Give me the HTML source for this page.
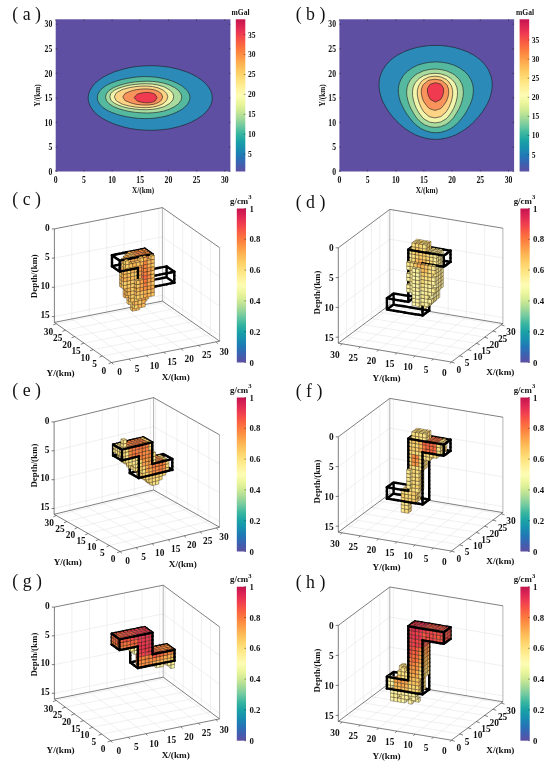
<!DOCTYPE html>
<html><head><meta charset="utf-8"><title>Figure</title>
<style>html,body{margin:0;padding:0;background:#fff}svg{display:block}text{font-family:"Liberation Serif","Times New Roman",serif;font-weight:700;fill:#111}</style>
</head><body>
<svg width="550" height="766" viewBox="0 0 550 766">
<rect width="550" height="766" fill="#fff"/>
<defs><linearGradient id="cb" x1="0" y1="0" x2="0" y2="1"><stop offset="0.00" stop-color="#c4144e"/><stop offset="0.05" stop-color="#de2654"/><stop offset="0.10" stop-color="#f03e50"/><stop offset="0.15" stop-color="#f95c42"/><stop offset="0.20" stop-color="#fc7a3e"/><stop offset="0.25" stop-color="#fd9846"/><stop offset="0.30" stop-color="#fdb654"/><stop offset="0.35" stop-color="#fece66"/><stop offset="0.40" stop-color="#fee27e"/><stop offset="0.45" stop-color="#fef19a"/><stop offset="0.50" stop-color="#fdfcb4"/><stop offset="0.55" stop-color="#ecf69c"/><stop offset="0.60" stop-color="#cee994"/><stop offset="0.65" stop-color="#a2d998"/><stop offset="0.70" stop-color="#70c9a0"/><stop offset="0.75" stop-color="#38b6a0"/><stop offset="0.80" stop-color="#1aa2a6"/><stop offset="0.85" stop-color="#188eb0"/><stop offset="0.90" stop-color="#2276b6"/><stop offset="0.95" stop-color="#3e60b0"/><stop offset="1.00" stop-color="#5e4fa2"/></linearGradient></defs>
<rect x="55.7" y="19.3" width="174.7" height="152.2" fill="#5e4fa2"/>
<path d="M142,129.9L147.1,130.2L152.7,130.3L158.3,130L159.5,129.9L163.8,129.5L169.4,128.8L174.9,127.6L179.5,126.4L180.5,126.1L186.1,124.3L189.6,122.8L191.6,121.9L196.6,119.3L197.2,118.9L201.9,115.7L202.8,115L205.9,112.2L208.3,109.1L208.7,108.6L210.8,105.1L211.9,101.5L212.3,98L211.9,94.5L210.8,90.9L208.7,87.4L208.3,86.9L205.9,83.8L202.8,81L201.9,80.3L197.2,77.1L196.6,76.7L191.6,74.1L189.6,73.2L186.1,71.7L180.5,69.9L179.5,69.6L174.9,68.4L169.4,67.2L163.8,66.5L159.5,66.1L158.3,66L152.7,65.7L147.1,65.8L142,66.1L141.6,66.1L136,66.6L130.4,67.5L124.9,68.7L121.8,69.6L119.3,70.3L113.7,72.1L111.4,73.2L108.2,74.5L104.1,76.7L102.6,77.5L98.6,80.3L97,81.6L94.5,83.8L91.8,87.4L91.5,87.9L89.7,90.9L88.5,94.5L88.1,98L88.5,101.5L89.7,105.1L91.5,108.1L91.8,108.6L94.5,112.2L97,114.4L98.6,115.7L102.6,118.5L104.1,119.3L108.2,121.5L111.4,122.8L113.7,123.9L119.3,125.7L121.8,126.4L124.9,127.3L130.4,128.5L136,129.4L141.6,129.9Z" fill="#2b8ab8" stroke="#1a1a1a" stroke-width=".6"/>
<path d="M128.7,117L133.2,117.8L138.7,118.4L144.2,118.6L149.6,118.5L155.1,118.1L160.5,117.2L161.4,117L166,116.1L171.4,114.4L173,113.8L176.9,112.1L179.9,110.5L182.4,108.9L184.5,107.3L187.6,104.1L187.8,103.6L189.4,100.8L190,97.6L189.4,94.4L187.8,91.6L187.6,91.1L184.5,87.9L182.4,86.3L179.9,84.7L176.9,83.1L173,81.4L171.4,80.8L166,79.1L161.4,78.2L160.5,78L155.1,77.1L149.6,76.7L144.2,76.6L138.7,76.8L133.2,77.4L128.7,78.2L127.8,78.3L122.3,79.4L116.9,80.9L115.6,81.4L111.4,82.9L107.7,84.7L106,85.6L102.7,87.9L100.5,90.2L99.6,91.1L97.8,94.4L97.3,97.6L97.8,100.8L99.6,104.1L100.5,105L102.7,107.3L106,109.6L107.7,110.5L111.4,112.3L115.6,113.8L116.9,114.3L122.3,115.8L127.8,116.9Z" fill="#55b9a0" stroke="#1a1a1a" stroke-width=".6"/>
<path d="M146.4,113L146.9,113L147.3,113L152.5,112.8L158,112.2L163.6,111.1L167.7,109.8L169.2,109.3L174.6,106.6L174.8,106.5L178.8,103.5L180.4,101.1L181,100.3L181.8,97.1L181,93.9L180.4,93.1L178.8,90.7L174.8,87.7L174.6,87.6L169.2,84.9L167.7,84.4L163.6,83.1L158,82L152.5,81.4L147.3,81.2L146.9,81.2L146.4,81.2L141.3,81.4L135.7,81.8L130.1,82.6L124.6,83.8L122.6,84.4L119,85.4L113.6,87.6L113.4,87.7L108.8,90.7L107.8,91.9L106.3,93.9L105.5,97.1L106.3,100.3L107.8,102.3L108.8,103.5L113.4,106.5L113.6,106.6L119,108.8L122.6,109.8L124.6,110.4L130.1,111.6L135.7,112.4L141.3,112.8Z" fill="#a9db9f" stroke="#1a1a1a" stroke-width=".6"/>
<path d="M122.4,106.5L123.8,107L129.5,108.3L135.2,109.1L140.9,109.6L146.5,109.7L152.2,109.4L157.9,108.5L163.6,106.8L164.4,106.5L169.2,103.8L170,103.2L172.9,100L173.7,96.7L172.9,93.5L170,90.3L169.2,89.7L164.4,87L163.6,86.7L157.9,85L152.2,84.1L146.5,83.8L140.9,83.9L135.2,84.4L129.5,85.2L123.8,86.5L122.4,87L118.2,88.4L114.4,90.3L112.5,91.8L110.8,93.5L109.8,96.8L110.8,100L112.5,101.7L114.4,103.2L118.2,105.1Z" fill="#f1f4ab" stroke="#1a1a1a" stroke-width=".6"/>
<path d="M136,107.1L140.7,107.6L146.5,107.7L152.3,107.2L152.7,107.1L158,105.9L163,103.7L163.8,103.1L166.7,100.3L167.8,96.8L166.7,93.4L163.8,90.6L163,90L158,87.8L152.7,86.6L152.3,86.5L146.5,86L140.7,86.1L136,86.6L135,86.7L129.2,87.7L123.4,89.2L121.4,90L117.7,92L115.9,93.4L114.4,96.8L115.9,100.3L117.7,101.7L121.4,103.7L123.4,104.5L129.2,106L135,107Z" fill="#fdd485" stroke="#1a1a1a" stroke-width=".6"/>
<path d="M133.5,103.7L136.7,104.4L142.2,105L147.7,105.1L153.1,104.4L155.6,103.7L158.6,102.4L161.3,100.4L162.7,97L161.3,93.6L158.6,91.6L155.6,90.3L153.1,89.6L147.7,88.9L142.2,89L136.7,89.6L133.5,90.3L131.3,90.9L125.8,93.1L124.9,93.6L122.8,97L124.9,100.4L125.8,100.9L131.3,103.1Z" fill="#f9935c" stroke="#1a1a1a" stroke-width=".6"/>
<path d="M137.2,100.9L139.9,101.9L144.5,102.7L149.1,102.8L153.7,101.7L155.1,100.9L157.1,97.6L155.1,94.3L153.7,93.5L149.1,92.4L144.5,92.5L139.9,93.3L137.2,94.3L135.3,96.1L134.2,97.6L135.3,99.1Z" fill="#ef3a50" stroke="#1a1a1a" stroke-width=".6"/>
<text transform="translate(55.7 183.4) scale(0.82 1)" font-size="9.4" text-anchor="middle">0</text>
<text transform="translate(52.3 174.7) scale(0.82 1)" font-size="9.4" text-anchor="end">0</text>
<text transform="translate(83.9 183.4) scale(0.82 1)" font-size="9.4" text-anchor="middle">5</text>
<text transform="translate(52.3 150.2) scale(0.82 1)" font-size="9.4" text-anchor="end">5</text>
<text transform="translate(112.1 183.4) scale(0.82 1)" font-size="9.4" text-anchor="middle">10</text>
<text transform="translate(52.3 125.6) scale(0.82 1)" font-size="9.4" text-anchor="end">10</text>
<text transform="translate(140.2 183.4) scale(0.82 1)" font-size="9.4" text-anchor="middle">15</text>
<text transform="translate(52.3 101.1) scale(0.82 1)" font-size="9.4" text-anchor="end">15</text>
<text transform="translate(168.4 183.4) scale(0.82 1)" font-size="9.4" text-anchor="middle">20</text>
<text transform="translate(52.3 76.5) scale(0.82 1)" font-size="9.4" text-anchor="end">20</text>
<text transform="translate(196.6 183.4) scale(0.82 1)" font-size="9.4" text-anchor="middle">25</text>
<text transform="translate(52.3 52) scale(0.82 1)" font-size="9.4" text-anchor="end">25</text>
<text transform="translate(224.8 183.4) scale(0.82 1)" font-size="9.4" text-anchor="middle">30</text>
<text transform="translate(52.3 27.4) scale(0.82 1)" font-size="9.4" text-anchor="end">30</text>
<path d="M55.7,171.5v-1.6M55.7,19.3v1.6M55.7,171.5h1.6M230.4,171.5h-1.6M83.9,171.5v-1.6M83.9,19.3v1.6M55.7,147h1.6M230.4,147h-1.6M112.1,171.5v-1.6M112.1,19.3v1.6M55.7,122.4h1.6M230.4,122.4h-1.6M140.2,171.5v-1.6M140.2,19.3v1.6M55.7,97.9h1.6M230.4,97.9h-1.6M168.4,171.5v-1.6M168.4,19.3v1.6M55.7,73.3h1.6M230.4,73.3h-1.6M196.6,171.5v-1.6M196.6,19.3v1.6M55.7,48.8h1.6M230.4,48.8h-1.6M224.8,171.5v-1.6M224.8,19.3v1.6M55.7,24.2h1.6M230.4,24.2h-1.6" stroke="#222" stroke-width=".5" fill="none"/>
<text transform="translate(143.1 193.1) scale(0.88 1)" font-size="8.2" text-anchor="middle">X/(km)</text>
<text transform="translate(39.5 95.4) rotate(-90) scale(0.88 1)" font-size="8.2" text-anchor="middle">Y/(km)</text>
<rect x="235.8" y="19.3" width="9.5" height="152.2" fill="url(#cb)"/>
<text transform="translate(247.9 157.1) scale(0.85 1)" font-size="8.9" text-anchor="start">5</text>
<text transform="translate(247.9 137.1) scale(0.85 1)" font-size="8.9" text-anchor="start">10</text>
<text transform="translate(247.9 117.2) scale(0.85 1)" font-size="8.9" text-anchor="start">15</text>
<text transform="translate(247.9 97.3) scale(0.85 1)" font-size="8.9" text-anchor="start">20</text>
<text transform="translate(247.9 77.4) scale(0.85 1)" font-size="8.9" text-anchor="start">25</text>
<text transform="translate(247.9 57.4) scale(0.85 1)" font-size="8.9" text-anchor="start">30</text>
<text transform="translate(247.9 37.5) scale(0.85 1)" font-size="8.9" text-anchor="start">35</text>
<path d="M245.3,154.2h-1.5M245.3,134.2h-1.5M245.3,114.3h-1.5M245.3,94.4h-1.5M245.3,74.5h-1.5M245.3,54.5h-1.5M245.3,34.6h-1.5" stroke="#222" stroke-width=".5" fill="none"/>
<text transform="translate(240.5 14.9) scale(0.88 1)" font-size="8.6" text-anchor="middle">mGal</text>
<text x="12.3" y="20.3" font-size="17.8" text-anchor="start" style="font-weight:400">( a )</text>
<rect x="339.4" y="19.3" width="174.7" height="152.2" fill="#5e4fa2"/>
<path d="M422.4,137.3L425.4,138.2L430.5,139.1L435.6,139.4L440.7,139.1L445.8,138.2L448.8,137.3L450.9,136.7L456.1,134.7L459.1,133L461.5,131.7L465.8,128.8L467,127.9L471,124.6L472.7,122.9L475.4,120.3L478.8,116.4L479.1,116.1L482.4,111.9L485.1,107.6L485.5,106.9L487.5,103.4L489.4,99.2L490.8,94.9L491.7,90.7L492.2,86.4L492.1,82.2L491.5,78L490.1,73.7L489.9,73.3L488.2,69.5L485.3,65.3L484.9,64.7L481.5,61L479.3,59.1L476.2,56.8L473.4,54.9L468.8,52.6L467.3,51.8L461.1,49.4L457.2,48.3L454.8,47.6L448.5,46.4L442,45.6L435.6,45.4L429.2,45.6L422.7,46.4L416.4,47.6L414,48.3L410.1,49.4L403.9,51.8L402.4,52.6L397.8,54.9L395,56.8L391.9,59.1L389.7,61L386.3,64.7L385.9,65.3L383,69.5L381.3,73.3L381.1,73.7L379.7,78L379.1,82.2L379,86.4L379.5,90.7L380.4,94.9L381.8,99.2L383.7,103.4L385.7,106.9L386.1,107.6L388.8,111.9L392.1,116.1L392.4,116.4L395.8,120.3L398.5,122.9L400.2,124.6L404.2,127.9L405.4,128.8L409.7,131.7L412.1,133L415.1,134.7L420.3,136.7Z" fill="#2b8ab8" stroke="#1a1a1a" stroke-width=".6"/>
<path d="M426.5,131L430.9,132.3L435.8,132.8L440.8,132.3L445.2,131L445.8,130.9L450.9,128.5L453.4,126.8L456.2,124.4L458.3,122.5L461.8,118.2L461.8,118.2L465,113.9L467.5,109.7L467.8,108.9L469.7,105.4L471.5,101.1L472.7,96.8L473.3,92.5L473.3,88.3L472.6,84L470.9,79.7L470.6,79.2L468.3,75.4L465.3,72.2L464.2,71.2L459.7,68L457.6,66.9L453.9,65.1L447.9,63.3L443.6,62.6L441.9,62.3L435.8,61.9L429.8,62.3L428.1,62.6L423.8,63.3L417.8,65.1L414.1,66.9L412,68L407.5,71.2L406.4,72.2L403.4,75.4L401.1,79.2L400.8,79.7L399.1,84L398.4,88.3L398.4,92.5L399,96.8L400.2,101.1L402,105.4L403.9,108.9L404.2,109.7L406.7,113.9L409.9,118.2L409.9,118.2L413.4,122.5L415.5,124.4L418.3,126.8L420.8,128.5L425.9,130.9Z" fill="#55b9a0" stroke="#1a1a1a" stroke-width=".6"/>
<path d="M428.8,126.4L429.8,126.8L435,127.4L440.2,126.8L441.2,126.4L445.5,124.8L449.3,122.1L450.8,120.7L453.5,117.8L456.3,113.5L456.4,113.2L458.8,109.2L460.7,104.9L462.1,100.7L462.6,98L463.1,96.4L463.4,92.1L463.1,89.7L463,87.8L461.7,83.5L459.1,79.2L458,78.1L454.5,74.9L452.4,73.5L446.7,70.9L445.3,70.6L440.9,69.5L435,69L429.1,69.5L424.7,70.6L423.3,70.9L417.6,73.5L415.5,74.9L412,78.1L410.9,79.2L408.3,83.5L407,87.8L406.9,89.7L406.6,92.1L406.9,96.4L407.4,98L407.9,100.7L409.3,104.9L411.2,109.2L413.6,113.2L413.7,113.5L416.5,117.8L419.2,120.7L420.7,122.1L424.5,124.8Z" fill="#a9db9f" stroke="#1a1a1a" stroke-width=".6"/>
<path d="M428.6,121.6L429.6,122.1L435,122.9L440.4,122.1L441.4,121.6L445.9,119L447.7,117.3L451,113L451.6,112L453.5,108.7L455.3,104.4L456.6,100L457.4,95.7L457.5,91.4L456.8,87.1L454.9,82.8L452.2,79.7L450.8,78.4L446.5,75.7L441.4,74.1L440.8,73.9L435,73.3L429.2,73.9L428.6,74.1L423.5,75.7L419.2,78.4L417.8,79.7L415.1,82.8L413.2,87.1L412.5,91.4L412.6,95.7L413.4,100L414.7,104.4L416.5,108.7L418.4,112L419,113L422.3,117.3L424.1,119Z" fill="#f1f4ab" stroke="#1a1a1a" stroke-width=".6"/>
<path d="M429,116.5L429.4,116.7L435,117.9L440.6,116.7L441,116.5L446,112.1L446.3,111.7L448.7,107.8L450.6,103.4L451.9,99.2L451.9,99.1L452.7,94.7L452.6,90.4L451.9,87.6L451.5,86L448.7,81.7L446.3,79.5L441.8,77.3L440.6,76.9L435,76.1L429.4,76.9L428.2,77.3L423.7,79.5L421.3,81.7L418.5,86L418.1,87.6L417.4,90.4L417.3,94.7L418.1,99.1L418.1,99.2L419.4,103.4L421.3,107.8L423.7,111.7L424,112.1Z" fill="#fdd485" stroke="#1a1a1a" stroke-width=".6"/>
<path d="M432.3,109.6L435,110.4L437.7,109.6L440.8,108.5L443.5,105.5L446.3,101.5L446.5,101L447.9,97.4L448.7,93.3L448.6,89.2L447.1,85.1L446.5,84.4L442.4,81L440.8,80.1L435,79.2L429.2,80.1L427.6,81L423.5,84.4L422.9,85.1L421.4,89.2L421.3,93.3L422.1,97.4L423.5,101L423.7,101.5L426.5,105.5L429.2,108.5Z" fill="#f9935c" stroke="#1a1a1a" stroke-width=".6"/>
<path d="M430.8,99.7L435.5,102.1L440.3,99.7L440.8,99.3L442.6,95.9L443.7,92.1L443.5,88.3L441.3,84.6L440.8,84.2L435.5,82.7L430.3,84.2L429.8,84.6L427.6,88.3L427.4,92.1L428.5,95.9L430.3,99.3Z" fill="#ef3a50" stroke="#1a1a1a" stroke-width=".6"/>
<text transform="translate(339.4 183.4) scale(0.82 1)" font-size="9.4" text-anchor="middle">0</text>
<text transform="translate(336 174.7) scale(0.82 1)" font-size="9.4" text-anchor="end">0</text>
<text transform="translate(367.6 183.4) scale(0.82 1)" font-size="9.4" text-anchor="middle">5</text>
<text transform="translate(336 150.2) scale(0.82 1)" font-size="9.4" text-anchor="end">5</text>
<text transform="translate(395.8 183.4) scale(0.82 1)" font-size="9.4" text-anchor="middle">10</text>
<text transform="translate(336 125.6) scale(0.82 1)" font-size="9.4" text-anchor="end">10</text>
<text transform="translate(423.9 183.4) scale(0.82 1)" font-size="9.4" text-anchor="middle">15</text>
<text transform="translate(336 101.1) scale(0.82 1)" font-size="9.4" text-anchor="end">15</text>
<text transform="translate(452.1 183.4) scale(0.82 1)" font-size="9.4" text-anchor="middle">20</text>
<text transform="translate(336 76.5) scale(0.82 1)" font-size="9.4" text-anchor="end">20</text>
<text transform="translate(480.3 183.4) scale(0.82 1)" font-size="9.4" text-anchor="middle">25</text>
<text transform="translate(336 52) scale(0.82 1)" font-size="9.4" text-anchor="end">25</text>
<text transform="translate(508.5 183.4) scale(0.82 1)" font-size="9.4" text-anchor="middle">30</text>
<text transform="translate(336 27.4) scale(0.82 1)" font-size="9.4" text-anchor="end">30</text>
<path d="M339.4,171.5v-1.6M339.4,19.3v1.6M339.4,171.5h1.6M514.1,171.5h-1.6M367.6,171.5v-1.6M367.6,19.3v1.6M339.4,147h1.6M514.1,147h-1.6M395.8,171.5v-1.6M395.8,19.3v1.6M339.4,122.4h1.6M514.1,122.4h-1.6M423.9,171.5v-1.6M423.9,19.3v1.6M339.4,97.9h1.6M514.1,97.9h-1.6M452.1,171.5v-1.6M452.1,19.3v1.6M339.4,73.3h1.6M514.1,73.3h-1.6M480.3,171.5v-1.6M480.3,19.3v1.6M339.4,48.8h1.6M514.1,48.8h-1.6M508.5,171.5v-1.6M508.5,19.3v1.6M339.4,24.2h1.6M514.1,24.2h-1.6" stroke="#222" stroke-width=".5" fill="none"/>
<text transform="translate(426.8 193.1) scale(0.88 1)" font-size="8.2" text-anchor="middle">X/(km)</text>
<text transform="translate(325 95.4) rotate(-90) scale(0.88 1)" font-size="8.2" text-anchor="middle">Y/(km)</text>
<rect x="519.6" y="19.3" width="9.6" height="152.2" fill="url(#cb)"/>
<text transform="translate(531.8 157.5) scale(0.85 1)" font-size="8.9" text-anchor="start">5</text>
<text transform="translate(531.8 138.4) scale(0.85 1)" font-size="8.9" text-anchor="start">10</text>
<text transform="translate(531.8 119.3) scale(0.85 1)" font-size="8.9" text-anchor="start">15</text>
<text transform="translate(531.8 100.2) scale(0.85 1)" font-size="8.9" text-anchor="start">20</text>
<text transform="translate(531.8 81.1) scale(0.85 1)" font-size="8.9" text-anchor="start">25</text>
<text transform="translate(531.8 62) scale(0.85 1)" font-size="8.9" text-anchor="start">30</text>
<text transform="translate(531.8 42.9) scale(0.85 1)" font-size="8.9" text-anchor="start">35</text>
<path d="M529.2,154.6h-1.5M529.2,135.5h-1.5M529.2,116.4h-1.5M529.2,97.3h-1.5M529.2,78.2h-1.5M529.2,59.1h-1.5M529.2,40h-1.5" stroke="#222" stroke-width=".5" fill="none"/>
<text transform="translate(525 14.9) scale(0.88 1)" font-size="8.6" text-anchor="middle">mGal</text>
<text x="295.7" y="20.3" font-size="17.8" text-anchor="start" style="font-weight:400">( b )</text>
<path d="M71.8,225.5L71.8,319M71.8,319L129,359.1M210.4,241.2L210.4,334.7M210.4,334.7L102.4,356M89.2,222L89.2,315.5M89.2,315.5L146.4,355.6M201.1,234.8L201.1,328.3M201.1,328.3L93.1,349.6M106.7,218.6L106.7,312.1M106.7,312.1L163.9,352.2M191.9,228.3L191.9,321.8M191.9,321.8L83.9,343.1M124.1,215.2L124.1,308.7M124.1,308.7L181.3,348.8M182.7,221.8L182.7,315.3M182.7,315.3L74.7,336.6M141.5,211.7L141.5,305.2M141.5,305.2L198.7,345.3M173.5,215.4L173.5,308.9M173.5,308.9L65.5,330.2M158.9,208.3L158.9,301.8M158.9,301.8L216.1,341.9M164.2,208.9L164.2,302.4M164.2,302.4L56.2,323.7M54.4,258.1L162.4,236.8M162.4,236.8L219.6,276.9M54.4,287.3L162.4,266M162.4,266L219.6,306.1M54.4,316.6L162.4,295.3M162.4,295.3L219.6,335.4" stroke="#e4e4e4" stroke-width=".55" fill="none"/>
<path d="M162.4,207.6L162.4,301.1M219.6,247.7L219.6,341.2" stroke="#8a8a8a" stroke-width=".65" fill="none"/>
<path d="M54.4,228.9L54.4,322.4M54.4,228.9L162.4,207.6M162.4,207.6L219.6,247.7M54.4,322.4L162.4,301.1M162.4,301.1L219.6,341.2M54.4,322.4L111.6,362.5M111.6,362.5L219.6,341.2M111.6,362.5l1.7,1.8M111.6,362.5l-3.1,1.2M129,359.1l1.7,1.8M102.4,356l-3.1,1.2M146.4,355.6l1.7,1.8M93.1,349.6l-3.1,1.2M163.9,352.2l1.7,1.8M83.9,343.1l-3.1,1.2M181.3,348.8l1.7,1.8M74.7,336.6l-3.1,1.2M198.7,345.3l1.7,1.8M65.5,330.2l-3.1,1.2M216.1,341.9l1.7,1.8M56.2,323.7l-3.1,1.2M54.4,228.9h-2.6M54.4,258.1h-2.6M54.4,287.3h-2.6M54.4,316.6h-2.6" stroke="#3a3a3a" stroke-width=".65" fill="none"/>
<g stroke="#2e2010" stroke-width=".37" stroke-linejoin="round">
<path d="M166.6,273.6L166.6,277.3M166.6,277.3L162.9,278M166.6,270L166.6,273.6M166.6,266.3L166.6,270M168.5,278.7L166.6,277.3M162.9,278L159.3,278.7M162.9,267.1L166.6,266.3M168.5,267.7L166.6,266.3M159.3,278.7L155.7,279.4M159.3,267.8L162.9,267.1M170.5,280L168.5,278.7M155.7,279.4L152,280.2M155.7,268.5L159.3,267.8M170.5,269.1L168.5,267.7M152,280.2L148.4,280.9M152,269.2L155.7,268.5M172.4,281.4L170.5,280M148.4,280.9L144.7,281.6M148.4,269.9L152,269.2M172.4,270.4L170.5,269.1M144.7,281.6L141.1,282.3M144.7,270.6L148.4,269.9M174.3,282.7L172.4,281.4" stroke="#000" stroke-width="2.4" stroke-linecap="round" fill="none"/>
<path d="M144.7,267L144.7,270.6" stroke="#000" stroke-width="2.4" stroke-linecap="round" fill="none"/>
<path d="M141.1,282.3L137.5,283M144.7,263.3L144.7,267" stroke="#000" stroke-width="2.4" stroke-linecap="round" fill="none"/>
<path d="M174.3,271.8L172.4,270.4M174.3,279.1L174.3,282.7M144.7,259.7L144.7,263.3" stroke="#000" stroke-width="2.4" stroke-linecap="round" fill="none"/>
<path d="M146.7,272L144.7,270.6M174.3,282.7L170.7,283.4M174.3,275.4L174.3,279.1M144.7,256L144.7,259.7" stroke="#000" stroke-width="2.4" stroke-linecap="round" fill="none"/>
<path d="M174.3,271.8L174.3,275.4M137.5,283L133.8,283.8M144.7,252.4L144.7,256" stroke="#000" stroke-width="2.4" stroke-linecap="round" fill="none"/>
<path d="M144.7,248.7L144.7,252.4" stroke="#000" stroke-width="2.4" stroke-linecap="round" fill="none"/>
<path d="M170.7,283.4L167,284.2M170.7,272.5L174.3,271.8" stroke="#000" stroke-width="2.4" stroke-linecap="round" fill="none"/>
<path d="M133.8,283.8L130.2,284.5M141.1,249.5L144.7,248.7" stroke="#000" stroke-width="2.4" stroke-linecap="round" fill="none"/>
<path d="M132.1,293.1L130.2,291.8L130.2,295.4L132.1,296.8Z" fill="#f3a74d"/>
<path d="M137.7,301.1L135.8,299.7L135.8,303.4L137.7,304.7Z" fill="#f4c05d"/>
<path d="M148.6,273.4L146.7,272" stroke="#000" stroke-width="2.4" stroke-linecap="round" fill="none"/>
<path d="M146.7,250.1L144.7,248.7M167,284.2L163.4,284.9M167,273.2L170.7,272.5" stroke="#000" stroke-width="2.4" stroke-linecap="round" fill="none"/>
<path d="M130.2,284.5L130.2,280.8" stroke="#000" stroke-width="2.4" stroke-linecap="round" fill="none"/>
<path d="M143,250.8L146.7,250.1L144.7,248.7L141.1,249.5Z" fill="#fda04a"/>
<path d="M130.2,280.8L130.2,277.2M137.5,250.2L141.1,249.5" stroke="#000" stroke-width="2.4" stroke-linecap="round" fill="none"/>
<path d="M146.9,290L150.5,289.3L150.5,293L146.9,293.7Z" fill="#fbc15d"/>
<path d="M130.2,277.2L130.2,273.5" stroke="#000" stroke-width="2.4" stroke-linecap="round" fill="none"/>
<path d="M128.5,290.2L126.5,288.8L126.5,292.5L128.5,293.9Z" fill="#f3b757"/>
<path d="M132.1,285.8L130.2,284.5" stroke="#000" stroke-width="2.4" stroke-linecap="round" fill="none"/>
<path d="M143.3,298.1L146.9,297.4L146.9,301L143.3,301.7Z" fill="#fabe5b"/>
<path d="M163.4,284.9L159.8,285.6M163.4,273.9L167,273.2" stroke="#000" stroke-width="2.4" stroke-linecap="round" fill="none"/>
<path d="M134,298.1L132.1,296.8L132.1,300.4L134,301.8Z" fill="#f4bd5c"/>
<path d="M130.2,273.5L130.2,269.9" stroke="#000" stroke-width="2.4" stroke-linecap="round" fill="none"/>
<path d="M128.5,286.6L126.5,285.2L126.5,288.8L128.5,290.2Z" fill="#f3ac4f"/>
<path d="M139.4,251.5L143,250.8L141.1,249.5L137.5,250.2Z" fill="#fd9846"/>
<path d="M134,294.5L132.1,293.1L132.1,296.8L134,298.1Z" fill="#f3a74d"/>
<path d="M130.2,269.9L130.2,266.2M133.8,250.9L137.5,250.2" stroke="#000" stroke-width="2.4" stroke-linecap="round" fill="none"/>
<path d="M128.5,282.9L126.5,281.5L126.5,285.2L128.5,286.6Z" fill="#f3b454"/>
<path d="M150.5,274.7L148.6,273.4" stroke="#000" stroke-width="2.4" stroke-linecap="round" fill="none"/>
<path d="M130.2,266.2L130.2,262.6M148.6,251.4L146.7,250.1" stroke="#000" stroke-width="2.4" stroke-linecap="round" fill="none"/>
<path d="M159.8,285.6L156.1,286.3M159.8,274.6L163.4,273.9" stroke="#000" stroke-width="2.4" stroke-linecap="round" fill="none"/>
<path d="M145,252.2L148.6,251.4L146.7,250.1L143,250.8Z" fill="#fd9545"/>
<path d="M135.8,252.2L139.4,251.5L137.5,250.2L133.8,250.9Z" fill="#fd8e43"/>
<path d="M136,306.8L139.6,306.1L139.6,309.7L136,310.5Z" fill="#fbc661"/>
<path d="M130.2,262.6L126.5,263.3M130.2,251.6L133.8,250.9" stroke="#000" stroke-width="2.4" stroke-linecap="round" fill="none"/>
<path d="M130.4,291.6L128.5,290.2L128.5,293.9L130.4,295.2Z" fill="#f3b454"/>
<path d="M134,287.2L132.1,285.8" stroke="#000" stroke-width="2.4" stroke-linecap="round" fill="none"/>
<path d="M124.8,280L122.9,278.6L122.9,282.3L124.8,283.6Z" fill="#f4c662"/>
<path d="M132.1,263.9L130.2,262.6" stroke="#000" stroke-width="2.4" stroke-linecap="round" fill="none"/>
<path d="M156.1,286.3L152.5,287M156.1,275.4L159.8,274.6" stroke="#000" stroke-width="2.4" stroke-linecap="round" fill="none"/>
<path d="M130.4,287.9L128.5,286.6L128.5,290.2L130.4,291.6Z" fill="#f4bb5a"/>
<path d="M141.3,252.9L145,252.2L143,250.8L139.4,251.5Z" fill="#fd8a42"/>
<path d="M145.2,295.8L148.8,295.1L148.8,298.7L145.2,299.4Z" fill="#fab856"/>
<path d="M124.8,276.3L122.9,275L122.9,278.6L124.8,280Z" fill="#f3b052"/>
<path d="M132.1,253L135.8,252.2L133.8,250.9L130.2,251.6Z" fill="#fda34b"/>
<path d="M132.3,307.5L136,306.8L136,310.5L132.3,311.2Z" fill="#fabb58"/>
<path d="M132.3,307.5L130.4,306.2L130.4,309.8L132.3,311.2Z" fill="#f3b555"/>
<path d="M130.4,284.3L128.5,282.9L128.5,286.6L130.4,287.9Z" fill="#f4c965"/>
<path d="M126.5,263.3L122.9,264M126.5,252.3L130.2,251.6" stroke="#000" stroke-width="2.4" stroke-linecap="round" fill="none"/>
<path d="M141.6,303.8L145.2,303.1L145.2,306.7L141.6,307.5Z" fill="#fbc35f"/>
<path d="M124.8,272.7L122.9,271.3L122.9,275L124.8,276.3Z" fill="#f3ba59"/>
<path d="M128.5,261L126.5,259.6L126.5,263.3L128.5,264.6Z" fill="#f4bc5a"/>
<path d="M152.5,276.1L150.5,274.7" stroke="#000" stroke-width="2.4" stroke-linecap="round" fill="none"/>
<path d="M132.3,303.9L130.4,302.5L130.4,306.2L132.3,307.5Z" fill="#f4c966"/>
<path d="M150.5,252.8L148.6,251.4" stroke="#000" stroke-width="2.4" stroke-linecap="round" fill="none"/>
<path d="M141.6,300.1L145.2,299.4L145.2,303.1L141.6,303.8Z" fill="#faac4f"/>
<path d="M124.8,269L122.9,267.6L122.9,271.3L124.8,272.7Z" fill="#f4bc5b"/>
<path d="M128.5,257.3L126.5,256L126.5,259.6L128.5,261Z" fill="#f4c25f"/>
<path d="M146.9,253.5L150.5,252.8L148.6,251.4L145,252.2Z" fill="#fd9345"/>
<path d="M152.5,287L148.8,287.8M152.5,276.1L156.1,275.4" stroke="#000" stroke-width="2.4" stroke-linecap="round" fill="none"/>
<path d="M137.7,253.6L141.3,252.9L139.4,251.5L135.8,252.2Z" fill="#fc7b3e"/>
<path d="M141.6,296.5L145.2,295.8L145.2,299.4L141.6,300.1Z" fill="#faaa4f"/>
<path d="M124.8,265.4L128.5,264.6L126.5,263.3L122.9,264Z" fill="#fed26a"/>
<path d="M124.8,265.4L122.9,264L122.9,267.6L124.8,269Z" fill="#f4ca66"/>
<path d="M128.5,253.7L132.1,253L130.2,251.6L126.5,252.3Z" fill="#fdb152"/>
<path d="M128.5,253.7L126.5,252.3L126.5,256L128.5,257.3Z" fill="#f3aa4f"/>
<path d="M150.8,292.8L154.4,292L154.4,295.7L150.8,296.4Z" fill="#fbc761"/>
<path d="M122.9,264L119.2,264.7M122.9,253L126.5,252.3" stroke="#000" stroke-width="2.4" stroke-linecap="round" fill="none"/>
<path d="M137.9,304.5L141.6,303.8L141.6,307.5L137.9,308.2Z" fill="#fab252"/>
<path d="M136,288.5L134,287.2M152.5,272.4L152.5,276.1" stroke="#000" stroke-width="2.4" stroke-linecap="round" fill="none"/>
<path d="M150.8,289.1L154.4,288.4L154.4,292L150.8,292.8Z" fill="#fab051"/>
<path d="M126.8,281.3L124.8,280L124.8,283.6L126.8,285Z" fill="#f3b454"/>
<path d="M134,265.3L132.1,263.9" stroke="#000" stroke-width="2.4" stroke-linecap="round" fill="none"/>
<path d="M137.9,300.9L141.6,300.1L141.6,303.8L137.9,304.5Z" fill="#fbcb64"/>
<path d="M128.7,300.9L132.3,300.2L132.3,303.9L128.7,304.6Z" fill="#fbd16b"/>
<path d="M128.7,300.9L126.8,299.6L126.8,303.2L128.7,304.6Z" fill="#f4cb68"/>
<path d="M143.3,254.2L146.9,253.5L145,252.2L141.3,252.9Z" fill="#fc8641"/>
<path d="M148.8,287.8L145.2,288.5M152.5,268.8L152.5,272.4" stroke="#000" stroke-width="2.4" stroke-linecap="round" fill="none"/>
<path d="M150.8,285.5L154.4,284.7L154.4,288.4L150.8,289.1Z" fill="#faae50"/>
<path d="M126.8,277.7L124.8,276.3L124.8,280L126.8,281.3Z" fill="#f3ad50"/>
<path d="M134,254.3L137.7,253.6L135.8,252.2L132.1,253Z" fill="#fd9244"/>
<path d="M137.9,297.2L141.6,296.5L141.6,300.1L137.9,300.9Z" fill="#fab655"/>
<path d="M128.7,297.3L126.8,295.9L126.8,299.6L128.7,300.9Z" fill="#f4bb5a"/>
<path d="M152.5,265.1L152.5,268.8" stroke="#000" stroke-width="2.4" stroke-linecap="round" fill="none"/>
<path d="M147.1,293.5L150.8,292.8L150.8,296.4L147.1,297.1Z" fill="#fab453"/>
<path d="M150.8,281.8L154.4,281.1L154.4,284.7L150.8,285.5Z" fill="#fbc560"/>
<path d="M126.8,274L124.8,272.7L124.8,276.3L126.8,277.7Z" fill="#f3af51"/>
<path d="M119.2,264.7L115.6,265.4M119.2,253.8L122.9,253" stroke="#000" stroke-width="2.4" stroke-linecap="round" fill="none"/>
<path d="M134.3,305.2L137.9,304.5L137.9,308.2L134.3,308.9Z" fill="#fbd16c"/>
<path d="M134.3,305.2L132.3,303.9L132.3,307.5L134.3,308.9Z" fill="#f4cb69"/>
<path d="M152.5,254.2L150.5,252.8" stroke="#000" stroke-width="2.4" stroke-linecap="round" fill="none"/>
<path d="M152.5,261.5L152.5,265.1" stroke="#000" stroke-width="2.4" stroke-linecap="round" fill="none"/>
<path d="M147.1,289.8L150.8,289.1L150.8,292.8L147.1,293.5Z" fill="#fabf5b"/>
<path d="M150.8,278.2L154.4,277.4L154.4,281.1L150.8,281.8Z" fill="#faaf51"/>
<path d="M126.8,270.4L124.8,269L124.8,272.7L126.8,274Z" fill="#f4bf5d"/>
<path d="M134.3,301.6L137.9,300.9L137.9,304.5L134.3,305.2Z" fill="#fab453"/>
<path d="M134.3,301.6L132.3,300.2L132.3,303.9L134.3,305.2Z" fill="#f3af51"/>
<path d="M148.8,254.9L152.5,254.2L150.5,252.8L146.9,253.5Z" fill="#fdb353"/>
<path d="M139.6,255L143.3,254.2L141.3,252.9L137.7,253.6Z" fill="#fc8942"/>
<path d="M145.2,288.5L141.6,289.2M152.5,257.8L152.5,261.5" stroke="#000" stroke-width="2.4" stroke-linecap="round" fill="none"/>
<path d="M147.1,286.2L150.8,285.5L150.8,289.1L147.1,289.8Z" fill="#fa9c48"/>
<path d="M150.8,274.5L154.4,273.8L154.4,277.4L150.8,278.2Z" fill="#fbc35e"/>
<path d="M126.8,266.7L124.8,265.4L124.8,269L126.8,270.4Z" fill="#f4cc69"/>
<path d="M130.4,255L134,254.3L132.1,253L128.5,253.7Z" fill="#fdba57"/>
<path d="M134.3,297.9L137.9,297.2L137.9,300.9L134.3,301.6Z" fill="#fbd06a"/>
<path d="M152.5,254.2L152.5,257.8" stroke="#000" stroke-width="2.4" stroke-linecap="round" fill="none"/>
<path d="M143.5,294.2L147.1,293.5L147.1,297.1L143.5,297.9Z" fill="#faaa4e"/>
<path d="M147.1,282.5L150.8,281.8L150.8,285.5L147.1,286.2Z" fill="#faab4f"/>
<path d="M150.8,270.9L154.4,270.1L154.4,273.8L150.8,274.5Z" fill="#fbc15d"/>
<path d="M126.8,263.1L124.8,261.7L124.8,265.4L126.8,266.7Z" fill="#f4c561"/>
<path d="M115.6,265.4L112,266.2M115.6,254.5L119.2,253.8" stroke="#000" stroke-width="2.4" stroke-linecap="round" fill="none"/>
<path d="M137.9,289.9L136,288.5" stroke="#000" stroke-width="2.4" stroke-linecap="round" fill="none"/>
<path d="M125.1,294.4L128.7,293.6L128.7,297.3L125.1,298Z" fill="#fab453"/>
<path d="M125.1,294.4L123.1,293L123.1,296.7L125.1,298Z" fill="#f3af51"/>
<path d="M136,266.6L134,265.3" stroke="#000" stroke-width="2.4" stroke-linecap="round" fill="none"/>
<path d="M143.5,290.5L147.1,289.8L147.1,293.5L143.5,294.2Z" fill="#fab152"/>
<path d="M147.1,278.9L150.8,278.2L150.8,281.8L147.1,282.5Z" fill="#faa04a"/>
<path d="M150.8,267.2L154.4,266.5L154.4,270.1L150.8,270.9Z" fill="#fab252"/>
<path d="M126.8,259.4L124.8,258.1L124.8,261.7L126.8,263.1Z" fill="#f3b958"/>
<path d="M145.2,255.6L148.8,254.9L146.9,253.5L143.3,254.2Z" fill="#fc7c3e"/>
<path d="M145.2,255.6L148.8,254.9L148.8,258.5L145.2,259.3Z" fill="#f97b3d"/>
<path d="M125.1,290.7L123.1,289.3L123.1,293L125.1,294.4Z" fill="#f3b958"/>
<path d="M136,255.7L139.6,255L137.7,253.6L134,254.3Z" fill="#fc8842"/>
<path d="M141.6,289.2L137.9,289.9M148.8,254.9L152.5,254.2" stroke="#000" stroke-width="2.4" stroke-linecap="round" fill="none"/>
<path d="M143.5,286.9L147.1,286.2L147.1,289.8L143.5,290.5Z" fill="#fa9143"/>
<path d="M147.1,275.2L150.8,274.5L150.8,278.2L147.1,278.9Z" fill="#f98641"/>
<path d="M150.8,263.5L154.4,262.8L154.4,266.5L150.8,267.2Z" fill="#fbcc65"/>
<path d="M126.8,255.8L130.4,255L128.5,253.7L124.8,254.4Z" fill="#fec660"/>
<path d="M126.8,255.8L124.8,254.4L124.8,258.1L126.8,259.4Z" fill="#f4be5c"/>
<path d="M112,266.2L112,262.5" stroke="#000" stroke-width="2.4" stroke-linecap="round" fill="none"/>
<path d="M130.6,298.6L134.3,297.9L134.3,301.6L130.6,302.3Z" fill="#fbc45f"/>
<path d="M130.6,298.6L128.7,297.3L128.7,300.9L130.6,302.3Z" fill="#f4be5c"/>
<path d="M137.9,275.3L141.6,274.6L141.6,278.2L137.9,279Z" fill="#fab152"/>
<path d="M125.1,287.1L123.1,285.7L123.1,289.3L125.1,290.7Z" fill="#f4c662"/>
<path d="M139.9,294.9L143.5,294.2L143.5,297.9L139.9,298.6Z" fill="#fbc762"/>
<path d="M143.5,283.2L147.1,282.5L147.1,286.2L143.5,286.9Z" fill="#f97a3d"/>
<path d="M147.1,271.6L150.8,270.9L150.8,274.5L147.1,275.2Z" fill="#fa9946"/>
<path d="M150.8,259.9L154.4,259.2L154.4,262.8L150.8,263.5Z" fill="#fabc59"/>
<path d="M112,262.5L112,258.8M112,255.2L115.6,254.5" stroke="#000" stroke-width="2.4" stroke-linecap="round" fill="none"/>
<path d="M130.6,295L134.3,294.3L134.3,297.9L130.6,298.6Z" fill="#fbcb64"/>
<path d="M130.6,295L128.7,293.6L128.7,297.3L130.6,298.6Z" fill="#f4c561"/>
<path d="M137.9,271.6L141.6,270.9L141.6,274.6L137.9,275.3Z" fill="#faa54c"/>
<path d="M137.9,289.9L137.9,286.3" stroke="#000" stroke-width="2.4" stroke-linecap="round" fill="none"/>
<path d="M139.9,291.3L143.5,290.5L143.5,294.2L139.9,294.9Z" fill="#fac05c"/>
<path d="M143.5,279.6L147.1,278.9L147.1,282.5L143.5,283.2Z" fill="#f9793d"/>
<path d="M147.1,267.9L150.8,267.2L150.8,270.9L147.1,271.6Z" fill="#fa9846"/>
<path d="M150.8,256.2L154.4,255.5L152.5,254.2L148.8,254.9Z" fill="#fec962"/>
<path d="M150.8,256.2L154.4,255.5L154.4,259.2L150.8,259.9Z" fill="#fbc761"/>
<path d="M150.8,256.2L148.8,254.9L148.8,258.5L150.8,259.9Z" fill="#f4c15e"/>
<path d="M112,258.8L112,255.2" stroke="#000" stroke-width="2.4" stroke-linecap="round" fill="none"/>
<path d="M130.6,291.3L134.3,290.6L134.3,294.3L130.6,295Z" fill="#fbd16b"/>
<path d="M137.9,268L141.6,267.3L141.6,270.9L137.9,271.6Z" fill="#fa9c48"/>
<path d="M141.6,256.3L145.2,255.6L143.3,254.2L139.6,255Z" fill="#fc793e"/>
<path d="M113.9,267.5L112,266.2" stroke="#000" stroke-width="2.4" stroke-linecap="round" fill="none"/>
<path d="M132.3,256.4L136,255.7L134,254.3L130.4,255Z" fill="#fdb654"/>
<path d="M137.9,286.3L137.9,282.6M145.2,255.6L148.8,254.9" stroke="#000" stroke-width="2.4" stroke-linecap="round" fill="none"/>
<path d="M139.9,287.6L143.5,286.9L143.5,290.5L139.9,291.3Z" fill="#fa9e49"/>
<path d="M143.5,275.9L147.1,275.2L147.1,278.9L143.5,279.6Z" fill="#f8683f"/>
<path d="M143.5,275.9L141.6,274.6L141.6,278.2L143.5,279.6Z" fill="#f0653d"/>
<path d="M147.1,264.3L150.8,263.5L150.8,267.2L147.1,267.9Z" fill="#faab4f"/>
<path d="M130.6,287.7L134.3,287L134.3,290.6L130.6,291.3Z" fill="#fbcf69"/>
<path d="M134.3,276L137.9,275.3L137.9,279L134.3,279.7Z" fill="#fbc05c"/>
<path d="M137.9,264.3L141.6,263.6L141.6,267.3L137.9,268Z" fill="#fa9d48"/>
<path d="M137.9,282.6L137.9,279" stroke="#000" stroke-width="2.4" stroke-linecap="round" fill="none"/>
<path d="M136.2,295.6L139.9,294.9L139.9,298.6L136.2,299.3Z" fill="#fbd06a"/>
<path d="M136.2,295.6L134.3,294.3L134.3,297.9L136.2,299.3Z" fill="#f4ca67"/>
<path d="M139.9,284L143.5,283.2L143.5,286.9L139.9,287.6Z" fill="#faa54c"/>
<path d="M143.5,272.3L147.1,271.6L147.1,275.2L143.5,275.9Z" fill="#f9783d"/>
<path d="M143.5,272.3L141.6,270.9L141.6,274.6L143.5,275.9Z" fill="#f2743c"/>
<path d="M147.1,260.6L150.8,259.9L148.8,258.5L145.2,259.3Z" fill="#fdb654"/>
<path d="M147.1,260.6L150.8,259.9L150.8,263.5L147.1,264.3Z" fill="#fab453"/>
<path d="M130.6,284L134.3,283.3L134.3,287L130.6,287.7Z" fill="#fbcf69"/>
<path d="M134.3,272.4L137.9,271.6L137.9,275.3L134.3,276Z" fill="#fbce67"/>
<path d="M137.9,268L136,266.6" stroke="#000" stroke-width="2.4" stroke-linecap="round" fill="none"/>
<path d="M121.4,284.1L119.5,282.8L119.5,286.4L121.4,287.8Z" fill="#f3b454"/>
<path d="M137.9,279L137.9,275.3" stroke="#000" stroke-width="2.4" stroke-linecap="round" fill="none"/>
<path d="M136.2,292L139.9,291.3L139.9,294.9L136.2,295.6Z" fill="#fabd5a"/>
<path d="M136.2,292L134.3,290.6L134.3,294.3L136.2,295.6Z" fill="#f3b757"/>
<path d="M139.9,280.3L143.5,279.6L141.6,278.2L137.9,279Z" fill="#fda44b"/>
<path d="M139.9,280.3L143.5,279.6L143.5,283.2L139.9,284Z" fill="#faa24a"/>
<path d="M143.5,268.6L147.1,267.9L147.1,271.6L143.5,272.3Z" fill="#f98540"/>
<path d="M143.5,268.6L141.6,267.3L141.6,270.9L143.5,272.3Z" fill="#f2813e"/>
<path d="M127,292.1L130.6,291.3L130.6,295L127,295.7Z" fill="#fab856"/>
<path d="M127,292.1L125.1,290.7L125.1,294.4L127,295.7Z" fill="#f3b354"/>
<path d="M130.6,280.4L134.3,279.7L134.3,283.3L130.6,284Z" fill="#fbd16c"/>
<path d="M134.3,268.7L137.9,268L137.9,271.6L134.3,272.4Z" fill="#fbc761"/>
<path d="M137.9,257L141.6,256.3L139.6,255L136,255.7Z" fill="#fc8140"/>
<path d="M113.9,256.6L112,255.2" stroke="#000" stroke-width="2.4" stroke-linecap="round" fill="none"/>
<path d="M121.4,280.5L119.5,279.1L119.5,282.8L121.4,284.1Z" fill="#f4bc5b"/>
<path d="M128.7,257.1L132.3,256.4L130.4,255L126.8,255.8Z" fill="#fec25d"/>
<path d="M137.9,275.3L137.9,271.6M141.6,256.3L145.2,255.6" stroke="#000" stroke-width="2.4" stroke-linecap="round" fill="none"/>
<path d="M136.2,288.3L139.9,287.6L139.9,291.3L136.2,292Z" fill="#fab756"/>
<path d="M136.2,288.3L134.3,287L134.3,290.6L136.2,292Z" fill="#f3b254"/>
<path d="M143.5,265L147.1,264.3L147.1,267.9L143.5,268.6Z" fill="#f98640"/>
<path d="M143.5,265L141.6,263.6L141.6,267.3L143.5,268.6Z" fill="#f2823e"/>
<path d="M127,288.4L130.6,287.7L130.6,291.3L127,292.1Z" fill="#fab755"/>
<path d="M127,288.4L125.1,287.1L125.1,290.7L127,292.1Z" fill="#f3b253"/>
<path d="M130.6,276.7L134.3,276L134.3,279.7L130.6,280.4Z" fill="#fabe5b"/>
<path d="M134.3,265.1L137.9,264.3L137.9,268L134.3,268.7Z" fill="#fabb58"/>
<path d="M121.4,276.8L119.5,275.5L119.5,279.1L121.4,280.5Z" fill="#f3b253"/>
<path d="M125.1,265.1L123.1,263.8L123.1,267.4L125.1,268.8Z" fill="#f4cb68"/>
<path d="M137.9,271.6L137.9,268" stroke="#000" stroke-width="2.4" stroke-linecap="round" fill="none"/>
<path d="M136.2,284.7L139.9,284L139.9,287.6L136.2,288.3Z" fill="#fbc762"/>
<path d="M136.2,284.7L134.3,283.3L134.3,287L136.2,288.3Z" fill="#f4c15f"/>
<path d="M143.5,261.3L147.1,260.6L147.1,264.3L143.5,265Z" fill="#f98640"/>
<path d="M127,284.8L130.6,284L130.6,287.7L127,288.4Z" fill="#fbc963"/>
<path d="M130.6,273.1L134.3,272.4L134.3,276L130.6,276.7Z" fill="#fbc962"/>
<path d="M121.4,273.2L119.5,271.8L119.5,275.5L121.4,276.8Z" fill="#f4cb68"/>
<path d="M125.1,261.5L123.1,260.1L123.1,263.8L125.1,265.1Z" fill="#f4c662"/>
<path d="M136.2,281L139.9,280.3L137.9,279L134.3,279.7Z" fill="#fecc65"/>
<path d="M136.2,281L139.9,280.3L139.9,284L136.2,284.7Z" fill="#fbca64"/>
<path d="M136.2,281L134.3,279.7L134.3,283.3L136.2,284.7Z" fill="#f4c461"/>
<path d="M143.5,257.7L147.1,257L145.2,255.6L141.6,256.3Z" fill="#fdb252"/>
<path d="M143.5,257.7L147.1,257L147.1,260.6L143.5,261.3Z" fill="#fab051"/>
<path d="M115.8,268.9L113.9,267.5" stroke="#000" stroke-width="2.4" stroke-linecap="round" fill="none"/>
<path d="M127,281.1L130.6,280.4L130.6,284L127,284.8Z" fill="#fbca63"/>
<path d="M130.6,269.4L134.3,268.7L134.3,272.4L130.6,273.1Z" fill="#fab252"/>
<path d="M134.3,257.8L137.9,257L136,255.7L132.3,256.4Z" fill="#fda34b"/>
<path d="M134.3,257.8L137.9,257L137.9,260.7L134.3,261.4Z" fill="#faa14a"/>
<path d="M121.4,269.5L125.1,268.8L123.1,267.4L119.5,268.1Z" fill="#fec660"/>
<path d="M121.4,269.5L119.5,268.1L119.5,271.8L121.4,273.2Z" fill="#f4be5c"/>
<path d="M125.1,257.8L128.7,257.1L126.8,255.8L123.1,256.5Z" fill="#fdb051"/>
<path d="M125.1,257.8L123.1,256.5L123.1,260.1L125.1,261.5Z" fill="#f3a94e"/>
<path d="M137.9,268L134.3,268.7M137.9,257L141.6,256.3" stroke="#000" stroke-width="2.4" stroke-linecap="round" fill="none"/>
<path d="M127,277.5L130.6,276.7L130.6,280.4L127,281.1Z" fill="#fabb58"/>
<path d="M130.6,265.8L134.3,265.1L134.3,268.7L130.6,269.4Z" fill="#fbc45f"/>
<path d="M139.9,262L143.5,261.3L143.5,265L139.9,265.7Z" fill="#fab252"/>
<path d="M123.4,285.5L127,284.8L127,288.4L123.4,289.1Z" fill="#fbc761"/>
<path d="M123.4,285.5L121.4,284.1L121.4,287.8L123.4,289.1Z" fill="#f4c15e"/>
<path d="M127,273.8L130.6,273.1L130.6,276.7L127,277.5Z" fill="#fabc59"/>
<path d="M139.9,258.4L143.5,257.7L141.6,256.3L137.9,257Z" fill="#fec45e"/>
<path d="M139.9,258.4L143.5,257.7L143.5,261.3L139.9,262Z" fill="#fbc25d"/>
<path d="M139.9,258.4L137.9,257L137.9,260.7L139.9,262Z" fill="#f4bc5a"/>
<path d="M115.8,257.9L113.9,256.6" stroke="#000" stroke-width="2.4" stroke-linecap="round" fill="none"/>
<path d="M123.4,281.8L127,281.1L127,284.8L123.4,285.5Z" fill="#fbd16c"/>
<path d="M123.4,281.8L121.4,280.5L121.4,284.1L123.4,285.5Z" fill="#f4cb69"/>
<path d="M127,270.1L130.6,269.4L130.6,273.1L127,273.8Z" fill="#fbd06a"/>
<path d="M130.6,258.5L134.3,257.8L132.3,256.4L128.7,257.1Z" fill="#fdae50"/>
<path d="M130.6,258.5L134.3,257.8L134.3,261.4L130.6,262.1Z" fill="#faac4f"/>
<path d="M134.3,268.7L130.6,269.4M134.3,257.8L137.9,257" stroke="#000" stroke-width="2.4" stroke-linecap="round" fill="none"/>
<path d="M123.4,278.2L127,277.5L127,281.1L123.4,281.8Z" fill="#fab353"/>
<path d="M123.4,278.2L121.4,276.8L121.4,280.5L123.4,281.8Z" fill="#f3ae51"/>
<path d="M127,266.5L130.6,265.8L130.6,269.4L127,270.1Z" fill="#fabb58"/>
<path d="M136.2,262.8L139.9,262L137.9,260.7L134.3,261.4Z" fill="#fec861"/>
<path d="M136.2,262.8L139.9,262L139.9,265.7L136.2,266.4Z" fill="#fbc660"/>
<path d="M123.4,274.5L127,273.8L127,277.5L123.4,278.2Z" fill="#fab554"/>
<path d="M123.4,274.5L121.4,273.2L121.4,276.8L123.4,278.2Z" fill="#f3b052"/>
<path d="M117.8,270.2L115.8,268.9" stroke="#000" stroke-width="2.4" stroke-linecap="round" fill="none"/>
<path d="M123.4,270.9L127,270.1L127,273.8L123.4,274.5Z" fill="#fabb58"/>
<path d="M123.4,270.9L121.4,269.5L121.4,273.2L123.4,274.5Z" fill="#f3b555"/>
<path d="M127,259.2L130.6,258.5L128.7,257.1L125.1,257.8Z" fill="#fec862"/>
<path d="M127,259.2L130.6,258.5L130.6,262.1L127,262.8Z" fill="#fbc661"/>
<path d="M130.6,269.4L127,270.1M130.6,258.5L134.3,257.8" stroke="#000" stroke-width="2.4" stroke-linecap="round" fill="none"/>
<path d="M123.4,267.2L127,266.5L127,270.1L123.4,270.9Z" fill="#fabb58"/>
<path d="M123.4,267.2L121.4,265.9L121.4,269.5L123.4,270.9Z" fill="#f3b555"/>
<path d="M132.6,263.5L136.2,262.8L134.3,261.4L130.6,262.1Z" fill="#fdb453"/>
<path d="M132.6,263.5L136.2,262.8L136.2,266.4L132.6,267.1Z" fill="#fab252"/>
<path d="M123.4,263.6L121.4,262.2L121.4,265.9L123.4,267.2Z" fill="#f4c965"/>
<path d="M117.8,259.3L115.8,257.9" stroke="#000" stroke-width="2.4" stroke-linecap="round" fill="none"/>
<path d="M123.4,259.9L127,259.2L125.1,257.8L121.4,258.6Z" fill="#fdb353"/>
<path d="M123.4,259.9L121.4,258.6L121.4,262.2L123.4,263.6Z" fill="#f3ac50"/>
<path d="M127,270.1L123.4,270.9M127,259.2L130.6,258.5" stroke="#000" stroke-width="2.4" stroke-linecap="round" fill="none"/>
<path d="M128.9,264.2L132.6,263.5L130.6,262.1L127,262.8Z" fill="#fec45f"/>
<path d="M128.9,264.2L132.6,263.5L132.6,267.1L128.9,267.9Z" fill="#fbc25e"/>
<path d="M119.7,271.6L117.8,270.2M123.4,270.9L119.7,271.6M123.4,259.9L127,259.2" stroke="#000" stroke-width="2.4" stroke-linecap="round" fill="none"/>
<path d="M125.3,264.9L128.9,264.2L128.9,267.9L125.3,268.6Z" fill="#fbd16b"/>
<path d="M125.3,264.9L123.4,263.6L123.4,267.2L125.3,268.6Z" fill="#f4cb68"/>
<path d="M119.7,260.6L117.8,259.3M119.7,271.6L119.7,267.9" stroke="#000" stroke-width="2.4" stroke-linecap="round" fill="none"/>
<path d="M125.3,261.3L128.9,260.5L127,259.2L123.4,259.9Z" fill="#fed26b"/>
<path d="M125.3,261.3L128.9,260.5L128.9,264.2L125.3,264.9Z" fill="#fbd06a"/>
<path d="M125.3,261.3L123.4,259.9L123.4,263.6L125.3,264.9Z" fill="#f4ca67"/>
<path d="M119.7,267.9L119.7,264.3M119.7,260.6L123.4,259.9M119.7,264.3L119.7,260.6" stroke="#000" stroke-width="2.4" stroke-linecap="round" fill="none"/>
</g>
<text x="119.6" y="375.4" font-size="9.4" text-anchor="middle">0</text>
<text x="103.8" y="373.6" font-size="9.4" text-anchor="middle">0</text>
<text x="137" y="372" font-size="9.4" text-anchor="middle">5</text>
<text x="94.6" y="367.1" font-size="9.4" text-anchor="middle">5</text>
<text x="154.4" y="368.5" font-size="9.4" text-anchor="middle">10</text>
<text x="85.3" y="360.7" font-size="9.4" text-anchor="middle">10</text>
<text x="171.9" y="365.1" font-size="9.4" text-anchor="middle">15</text>
<text x="76.1" y="354.2" font-size="9.4" text-anchor="middle">15</text>
<text x="189.3" y="361.7" font-size="9.4" text-anchor="middle">20</text>
<text x="66.9" y="347.7" font-size="9.4" text-anchor="middle">20</text>
<text x="206.7" y="358.2" font-size="9.4" text-anchor="middle">25</text>
<text x="57.7" y="341.3" font-size="9.4" text-anchor="middle">25</text>
<text x="224.1" y="354.8" font-size="9.4" text-anchor="middle">30</text>
<text x="48.4" y="334.8" font-size="9.4" text-anchor="middle">30</text>
<text x="49.8" y="230.6" font-size="9.4" text-anchor="end">0</text>
<text x="49.8" y="259.8" font-size="9.4" text-anchor="end">5</text>
<text x="49.8" y="289" font-size="9.4" text-anchor="end">10</text>
<text x="49.8" y="318.3" font-size="9.4" text-anchor="end">15</text>
<text x="36.9" y="276.2" font-size="8.9" text-anchor="middle" transform="rotate(-90 36.9 276.2)">Depth/(km)</text>
<text x="60.6" y="375.6" font-size="9.2" text-anchor="middle">Y/(km)</text>
<text x="175.7" y="379.9" font-size="9.2" text-anchor="middle">X/(km)</text>
<rect x="236.8" y="208.5" width="9.2" height="154" fill="url(#cb)"/>
<text x="249.4" y="211.6" font-size="8.8" text-anchor="start">1</text>
<text x="249.4" y="242.4" font-size="8.8" text-anchor="start">0.8</text>
<text x="249.4" y="273.2" font-size="8.8" text-anchor="start">0.6</text>
<text x="249.4" y="304" font-size="8.8" text-anchor="start">0.4</text>
<text x="249.4" y="334.8" font-size="8.8" text-anchor="start">0.2</text>
<text x="249.4" y="365.6" font-size="8.8" text-anchor="start">0</text>
<path d="M246,208.5h-1.5M246,239.3h-1.5M246,270.1h-1.5M246,300.9h-1.5M246,331.7h-1.5M246,362.5h-1.5" stroke="#222" stroke-width=".5" fill="none"/>
<text x="240.8" y="204" font-size="8.9" text-anchor="middle">g/cm<tspan dy="-4.6" font-size="6.6">3</tspan></text>
<text x="12.3" y="205" font-size="17.8" text-anchor="start" style="font-weight:400">( c )</text>
<path d="M346.6,241.6L346.6,337M346.6,337L459.7,355.8M484.7,225.2L484.7,320.6M484.7,320.6L433.2,359M354.9,235.4L354.9,330.8M354.9,330.8L468,349.6M466.4,222.1L466.4,317.5M466.4,317.5L414.9,355.9M363.2,229.2L363.2,324.6M363.2,324.6L476.3,343.4M448.2,219.1L448.2,314.5M448.2,314.5L396.7,352.9M371.5,223L371.5,318.4M371.5,318.4L484.6,337.2M429.9,216.1L429.9,311.5M429.9,311.5L378.4,349.9M379.8,216.8L379.8,312.2M379.8,312.2L492.9,331M411.7,213L411.7,308.4M411.7,308.4L360.2,346.8M388.1,210.6L388.1,306M388.1,306L501.2,324.8M393.4,210L393.4,305.4M393.4,305.4L341.9,343.8M338.3,277.6L389.8,239.2M389.8,239.2L502.9,258M338.3,307.4L389.8,269M389.8,269L502.9,287.8M338.3,337.2L389.8,298.8M389.8,298.8L502.9,317.6" stroke="#e4e4e4" stroke-width=".55" fill="none"/>
<path d="M389.8,209.4L389.8,304.8M502.9,228.2L502.9,323.6" stroke="#8a8a8a" stroke-width=".65" fill="none"/>
<path d="M338.3,247.8L338.3,343.2M338.3,247.8L389.8,209.4M389.8,209.4L502.9,228.2M338.3,343.2L389.8,304.8M389.8,304.8L502.9,323.6M338.3,343.2L451.4,362M451.4,362L502.9,323.6M451.4,362l3.3,1.1M451.4,362l-1.5,1.7M459.7,355.8l3.3,1.1M433.2,359l-1.5,1.7M468,349.6l3.3,1.1M414.9,355.9l-1.5,1.7M476.3,343.4l3.3,1.1M396.7,352.9l-1.5,1.7M484.6,337.2l3.3,1.1M378.4,349.9l-1.5,1.7M492.9,331l3.3,1.1M360.2,346.8l-1.5,1.7M501.2,324.8l3.3,1.1M341.9,343.8l-1.5,1.7M338.3,247.8h-2.6M338.3,277.6h-2.6M338.3,307.4h-2.6M338.3,337.2h-2.6" stroke="#3a3a3a" stroke-width=".65" fill="none"/>
<g stroke="#2e2010" stroke-width=".37" stroke-linejoin="round">
<path d="M393.6,300.8L393.6,304.6M393.6,304.6L397.1,305.2M393.6,297.1L393.6,300.8M393.6,293.4L393.6,297.1M391.9,305.8L393.6,304.6M397.1,305.2L400.7,305.7M397.1,294L393.6,293.4M391.9,294.6L393.6,293.4M400.7,305.7L404.3,306.3M400.7,294.6L397.1,294M390.3,307L391.9,305.8M404.3,306.3L407.8,306.9M404.3,295.2L400.7,294.6M390.3,295.9L391.9,294.6M407.8,306.9L411.4,307.5M407.8,295.7L404.3,295.2M388.6,308.3L390.3,307M411.4,307.5L414.9,308.1M411.4,296.3L407.8,295.7M414.9,308.1L418.5,308.7M388.6,297.1L390.3,295.9M414.9,296.9L411.4,296.3M414.9,293.2L414.9,296.9M418.5,308.7L422,309.3M414.9,289.5L414.9,293.2M386.9,309.5L388.6,308.3M414.9,285.8L414.9,289.5M413.3,298.2L414.9,296.9M414.9,282L414.9,285.8M422,309.3L425.6,309.9M414.9,278.3L414.9,282M386.9,298.3L388.6,297.1M386.9,305.8L386.9,309.5M414.9,274.6L414.9,278.3M386.9,309.5L390.5,310.1M386.9,302.1L386.9,305.8M414.9,270.8L414.9,274.6M425.6,309.9L429.2,310.5M386.9,298.3L386.9,302.1M414.9,267.1L414.9,270.8" stroke="#000" stroke-width="2.4" stroke-linecap="round" fill="none"/>
<path d="M414.9,263.4L414.9,267.1" stroke="#000" stroke-width="2.4" stroke-linecap="round" fill="none"/>
<path d="M429.2,310.5L429.2,306.8M390.5,310.1L394,310.7M390.5,298.9L386.9,298.3M411.6,299.4L413.3,298.2M414.9,259.7L414.9,263.4" stroke="#000" stroke-width="2.4" stroke-linecap="round" fill="none"/>
<path d="M429.2,306.8L429.2,303M414.9,255.9L414.9,259.7" stroke="#000" stroke-width="2.4" stroke-linecap="round" fill="none"/>
<path d="M429.2,303L429.2,299.3M414.9,252.2L414.9,255.9M427.5,311.7L429.2,310.5" stroke="#000" stroke-width="2.4" stroke-linecap="round" fill="none"/>
<path d="M429.2,299.3L429.2,295.6M394,310.7L397.6,311.3M394,299.5L390.5,298.9M414.9,248.5L414.9,252.2" stroke="#000" stroke-width="2.4" stroke-linecap="round" fill="none"/>
<path d="M429.2,295.6L429.2,291.8M414.9,244.8L414.9,248.5" stroke="#000" stroke-width="2.4" stroke-linecap="round" fill="none"/>
<path d="M429.2,291.8L429.2,288.1" stroke="#000" stroke-width="2.4" stroke-linecap="round" fill="none"/>
<path d="M429.2,288.1L429.2,284.4M397.6,311.3L401.2,311.9M397.6,300.1L394,299.5" stroke="#000" stroke-width="2.4" stroke-linecap="round" fill="none"/>
<path d="M431,301.1L432.7,299.9L432.7,303.6L431,304.9Z" fill="#f3eda0"/>
<path d="M418.5,245.4L414.9,244.8" stroke="#000" stroke-width="2.4" stroke-linecap="round" fill="none"/>
<path d="M409.9,300.6L411.6,299.4" stroke="#000" stroke-width="2.4" stroke-linecap="round" fill="none"/>
<path d="M429.2,284.4L429.2,280.7" stroke="#000" stroke-width="2.4" stroke-linecap="round" fill="none"/>
<path d="M429.2,280.7L429.2,276.9" stroke="#000" stroke-width="2.4" stroke-linecap="round" fill="none"/>
<path d="M413.3,246L414.9,244.8" stroke="#000" stroke-width="2.4" stroke-linecap="round" fill="none"/>
<path d="M401.2,311.9L404.7,312.5M425.8,313L427.5,311.7" stroke="#000" stroke-width="2.4" stroke-linecap="round" fill="none"/>
<path d="M416.8,246.6L418.5,245.4L414.9,244.8L413.3,246Z" fill="#fee788"/>
<path d="M429.2,276.9L429.2,273.2" stroke="#000" stroke-width="2.4" stroke-linecap="round" fill="none"/>
<path d="M401.2,300.7L397.6,300.1" stroke="#000" stroke-width="2.4" stroke-linecap="round" fill="none"/>
<path d="M422,245.9L418.5,245.4" stroke="#000" stroke-width="2.4" stroke-linecap="round" fill="none"/>
<path d="M429.2,273.2L429.2,269.5" stroke="#000" stroke-width="2.4" stroke-linecap="round" fill="none"/>
<path d="M434.6,298L436.3,296.8L436.3,300.5L434.6,301.7Z" fill="#f3eea4"/>
<path d="M429.2,269.5L429.2,265.8" stroke="#000" stroke-width="2.4" stroke-linecap="round" fill="none"/>
<path d="M404.7,312.5L408.3,313.1" stroke="#000" stroke-width="2.4" stroke-linecap="round" fill="none"/>
<path d="M420.4,247.2L422,245.9L418.5,245.4L416.8,246.6Z" fill="#fee98b"/>
<path d="M404.7,301.3L401.2,300.7M429.2,265.8L429.2,262" stroke="#000" stroke-width="2.4" stroke-linecap="round" fill="none"/>
<path d="M425.6,246.5L422,245.9" stroke="#000" stroke-width="2.4" stroke-linecap="round" fill="none"/>
<path d="M429.4,302.4L431,301.1L431,304.9L429.4,306.1Z" fill="#f4ec9f"/>
<path d="M429.2,262L429.2,258.3" stroke="#000" stroke-width="2.4" stroke-linecap="round" fill="none"/>
<path d="M408.3,301.9L409.9,300.6" stroke="#000" stroke-width="2.4" stroke-linecap="round" fill="none"/>
<path d="M438.2,294.9L439.8,293.6L439.8,297.3L438.2,298.6Z" fill="#f4e998"/>
<path d="M411.6,247.2L413.3,246" stroke="#000" stroke-width="2.4" stroke-linecap="round" fill="none"/>
<path d="M408.3,313.1L411.8,313.7" stroke="#000" stroke-width="2.4" stroke-linecap="round" fill="none"/>
<path d="M423.9,247.8L425.6,246.5L422,245.9L420.4,247.2Z" fill="#fecf67"/>
<path d="M408.3,301.9L404.7,301.3" stroke="#000" stroke-width="2.4" stroke-linecap="round" fill="none"/>
<path d="M429.2,258.3L432.7,258.9" stroke="#000" stroke-width="2.4" stroke-linecap="round" fill="none"/>
<path d="M429.2,247.1L425.6,246.5" stroke="#000" stroke-width="2.4" stroke-linecap="round" fill="none"/>
<path d="M438.2,291.1L439.8,289.9L439.8,293.6L438.2,294.9Z" fill="#f3eea4"/>
<path d="M424.2,314.2L425.8,313" stroke="#000" stroke-width="2.4" stroke-linecap="round" fill="none"/>
<path d="M415.2,247.8L416.8,246.6L413.3,246L411.6,247.2Z" fill="#feed92"/>
<path d="M438.2,287.4L439.8,286.2L439.8,289.9L438.2,291.1Z" fill="#f4e38a"/>
<path d="M432.9,299.2L434.6,298L434.6,301.7L432.9,303Z" fill="#f4e48c"/>
<path d="M427.5,259.5L429.2,258.3M408.3,298.2L408.3,301.9" stroke="#000" stroke-width="2.4" stroke-linecap="round" fill="none"/>
<path d="M411.8,313.7L415.4,314.2" stroke="#000" stroke-width="2.4" stroke-linecap="round" fill="none"/>
<path d="M427.5,248.4L429.2,247.1L425.6,246.5L423.9,247.8Z" fill="#fec45f"/>
<path d="M408.3,294.4L408.3,298.2" stroke="#000" stroke-width="2.4" stroke-linecap="round" fill="none"/>
<path d="M432.7,258.9L436.3,259.5" stroke="#000" stroke-width="2.4" stroke-linecap="round" fill="none"/>
<path d="M432.7,247.7L429.2,247.1" stroke="#000" stroke-width="2.4" stroke-linecap="round" fill="none"/>
<path d="M408.3,290.7L408.3,294.4" stroke="#000" stroke-width="2.4" stroke-linecap="round" fill="none"/>
<path d="M427.7,303.6L429.4,302.4L429.4,306.1L427.7,307.3Z" fill="#f3eda1"/>
<path d="M408.3,287L408.3,290.7" stroke="#000" stroke-width="2.4" stroke-linecap="round" fill="none"/>
<path d="M415.4,291.9L411.8,291.3L411.8,295L415.4,295.6Z" fill="#fbeb91"/>
<path d="M411.8,280.1L408.3,279.5L408.3,283.3L411.8,283.8Z" fill="#faf6a9"/>
<path d="M441.7,284.3L443.4,283L443.4,286.8L441.7,288Z" fill="#f3eda2"/>
<path d="M418.7,241L420.4,239.7L416.8,239.1L415.2,240.4Z" fill="#fee787"/>
<path d="M415.4,314.2L418.9,314.8" stroke="#000" stroke-width="2.4" stroke-linecap="round" fill="none"/>
<path d="M431,249L432.7,247.7L429.2,247.1L427.5,248.4Z" fill="#fed46e"/>
<path d="M436.5,296.1L438.2,294.9L438.2,298.6L436.5,299.8Z" fill="#f4e692"/>
<path d="M436.3,259.5L439.8,260.1M408.3,283.3L408.3,287" stroke="#000" stroke-width="2.4" stroke-linecap="round" fill="none"/>
<path d="M409.9,248.5L411.6,247.2M436.3,248.3L432.7,247.7" stroke="#000" stroke-width="2.4" stroke-linecap="round" fill="none"/>
<path d="M441.7,280.5L443.4,279.3L443.4,283L441.7,284.3Z" fill="#f4e999"/>
<path d="M436.5,292.4L438.2,291.1L438.2,294.9L436.5,296.1Z" fill="#f3efa6"/>
<path d="M422.5,315.4L424.2,314.2" stroke="#000" stroke-width="2.4" stroke-linecap="round" fill="none"/>
<path d="M413.5,249.1L415.2,247.8L411.6,247.2L409.9,248.5Z" fill="#fef29d"/>
<path d="M408.3,279.5L408.3,283.3" stroke="#000" stroke-width="2.4" stroke-linecap="round" fill="none"/>
<path d="M441.7,276.8L443.4,275.6L443.4,279.3L441.7,280.5Z" fill="#f4e48d"/>
<path d="M422.5,304.3L418.9,303.7L418.9,307.4L422.5,308Z" fill="#fbf3a1"/>
<path d="M436.5,288.6L438.2,287.4L438.2,291.1L436.5,292.4Z" fill="#f4e897"/>
<path d="M408.3,275.8L408.3,279.5" stroke="#000" stroke-width="2.4" stroke-linecap="round" fill="none"/>
<path d="M411.8,268.9L408.3,268.3L408.3,272.1L411.8,272.7Z" fill="#fbec93"/>
<path d="M431.3,300.5L432.9,299.2L432.9,303L431.3,304.2Z" fill="#f4ea9b"/>
<path d="M425.8,260.8L427.5,259.5" stroke="#000" stroke-width="2.4" stroke-linecap="round" fill="none"/>
<path d="M422.3,241.6L423.9,240.3L420.4,239.7L418.7,241Z" fill="#fedb75"/>
<path d="M441.7,273.1L443.4,271.9L443.4,275.6L441.7,276.8Z" fill="#f4e590"/>
<path d="M418.9,314.8L422.5,315.4" stroke="#000" stroke-width="2.4" stroke-linecap="round" fill="none"/>
<path d="M434.6,249.5L436.3,248.3L432.7,247.7L431,249Z" fill="#fee788"/>
<path d="M439.8,260.1L443.4,260.7" stroke="#000" stroke-width="2.4" stroke-linecap="round" fill="none"/>
<path d="M439.8,248.9L436.3,248.3M408.3,272.1L408.3,275.8" stroke="#000" stroke-width="2.4" stroke-linecap="round" fill="none"/>
<path d="M441.7,269.4L443.4,268.1L443.4,271.9L441.7,273.1Z" fill="#f4e38a"/>
<path d="M410.2,288.8L406.6,288.2L406.6,291.9L410.2,292.5Z" fill="#faf6a9"/>
<path d="M408.3,268.3L408.3,272.1" stroke="#000" stroke-width="2.4" stroke-linecap="round" fill="none"/>
<path d="M441.7,265.6L443.4,264.4L443.4,268.1L441.7,269.4Z" fill="#f4e691"/>
<path d="M410.2,285.1L411.8,283.8L408.3,283.3L406.6,284.5Z" fill="#fef098"/>
<path d="M410.2,285.1L406.6,284.5L406.6,288.2L410.2,288.8Z" fill="#fbee96"/>
<path d="M422.5,315.4L422.5,311.7" stroke="#000" stroke-width="2.4" stroke-linecap="round" fill="none"/>
<path d="M426.1,304.8L427.7,303.6L427.7,307.3L426.1,308.6Z" fill="#f4e38a"/>
<path d="M426.1,304.8L422.5,304.3L422.5,308L426.1,308.6Z" fill="#fbea8f"/>
<path d="M408.3,264.6L408.3,268.3" stroke="#000" stroke-width="2.4" stroke-linecap="round" fill="none"/>
<path d="M411.8,257.8L408.3,257.2L408.3,260.9L411.8,261.5Z" fill="#fbe484"/>
<path d="M425.8,242.1L427.5,240.9L423.9,240.3L422.3,241.6Z" fill="#fee482"/>
<path d="M441.7,261.9L443.4,260.7L443.4,264.4L441.7,265.6Z" fill="#f4dd80"/>
<path d="M438.2,250.1L439.8,248.9L436.3,248.3L434.6,249.5Z" fill="#fee685"/>
<path d="M422.5,311.7L422.5,308" stroke="#000" stroke-width="2.4" stroke-linecap="round" fill="none"/>
<path d="M440.1,285.5L441.7,284.3L441.7,288L440.1,289.2Z" fill="#f4e998"/>
<path d="M443.4,260.7L446.9,261.3" stroke="#000" stroke-width="2.4" stroke-linecap="round" fill="none"/>
<path d="M417.1,242.2L418.7,241L415.2,240.4L413.5,241.6Z" fill="#fee380"/>
<path d="M443.4,249.5L439.8,248.9" stroke="#000" stroke-width="2.4" stroke-linecap="round" fill="none"/>
<path d="M408.3,260.9L408.3,264.6" stroke="#000" stroke-width="2.4" stroke-linecap="round" fill="none"/>
<path d="M434.8,297.3L436.5,296.1L436.5,299.8L434.8,301.1Z" fill="#f4e38b"/>
<path d="M411.8,254L408.3,253.4L408.3,257.2L411.8,257.8Z" fill="#fbf2a0"/>
<path d="M413.7,289.4L410.2,288.8L410.2,292.5L413.7,293.1Z" fill="#faf7ab"/>
<path d="M441.7,258.2L443.4,256.9L443.4,260.7L441.7,261.9Z" fill="#f4eb9d"/>
<path d="M408.3,249.7L409.9,248.5" stroke="#000" stroke-width="2.4" stroke-linecap="round" fill="none"/>
<path d="M410.2,277.6L406.6,277L406.6,280.8L410.2,281.4Z" fill="#fbf19d"/>
<path d="M422.5,308L422.5,304.3" stroke="#000" stroke-width="2.4" stroke-linecap="round" fill="none"/>
<path d="M440.1,281.8L441.7,280.5L441.7,284.3L440.1,285.5Z" fill="#f4ea9b"/>
<path d="M408.3,257.2L408.3,260.9" stroke="#000" stroke-width="2.4" stroke-linecap="round" fill="none"/>
<path d="M429.4,246.5L431,245.2L431,249L429.4,250.2Z" fill="#f4c25f"/>
<path d="M434.8,293.6L436.5,292.4L436.5,296.1L434.8,297.3Z" fill="#f4e48d"/>
<path d="M411.8,250.3L413.5,249.1L409.9,248.5L408.3,249.7Z" fill="#fef19a"/>
<path d="M411.8,250.3L408.3,249.7L408.3,253.4L411.8,254Z" fill="#fbef98"/>
<path d="M413.7,285.7L410.2,285.1L410.2,288.8L413.7,289.4Z" fill="#fbf4a3"/>
<path d="M441.7,254.5L443.4,253.2L443.4,256.9L441.7,258.2Z" fill="#f4e795"/>
<path d="M410.2,273.9L411.8,272.7L408.3,272.1L406.6,273.3Z" fill="#fef5a3"/>
<path d="M410.2,273.9L406.6,273.3L406.6,277L410.2,277.6Z" fill="#fbf3a1"/>
<path d="M422.5,304.3L422.5,300.5" stroke="#000" stroke-width="2.4" stroke-linecap="round" fill="none"/>
<path d="M440.1,278.1L441.7,276.8L441.7,280.5L440.1,281.8Z" fill="#f4e086"/>
<path d="M408.3,253.4L408.3,257.2" stroke="#000" stroke-width="2.4" stroke-linecap="round" fill="none"/>
<path d="M415.4,258.4L411.8,257.8L411.8,261.5L415.4,262.1Z" fill="#fbdf7b"/>
<path d="M429.4,242.7L431,241.5L427.5,240.9L425.8,242.1Z" fill="#fed973"/>
<path d="M429.4,242.7L431,241.5L431,245.2L429.4,246.5Z" fill="#f4d06e"/>
<path d="M434.8,289.9L436.5,288.6L436.5,292.4L434.8,293.6Z" fill="#f4ec9e"/>
<path d="M413.7,281.9L410.2,281.4L410.2,285.1L413.7,285.7Z" fill="#fbf09a"/>
<path d="M441.7,250.7L443.4,249.5L439.8,248.9L438.2,250.1Z" fill="#fef3a0"/>
<path d="M441.7,250.7L443.4,249.5L443.4,253.2L441.7,254.5Z" fill="#f4e99a"/>
<path d="M422.5,300.5L422.5,296.8" stroke="#000" stroke-width="2.4" stroke-linecap="round" fill="none"/>
<path d="M429.6,301.7L431.3,300.5L431.3,304.2L429.6,305.4Z" fill="#f4e896"/>
<path d="M424.2,262L425.8,260.8M446.9,261.3L450.5,261.9" stroke="#000" stroke-width="2.4" stroke-linecap="round" fill="none"/>
<path d="M420.6,242.8L422.3,241.6L418.7,241L417.1,242.2Z" fill="#fed169"/>
<path d="M440.1,274.3L441.7,273.1L441.7,276.8L440.1,278.1Z" fill="#f4e48c"/>
<path d="M446.9,250.1L443.4,249.5" stroke="#000" stroke-width="2.4" stroke-linecap="round" fill="none"/>
<path d="M432.9,250.8L434.6,249.5L431,249L429.4,250.2Z" fill="#fee685"/>
<path d="M408.3,249.7L408.3,253.4" stroke="#000" stroke-width="2.4" stroke-linecap="round" fill="none"/>
<path d="M415.4,254.6L411.8,254L411.8,257.8L415.4,258.4Z" fill="#fbe382"/>
<path d="M413.7,278.2L410.2,277.6L410.2,281.4L413.7,281.9Z" fill="#fbe88b"/>
<path d="M410.2,266.5L406.6,265.9L406.6,269.6L410.2,270.2Z" fill="#fbf4a5"/>
<path d="M422.5,296.8L422.5,293.1" stroke="#000" stroke-width="2.4" stroke-linecap="round" fill="none"/>
<path d="M440.1,270.6L441.7,269.4L441.7,273.1L440.1,274.3Z" fill="#f4eb9c"/>
<path d="M415.4,250.9L411.8,250.3L411.8,254L415.4,254.6Z" fill="#fbd974"/>
<path d="M413.7,274.5L410.2,273.9L410.2,277.6L413.7,278.2Z" fill="#fbef98"/>
<path d="M410.2,262.7L411.8,261.5L408.3,260.9L406.6,262.1Z" fill="#fee889"/>
<path d="M410.2,262.7L406.6,262.1L406.6,265.9L410.2,266.5Z" fill="#fbe688"/>
<path d="M422.5,293.1L422.5,289.3" stroke="#000" stroke-width="2.4" stroke-linecap="round" fill="none"/>
<path d="M450.5,261.9L450.5,258.1" stroke="#000" stroke-width="2.4" stroke-linecap="round" fill="none"/>
<path d="M440.1,266.9L441.7,265.6L441.7,269.4L440.1,270.6Z" fill="#f4e187"/>
<path d="M418.9,258.9L415.4,258.4L415.4,262.1L418.9,262.7Z" fill="#fabe5a"/>
<path d="M411.8,250.3L408.3,249.7" stroke="#000" stroke-width="2.4" stroke-linecap="round" fill="none"/>
<path d="M415.4,247.2L411.8,246.6L411.8,250.3L415.4,250.9Z" fill="#fbe281"/>
<path d="M413.7,270.8L410.2,270.2L410.2,273.9L413.7,274.5Z" fill="#fbee97"/>
<path d="M424.2,243.4L425.8,242.1L422.3,241.6L420.6,242.8Z" fill="#fede79"/>
<path d="M422.5,289.3L422.5,285.6" stroke="#000" stroke-width="2.4" stroke-linecap="round" fill="none"/>
<path d="M450.5,258.1L450.5,254.4M450.5,250.7L446.9,250.1" stroke="#000" stroke-width="2.4" stroke-linecap="round" fill="none"/>
<path d="M440.1,263.1L441.7,261.9L441.7,265.6L440.1,266.9Z" fill="#f4e999"/>
<path d="M436.5,251.4L438.2,250.1L434.6,249.5L432.9,250.8Z" fill="#feef97"/>
<path d="M418.9,255.2L415.4,254.6L415.4,258.4L418.9,258.9Z" fill="#fbd974"/>
<path d="M424.4,302.4L420.8,301.8L420.8,305.5L424.4,306.1Z" fill="#fbed94"/>
<path d="M438.4,286.7L440.1,285.5L440.1,289.2L438.4,290.5Z" fill="#f4e187"/>
<path d="M415.4,243.4L417.1,242.2L413.5,241.6L411.8,242.9Z" fill="#fee17d"/>
<path d="M415.4,243.4L411.8,242.9L411.8,246.6L415.4,247.2Z" fill="#fbdf7c"/>
<path d="M413.7,267L410.2,266.5L410.2,270.2L413.7,270.8Z" fill="#fbe07d"/>
<path d="M433.2,298.6L434.8,297.3L434.8,301.1L433.2,302.3Z" fill="#f4e590"/>
<path d="M422.5,285.6L422.5,281.9" stroke="#000" stroke-width="2.4" stroke-linecap="round" fill="none"/>
<path d="M415.6,302.4L412.1,301.8L412.1,305.5L415.6,306.1Z" fill="#faf6a9"/>
<path d="M450.5,254.4L450.5,250.7" stroke="#000" stroke-width="2.4" stroke-linecap="round" fill="none"/>
<path d="M440.1,259.4L441.7,258.2L441.7,261.9L440.1,263.1Z" fill="#f4e897"/>
<path d="M418.9,251.5L415.4,250.9L415.4,254.6L418.9,255.2Z" fill="#fbcf68"/>
<path d="M424.4,298.6L420.8,298L420.8,301.8L424.4,302.4Z" fill="#fbf4a3"/>
<path d="M438.4,283L440.1,281.8L440.1,285.5L438.4,286.7Z" fill="#f4e590"/>
<path d="M448.8,263.1L450.5,261.9" stroke="#000" stroke-width="2.4" stroke-linecap="round" fill="none"/>
<path d="M413.7,263.3L415.4,262.1L411.8,261.5L410.2,262.7Z" fill="#fee380"/>
<path d="M413.7,263.3L410.2,262.7L410.2,266.5L413.7,267Z" fill="#fbe17f"/>
<path d="M427.7,247.7L429.4,246.5L429.4,250.2L427.7,251.4Z" fill="#f4ce6c"/>
<path d="M433.2,294.8L434.8,293.6L434.8,297.3L433.2,298.6Z" fill="#f3efa7"/>
<path d="M433.2,294.8L429.6,294.3L429.6,298L433.2,298.6Z" fill="#faf7ac"/>
<path d="M422.5,281.9L422.5,278.2" stroke="#000" stroke-width="2.4" stroke-linecap="round" fill="none"/>
<path d="M415.6,298.7L412.1,298.1L412.1,301.8L415.6,302.4Z" fill="#fbf29f"/>
<path d="M440.1,255.7L441.7,254.5L441.7,258.2L440.1,259.4Z" fill="#f4eb9d"/>
<path d="M422.5,259.5L418.9,258.9L418.9,262.7L422.5,263.3Z" fill="#faac4f"/>
<path d="M415.4,250.9L411.8,250.3" stroke="#000" stroke-width="2.4" stroke-linecap="round" fill="none"/>
<path d="M418.9,247.8L415.4,247.2L415.4,250.9L418.9,251.5Z" fill="#fbca63"/>
<path d="M424.4,294.9L420.8,294.3L420.8,298L424.4,298.6Z" fill="#fbed94"/>
<path d="M438.4,279.3L440.1,278.1L440.1,281.8L438.4,283Z" fill="#f4e085"/>
<path d="M427.7,244L429.4,242.7L425.8,242.1L424.2,243.4Z" fill="#fed872"/>
<path d="M427.7,244L429.4,242.7L429.4,246.5L427.7,247.7Z" fill="#f4cf6d"/>
<path d="M433.2,291.1L434.8,289.9L434.8,293.6L433.2,294.8Z" fill="#f4e692"/>
<path d="M422.5,278.2L422.5,274.4" stroke="#000" stroke-width="2.4" stroke-linecap="round" fill="none"/>
<path d="M415.6,295L412.1,294.4L412.1,298.1L415.6,298.7Z" fill="#faf8af"/>
<path d="M440.1,252L441.7,250.7L438.2,250.1L436.5,251.4Z" fill="#fef39e"/>
<path d="M440.1,252L441.7,250.7L441.7,254.5L440.1,255.7Z" fill="#f4e998"/>
<path d="M422.5,255.8L418.9,255.2L418.9,258.9L422.5,259.5Z" fill="#fbc761"/>
<path d="M428,302.9L429.6,301.7L429.6,305.4L428,306.7Z" fill="#f4ea9c"/>
<path d="M428,302.9L424.4,302.4L424.4,306.1L428,306.7Z" fill="#fbf2a0"/>
<path d="M422.5,263.3L424.2,262" stroke="#000" stroke-width="2.4" stroke-linecap="round" fill="none"/>
<path d="M418.9,244L420.6,242.8L417.1,242.2L415.4,243.4Z" fill="#fedd78"/>
<path d="M418.9,244L415.4,243.4L415.4,247.2L418.9,247.8Z" fill="#fbdb77"/>
<path d="M424.4,291.2L420.8,290.6L420.8,294.3L424.4,294.9Z" fill="#faf7aa"/>
<path d="M438.4,275.6L440.1,274.3L440.1,278.1L438.4,279.3Z" fill="#f4e48d"/>
<path d="M431.3,252L432.9,250.8L429.4,250.2L427.7,251.4Z" fill="#feeb8e"/>
<path d="M419.2,303L420.8,301.8L420.8,305.5L419.2,306.7Z" fill="#f4ea9b"/>
<path d="M419.2,303L415.6,302.4L415.6,306.1L419.2,306.7Z" fill="#fbf29f"/>
<path d="M422.5,274.4L422.5,270.7" stroke="#000" stroke-width="2.4" stroke-linecap="round" fill="none"/>
<path d="M415.6,291.2L412.1,290.6L412.1,294.4L415.6,295Z" fill="#faf6a8"/>
<path d="M422.5,252.1L418.9,251.5L418.9,255.2L422.5,255.8Z" fill="#fbd26d"/>
<path d="M428,299.2L424.4,298.6L424.4,302.4L428,302.9Z" fill="#fbf09b"/>
<path d="M424.4,287.4L420.8,286.9L420.8,290.6L424.4,291.2Z" fill="#fbec93"/>
<path d="M438.4,271.8L440.1,270.6L440.1,274.3L438.4,275.6Z" fill="#f4de83"/>
<path d="M448.8,251.9L450.5,250.7" stroke="#000" stroke-width="2.4" stroke-linecap="round" fill="none"/>
<path d="M417.3,263.9L418.9,262.7L415.4,262.1L413.7,263.3Z" fill="#fecd65"/>
<path d="M417.3,263.9L413.7,263.3L413.7,267L417.3,267.6Z" fill="#fbcb64"/>
<path d="M419.2,299.3L420.8,298L420.8,301.8L419.2,303Z" fill="#f4ec9e"/>
<path d="M419.2,299.3L415.6,298.7L415.6,302.4L419.2,303Z" fill="#fbf4a3"/>
<path d="M422.5,270.7L422.5,267" stroke="#000" stroke-width="2.4" stroke-linecap="round" fill="none"/>
<path d="M415.6,287.5L412.1,286.9L412.1,290.6L415.6,291.2Z" fill="#fbf29f"/>
<path d="M426.1,260.1L422.5,259.5L422.5,263.3L426.1,263.9Z" fill="#fabf5c"/>
<path d="M418.9,251.5L415.4,250.9" stroke="#000" stroke-width="2.4" stroke-linecap="round" fill="none"/>
<path d="M422.5,248.4L418.9,247.8L418.9,251.5L422.5,252.1Z" fill="#fbd56f"/>
<path d="M428,295.5L429.6,294.3L429.6,298L428,299.2Z" fill="#f4e590"/>
<path d="M428,295.5L424.4,294.9L424.4,298.6L428,299.2Z" fill="#fbed94"/>
<path d="M424.4,283.7L420.8,283.1L420.8,286.9L424.4,287.4Z" fill="#fbe688"/>
<path d="M438.4,268.1L440.1,266.9L440.1,270.6L438.4,271.8Z" fill="#f4e897"/>
<path d="M419.2,295.6L420.8,294.3L420.8,298L419.2,299.3Z" fill="#f3f1ab"/>
<path d="M419.2,295.6L415.6,295L415.6,298.7L419.2,299.3Z" fill="#faf8b0"/>
<path d="M422.5,267L422.5,263.3" stroke="#000" stroke-width="2.4" stroke-linecap="round" fill="none"/>
<path d="M415.6,283.8L412.1,283.2L412.1,286.9L415.6,287.5Z" fill="#faf8ad"/>
<path d="M426.1,256.4L422.5,255.8L422.5,259.5L426.1,260.1Z" fill="#fbd36d"/>
<path d="M422.5,244.6L424.2,243.4L420.6,242.8L418.9,244Z" fill="#fedc77"/>
<path d="M422.5,244.6L418.9,244L418.9,247.8L422.5,248.4Z" fill="#fbda76"/>
<path d="M428,291.8L424.4,291.2L424.4,294.9L428,295.5Z" fill="#fbee96"/>
<path d="M424.4,280L420.8,279.4L420.8,283.1L424.4,283.7Z" fill="#fbdd7a"/>
<path d="M438.4,264.4L440.1,263.1L440.1,266.9L438.4,268.1Z" fill="#f4e896"/>
<path d="M434.8,252.6L436.5,251.4L432.9,250.8L431.3,252Z" fill="#fef29d"/>
<path d="M436.7,288L438.4,286.7L438.4,290.5L436.7,291.7Z" fill="#f4eb9d"/>
<path d="M419.2,291.8L420.8,290.6L420.8,294.3L419.2,295.6Z" fill="#f3f1ab"/>
<path d="M419.2,291.8L415.6,291.2L415.6,295L419.2,295.6Z" fill="#faf8b0"/>
<path d="M415.6,280.1L412.1,279.5L412.1,283.2L415.6,283.8Z" fill="#fbf4a3"/>
<path d="M426.1,252.7L422.5,252.1L422.5,255.8L426.1,256.4Z" fill="#fbca64"/>
<path d="M431.5,299.8L433.2,298.6L429.6,298L428,299.2Z" fill="#fef29d"/>
<path d="M431.5,299.8L433.2,298.6L433.2,302.3L431.5,303.5Z" fill="#f4e897"/>
<path d="M431.5,299.8L428,299.2L428,302.9L431.5,303.5Z" fill="#fbf09b"/>
<path d="M428,288L424.4,287.4L424.4,291.2L428,291.8Z" fill="#fbee96"/>
<path d="M424.4,276.3L420.8,275.7L420.8,279.4L424.4,280Z" fill="#fbde7b"/>
<path d="M438.4,260.7L440.1,259.4L440.1,263.1L438.4,264.4Z" fill="#f4e187"/>
<path d="M420.8,264.5L422.5,263.3L418.9,262.7L417.3,263.9Z" fill="#fda94e"/>
<path d="M420.8,264.5L417.3,263.9L417.3,267.6L420.8,268.2Z" fill="#faa74d"/>
<path d="M436.7,284.3L438.4,283L438.4,286.7L436.7,288Z" fill="#f4eca0"/>
<path d="M436.7,284.3L433.2,283.7L433.2,287.4L436.7,288Z" fill="#fbf4a5"/>
<path d="M419.2,288.1L420.8,286.9L420.8,290.6L419.2,291.8Z" fill="#f4eb9d"/>
<path d="M419.2,288.1L415.6,287.5L415.6,291.2L419.2,291.8Z" fill="#fbf3a2"/>
<path d="M422.5,263.3L426.1,263.9M447.2,264.3L448.8,263.1" stroke="#000" stroke-width="2.4" stroke-linecap="round" fill="none"/>
<path d="M415.6,276.3L412.1,275.7L412.1,279.5L415.6,280.1Z" fill="#faf8af"/>
<path d="M429.6,260.7L426.1,260.1L426.1,263.9L429.6,264.4Z" fill="#fbd570"/>
<path d="M422.5,252.1L418.9,251.5" stroke="#000" stroke-width="2.4" stroke-linecap="round" fill="none"/>
<path d="M426.1,248.9L427.7,247.7L427.7,251.4L426.1,252.7Z" fill="#f4d371"/>
<path d="M426.1,248.9L422.5,248.4L422.5,252.1L426.1,252.7Z" fill="#fbda75"/>
<path d="M428,284.3L424.4,283.7L424.4,287.4L428,288Z" fill="#fbef98"/>
<path d="M424.4,272.5L420.8,272L420.8,275.7L424.4,276.3Z" fill="#fbce68"/>
<path d="M438.4,256.9L440.1,255.7L440.1,259.4L438.4,260.7Z" fill="#f4e38b"/>
<path d="M436.7,280.5L438.4,279.3L438.4,283L436.7,284.3Z" fill="#f4eca0"/>
<path d="M419.2,284.4L420.8,283.1L420.8,286.9L419.2,288.1Z" fill="#f3efa7"/>
<path d="M419.2,284.4L415.6,283.8L415.6,287.5L419.2,288.1Z" fill="#faf7ac"/>
<path d="M415.6,272.6L412.1,272L412.1,275.7L415.6,276.3Z" fill="#fbf09a"/>
<path d="M429.6,257L426.1,256.4L426.1,260.1L429.6,260.7Z" fill="#fbd26d"/>
<path d="M426.1,245.2L427.7,244L424.2,243.4L422.5,244.6Z" fill="#fee88a"/>
<path d="M426.1,245.2L427.7,244L427.7,247.7L426.1,248.9Z" fill="#f4df84"/>
<path d="M426.1,245.2L422.5,244.6L422.5,248.4L426.1,248.9Z" fill="#fbe689"/>
<path d="M431.5,292.4L433.2,291.1L433.2,294.8L431.5,296.1Z" fill="#f4e896"/>
<path d="M431.5,292.4L428,291.8L428,295.5L431.5,296.1Z" fill="#fbf09a"/>
<path d="M428,280.6L424.4,280L424.4,283.7L428,284.3Z" fill="#fbeb92"/>
<path d="M424.4,268.8L420.8,268.2L420.8,272L424.4,272.5Z" fill="#fac05c"/>
<path d="M438.4,253.2L440.1,252L436.5,251.4L434.8,252.6Z" fill="#feec90"/>
<path d="M438.4,253.2L440.1,252L440.1,255.7L438.4,256.9Z" fill="#f4e38a"/>
<path d="M436.7,276.8L438.4,275.6L438.4,279.3L436.7,280.5Z" fill="#f4e999"/>
<path d="M419.2,280.6L420.8,279.4L420.8,283.1L419.2,284.4Z" fill="#f4e896"/>
<path d="M419.2,280.6L415.6,280.1L415.6,283.8L419.2,284.4Z" fill="#fbf09a"/>
<path d="M415.6,268.9L417.3,267.6L413.7,267L412.1,268.3Z" fill="#fdfbb2"/>
<path d="M415.6,268.9L412.1,268.3L412.1,272L415.6,272.6Z" fill="#faf8b0"/>
<path d="M429.6,253.3L431.3,252L427.7,251.4L426.1,252.7Z" fill="#fee07c"/>
<path d="M429.6,253.3L426.1,252.7L426.1,256.4L429.6,257Z" fill="#fbde7b"/>
<path d="M431.5,288.6L428,288L428,291.8L431.5,292.4Z" fill="#fbf2a0"/>
<path d="M428,276.9L424.4,276.3L424.4,280L428,280.6Z" fill="#fbe586"/>
<path d="M424.4,265.1L426.1,263.9L422.5,263.3L420.8,264.5Z" fill="#fdbe5a"/>
<path d="M424.4,265.1L420.8,264.5L420.8,268.2L424.4,268.8Z" fill="#fabc59"/>
<path d="M436.7,273.1L438.4,271.8L438.4,275.6L436.7,276.8Z" fill="#f4dd80"/>
<path d="M436.7,273.1L433.2,272.5L433.2,276.2L436.7,276.8Z" fill="#fbe484"/>
<path d="M426.1,263.9L429.6,264.4" stroke="#000" stroke-width="2.4" stroke-linecap="round" fill="none"/>
<path d="M419.2,276.9L420.8,275.7L420.8,279.4L419.2,280.6Z" fill="#f4ec9f"/>
<path d="M419.2,276.9L415.6,276.3L415.6,280.1L419.2,280.6Z" fill="#fbf4a4"/>
<path d="M433.2,261.3L429.6,260.7L429.6,264.4L433.2,265Z" fill="#fbde7b"/>
<path d="M426.1,252.7L422.5,252.1M447.2,253.2L448.8,251.9" stroke="#000" stroke-width="2.4" stroke-linecap="round" fill="none"/>
<path d="M431.5,284.9L433.2,283.7L433.2,287.4L431.5,288.6Z" fill="#f4eb9d"/>
<path d="M431.5,284.9L428,284.3L428,288L431.5,288.6Z" fill="#fbf3a2"/>
<path d="M428,273.1L424.4,272.5L424.4,276.3L428,276.9Z" fill="#fbd873"/>
<path d="M436.7,269.4L438.4,268.1L438.4,271.8L436.7,273.1Z" fill="#f4e591"/>
<path d="M419.2,273.2L420.8,272L420.8,275.7L419.2,276.9Z" fill="#f3f0a9"/>
<path d="M419.2,273.2L415.6,272.6L415.6,276.3L419.2,276.9Z" fill="#faf8ae"/>
<path d="M433.2,257.6L429.6,257L429.6,260.7L433.2,261.3Z" fill="#fbe88d"/>
<path d="M431.5,281.2L428,280.6L428,284.3L431.5,284.9Z" fill="#fbe98e"/>
<path d="M428,269.4L424.4,268.8L424.4,272.5L428,273.1Z" fill="#fabd5a"/>
<path d="M436.7,265.6L438.4,264.4L438.4,268.1L436.7,269.4Z" fill="#f4e896"/>
<path d="M419.2,269.5L420.8,268.2L417.3,267.6L415.6,268.9Z" fill="#fef29b"/>
<path d="M419.2,269.5L420.8,268.2L420.8,272L419.2,273.2Z" fill="#f4e895"/>
<path d="M419.2,269.5L415.6,268.9L415.6,272.6L419.2,273.2Z" fill="#fbf099"/>
<path d="M433.2,253.9L434.8,252.6L431.3,252L429.6,253.3Z" fill="#fee98c"/>
<path d="M433.2,253.9L429.6,253.3L429.6,257L433.2,257.6Z" fill="#fbe78b"/>
<path d="M435.1,289.2L436.7,288L433.2,287.4L431.5,288.6Z" fill="#feee94"/>
<path d="M435.1,289.2L436.7,288L436.7,291.7L435.1,292.9Z" fill="#f4e48e"/>
<path d="M435.1,289.2L431.5,288.6L431.5,292.4L435.1,292.9Z" fill="#fbec93"/>
<path d="M431.5,277.5L428,276.9L428,280.6L431.5,281.2Z" fill="#fbe281"/>
<path d="M428,265.7L429.6,264.4L426.1,263.9L424.4,265.1Z" fill="#fece66"/>
<path d="M428,265.7L424.4,265.1L424.4,268.8L428,269.4Z" fill="#fbcc65"/>
<path d="M429.6,264.4L433.2,265" stroke="#000" stroke-width="2.4" stroke-linecap="round" fill="none"/>
<path d="M436.7,261.9L438.4,260.7L438.4,264.4L436.7,265.6Z" fill="#f4e38a"/>
<path d="M436.7,261.9L433.2,261.3L433.2,265L436.7,265.6Z" fill="#fbea8f"/>
<path d="M429.6,253.3L426.1,252.7" stroke="#000" stroke-width="2.4" stroke-linecap="round" fill="none"/>
<path d="M431.5,273.7L433.2,272.5L433.2,276.2L431.5,277.5Z" fill="#f4d878"/>
<path d="M431.5,273.7L428,273.1L428,276.9L431.5,277.5Z" fill="#fbdf7c"/>
<path d="M445.5,265.6L447.2,264.3" stroke="#000" stroke-width="2.4" stroke-linecap="round" fill="none"/>
<path d="M436.7,258.2L438.4,256.9L438.4,260.7L436.7,261.9Z" fill="#f4e794"/>
<path d="M436.7,258.2L433.2,257.6L433.2,261.3L436.7,261.9Z" fill="#fbef98"/>
<path d="M435.1,281.8L436.7,280.5L436.7,284.3L435.1,285.5Z" fill="#f4ea9a"/>
<path d="M435.1,281.8L431.5,281.2L431.5,284.9L435.1,285.5Z" fill="#fbf29e"/>
<path d="M431.5,270L428,269.4L428,273.1L431.5,273.7Z" fill="#fbe687"/>
<path d="M436.7,254.4L438.4,253.2L434.8,252.6L433.2,253.9Z" fill="#fef19a"/>
<path d="M436.7,254.4L438.4,253.2L438.4,256.9L436.7,258.2Z" fill="#f4e794"/>
<path d="M436.7,254.4L433.2,253.9L433.2,257.6L436.7,258.2Z" fill="#fbef98"/>
<path d="M435.1,278L436.7,276.8L433.2,276.2L431.5,277.5Z" fill="#fef099"/>
<path d="M435.1,278L436.7,276.8L436.7,280.5L435.1,281.8Z" fill="#f4e693"/>
<path d="M435.1,278L431.5,277.5L431.5,281.2L435.1,281.8Z" fill="#fbee97"/>
<path d="M431.5,266.3L433.2,265L429.6,264.4L428,265.7Z" fill="#fedd79"/>
<path d="M431.5,266.3L428,265.7L428,269.4L431.5,270Z" fill="#fbdb78"/>
<path d="M433.2,265L436.7,265.6M433.2,253.9L429.6,253.3M445.5,254.4L447.2,253.2" stroke="#000" stroke-width="2.4" stroke-linecap="round" fill="none"/>
<path d="M435.1,270.6L436.7,269.4L436.7,273.1L435.1,274.3Z" fill="#f4dd80"/>
<path d="M435.1,270.6L431.5,270L431.5,273.7L435.1,274.3Z" fill="#fbe484"/>
<path d="M435.1,266.9L436.7,265.6L433.2,265L431.5,266.3Z" fill="#feeb90"/>
<path d="M435.1,266.9L436.7,265.6L436.7,269.4L435.1,270.6Z" fill="#f4e28a"/>
<path d="M435.1,266.9L431.5,266.3L431.5,270L435.1,270.6Z" fill="#fbe98f"/>
<path d="M436.7,265.6L440.3,266.2M436.7,254.4L433.2,253.9M443.8,266.8L445.5,265.6M440.3,266.2L443.8,266.8M440.3,255L436.7,254.4M443.8,255.6L445.5,254.4M443.8,266.8L443.8,263.1M443.8,263.1L443.8,259.4M443.8,255.6L440.3,255M443.8,259.4L443.8,255.6" stroke="#000" stroke-width="2.4" stroke-linecap="round" fill="none"/>
</g>
<text x="456.4" y="372.5" font-size="9.4" text-anchor="start">0</text>
<text x="444.4" y="375.8" font-size="9.4" text-anchor="middle">0</text>
<text x="464.7" y="366.3" font-size="9.4" text-anchor="start">5</text>
<text x="426.2" y="372.8" font-size="9.4" text-anchor="middle">5</text>
<text x="473" y="360.1" font-size="9.4" text-anchor="start">10</text>
<text x="407.9" y="369.7" font-size="9.4" text-anchor="middle">10</text>
<text x="481.3" y="353.9" font-size="9.4" text-anchor="start">15</text>
<text x="389.7" y="366.7" font-size="9.4" text-anchor="middle">15</text>
<text x="489.6" y="347.7" font-size="9.4" text-anchor="start">20</text>
<text x="371.4" y="363.7" font-size="9.4" text-anchor="middle">20</text>
<text x="497.9" y="341.5" font-size="9.4" text-anchor="start">25</text>
<text x="353.2" y="360.6" font-size="9.4" text-anchor="middle">25</text>
<text x="506.2" y="335.3" font-size="9.4" text-anchor="start">30</text>
<text x="334.9" y="357.6" font-size="9.4" text-anchor="middle">30</text>
<text x="333.7" y="251.1" font-size="9.4" text-anchor="end">0</text>
<text x="333.7" y="280.9" font-size="9.4" text-anchor="end">5</text>
<text x="333.7" y="310.7" font-size="9.4" text-anchor="end">10</text>
<text x="333.7" y="340.5" font-size="9.4" text-anchor="end">15</text>
<text x="320.2" y="292.5" font-size="8.9" text-anchor="middle" transform="rotate(-90 320.2 292.5)">Depth/(km)</text>
<text x="386.6" y="380.7" font-size="9.2" text-anchor="middle">Y/(km)</text>
<text x="500.4" y="374.9" font-size="9.2" text-anchor="middle">X/(km)</text>
<rect x="520.4" y="208.5" width="9.3" height="154" fill="url(#cb)"/>
<text x="533.1" y="211.6" font-size="8.8" text-anchor="start">1</text>
<text x="533.1" y="242.4" font-size="8.8" text-anchor="start">0.8</text>
<text x="533.1" y="273.2" font-size="8.8" text-anchor="start">0.6</text>
<text x="533.1" y="304" font-size="8.8" text-anchor="start">0.4</text>
<text x="533.1" y="334.8" font-size="8.8" text-anchor="start">0.2</text>
<text x="533.1" y="365.6" font-size="8.8" text-anchor="start">0</text>
<path d="M529.7,208.5h-1.5M529.7,239.3h-1.5M529.7,270.1h-1.5M529.7,300.9h-1.5M529.7,331.7h-1.5M529.7,362.5h-1.5" stroke="#222" stroke-width=".5" fill="none"/>
<text x="524.4" y="204" font-size="8.9" text-anchor="middle">g/cm<tspan dy="-4.6" font-size="6.6">3</tspan></text>
<text x="295.7" y="207.6" font-size="17.8" text-anchor="start" style="font-weight:400">( d )</text>
<path d="M70.1,418L70.1,510.4M70.1,510.4L136,547.6M208.9,428.8L208.9,521.2M208.9,521.2L109.4,545.5M86.2,414.1L86.2,506.5M86.2,506.5L152.1,543.7M198.2,422.8L198.2,515.2M198.2,515.2L98.7,539.5M102.2,410.1L102.2,502.5M102.2,502.5L168.1,539.7M187.6,416.8L187.6,509.2M187.6,509.2L88.1,533.5M118.3,406.2L118.3,498.6M118.3,498.6L184.2,535.8M177,410.8L177,503.2M177,503.2L77.5,527.5M134.3,402.3L134.3,494.7M134.3,494.7L200.2,531.9M166.4,404.8L166.4,497.2M166.4,497.2L66.9,521.5M150.4,398.4L150.4,490.8M150.4,490.8L216.3,528M155.7,398.8L155.7,491.2M155.7,491.2L56.2,515.5M54.1,450.8L153.6,426.5M153.6,426.5L219.5,463.7M54.1,479.7L153.6,455.4M153.6,455.4L219.5,492.6M54.1,508.5L153.6,484.2M153.6,484.2L219.5,521.4" stroke="#e4e4e4" stroke-width=".55" fill="none"/>
<path d="M153.6,397.6L153.6,490M219.5,434.8L219.5,527.2" stroke="#8a8a8a" stroke-width=".65" fill="none"/>
<path d="M54.1,421.9L54.1,514.3M54.1,421.9L153.6,397.6M153.6,397.6L219.5,434.8M54.1,514.3L153.6,490M153.6,490L219.5,527.2M54.1,514.3L120,551.5M120,551.5L219.5,527.2M120,551.5l1.9,1.7M120,551.5l-2.9,1.3M136,547.6l1.9,1.7M109.4,545.5l-2.9,1.3M152.1,543.7l1.9,1.7M98.7,539.5l-2.9,1.3M168.1,539.7l1.9,1.7M88.1,533.5l-2.9,1.3M184.2,535.8l1.9,1.7M77.5,527.5l-2.9,1.3M200.2,531.9l1.9,1.7M66.9,521.5l-2.9,1.3M216.3,528l1.9,1.7M56.2,515.5l-2.9,1.3M54.1,421.9h-2.6M54.1,450.8h-2.6M54.1,479.7h-2.6M54.1,508.5h-2.6" stroke="#3a3a3a" stroke-width=".65" fill="none"/>
<g stroke="#2e2010" stroke-width=".37" stroke-linejoin="round">
<path d="M163.4,461.2L163.4,464.8M163.4,457.6L163.4,461.2M163.4,464.8L160,465.7M163.4,454L163.4,457.6M165.6,466.1L163.4,464.8M160,454.8L163.4,454M160,465.7L156.7,466.5M165.6,455.3L163.4,454M167.8,467.4L165.6,466.1M156.7,455.6L160,454.8" stroke="#000" stroke-width="2.4" stroke-linecap="round" fill="none"/>
<path d="M156.7,466.5L153.3,467.3" stroke="#000" stroke-width="2.4" stroke-linecap="round" fill="none"/>
<path d="M158.9,456.9L162.2,456.1L160,454.8L156.7,455.6Z" fill="#fed871"/>
<path d="M167.8,456.5L165.6,455.3M153.3,456.5L156.7,455.6" stroke="#000" stroke-width="2.4" stroke-linecap="round" fill="none"/>
<path d="M153.3,467.3L150,468.1" stroke="#000" stroke-width="2.4" stroke-linecap="round" fill="none"/>
<path d="M170.1,468.6L167.8,467.4" stroke="#000" stroke-width="2.4" stroke-linecap="round" fill="none"/>
<path d="M155.5,457.7L158.9,456.9L156.7,455.6L153.3,456.5Z" fill="#fd8b42"/>
<path d="M150,457.3L153.3,456.5" stroke="#000" stroke-width="2.4" stroke-linecap="round" fill="none"/>
<path d="M161.1,458.2L164.5,457.3L162.2,456.1L158.9,456.9Z" fill="#fed872"/>
<path d="M150,468.1L146.6,468.9" stroke="#000" stroke-width="2.4" stroke-linecap="round" fill="none"/>
<path d="M170.1,457.8L167.8,456.5" stroke="#000" stroke-width="2.4" stroke-linecap="round" fill="none"/>
<path d="M152.2,458.5L155.5,457.7L153.3,456.5L150,457.3Z" fill="#fd9044"/>
<path d="M172.3,469.9L170.1,468.6" stroke="#000" stroke-width="2.4" stroke-linecap="round" fill="none"/>
<path d="M146.6,458.1L150,457.3" stroke="#000" stroke-width="2.4" stroke-linecap="round" fill="none"/>
<path d="M157.8,459L161.1,458.2L158.9,456.9L155.5,457.7Z" fill="#fd8c43"/>
<path d="M146.6,468.9L143.2,469.7" stroke="#000" stroke-width="2.4" stroke-linecap="round" fill="none"/>
<path d="M148.8,459.4L152.2,458.5L150,457.3L146.6,458.1Z" fill="#fc8641"/>
<path d="M163.4,459.4L166.7,458.6L164.5,457.3L161.1,458.2Z" fill="#fedc77"/>
<path d="M172.3,459L170.1,457.8" stroke="#000" stroke-width="2.4" stroke-linecap="round" fill="none"/>
<path d="M172.3,466.3L172.3,469.9" stroke="#000" stroke-width="2.4" stroke-linecap="round" fill="none"/>
<path d="M143.2,458.9L146.6,458.1" stroke="#000" stroke-width="2.4" stroke-linecap="round" fill="none"/>
<path d="M154.4,459.8L157.8,459L155.5,457.7L152.2,458.5Z" fill="#fd8b42"/>
<path d="M172.3,462.7L172.3,466.3M143.2,469.7L139.9,470.6M172.3,469.9L168.9,470.7" stroke="#000" stroke-width="2.4" stroke-linecap="round" fill="none"/>
<path d="M172.3,459L172.3,462.7" stroke="#000" stroke-width="2.4" stroke-linecap="round" fill="none"/>
<path d="M142.1,475.4L139.9,474.2L139.9,477.8L142.1,479Z" fill="#f4d878"/>
<path d="M165.6,467.9L168.9,467.1L168.9,470.7L165.6,471.5Z" fill="#fbd772"/>
<path d="M145.5,460.2L148.8,459.4L146.6,458.1L143.2,458.9Z" fill="#fc8441"/>
<path d="M160,460.2L163.4,459.4L161.1,458.2L157.8,459Z" fill="#fc8741"/>
<path d="M143.2,455.3L143.2,458.9" stroke="#000" stroke-width="2.4" stroke-linecap="round" fill="none"/>
<path d="M147.7,479.5L145.5,478.2L145.5,481.8L147.7,483.1Z" fill="#f4dc7f"/>
<path d="M165.6,464.3L168.9,463.5L168.9,467.1L165.6,467.9Z" fill="#fbdc78"/>
<path d="M143.2,451.7L143.2,455.3" stroke="#000" stroke-width="2.4" stroke-linecap="round" fill="none"/>
<path d="M168.9,459.9L172.3,459" stroke="#000" stroke-width="2.4" stroke-linecap="round" fill="none"/>
<path d="M151.1,460.6L154.4,459.8L152.2,458.5L148.8,459.4Z" fill="#fc803f"/>
<path d="M165.6,460.7L168.9,459.9L166.7,458.6L163.4,459.4Z" fill="#fed46d"/>
<path d="M165.6,460.7L168.9,459.9L168.9,463.5L165.6,464.3Z" fill="#fbd26c"/>
<path d="M139.9,470.6L136.5,471.4" stroke="#000" stroke-width="2.4" stroke-linecap="round" fill="none"/>
<path d="M168.9,470.7L165.6,471.5M143.2,448.1L143.2,451.7" stroke="#000" stroke-width="2.4" stroke-linecap="round" fill="none"/>
<path d="M145.5,460.2L143.2,458.9" stroke="#000" stroke-width="2.4" stroke-linecap="round" fill="none"/>
<path d="M162.2,472.3L165.6,471.5L165.6,475.1L162.2,475.9Z" fill="#fbd16b"/>
<path d="M143.2,444.5L143.2,448.1" stroke="#000" stroke-width="2.4" stroke-linecap="round" fill="none"/>
<path d="M162.2,468.7L165.6,467.9L165.6,471.5L162.2,472.3Z" fill="#fa8e43"/>
<path d="M156.6,461.1L160,460.2L157.8,459L154.4,459.8Z" fill="#fd8e43"/>
<path d="M138.8,472.6L136.5,471.4L136.5,475L138.8,476.3Z" fill="#f4cf6d"/>
<path d="M143.2,440.9L143.2,444.5" stroke="#000" stroke-width="2.4" stroke-linecap="round" fill="none"/>
<path d="M162.2,465.1L165.6,464.3L165.6,467.9L162.2,468.7Z" fill="#fa8a41"/>
<path d="M144.4,476.7L142.1,475.4L142.1,479L144.4,480.3Z" fill="#f4d474"/>
<path d="M158.9,476.8L162.2,475.9L162.2,479.5L158.9,480.4Z" fill="#fbd974"/>
<path d="M138.8,469L136.5,467.8L136.5,471.4L138.8,472.6Z" fill="#f4ca67"/>
<path d="M165.6,460.7L168.9,459.9M143.2,437.3L143.2,440.9" stroke="#000" stroke-width="2.4" stroke-linecap="round" fill="none"/>
<path d="M147.7,461.4L151.1,460.6L148.8,459.4L145.5,460.2Z" fill="#fc8842"/>
<path d="M162.2,461.5L165.6,460.7L163.4,459.4L160,460.2Z" fill="#fc8641"/>
<path d="M162.2,461.5L165.6,460.7L165.6,464.3L162.2,465.1Z" fill="#f98540"/>
<path d="M136.5,471.4L133.2,472.2" stroke="#000" stroke-width="2.4" stroke-linecap="round" fill="none"/>
<path d="M149.9,480.7L147.7,479.5L147.7,483.1L149.9,484.4Z" fill="#f4de83"/>
<path d="M165.6,471.5L162.2,472.3" stroke="#000" stroke-width="2.4" stroke-linecap="round" fill="none"/>
<path d="M158.9,473.1L162.2,472.3L162.2,475.9L158.9,476.8Z" fill="#fbdf7b"/>
<path d="M138.8,465.4L136.5,464.2L136.5,467.8L138.8,469Z" fill="#f3a54c"/>
<path d="M158.9,469.5L162.2,468.7L162.2,472.3L158.9,473.1Z" fill="#f9803f"/>
<path d="M138.8,461.8L136.5,460.6L136.5,464.2L138.8,465.4Z" fill="#f39c48"/>
<path d="M153.3,461.9L156.6,461.1L154.4,459.8L151.1,460.6Z" fill="#fc8140"/>
<path d="M139.9,438.1L143.2,437.3" stroke="#000" stroke-width="2.4" stroke-linecap="round" fill="none"/>
<path d="M155.5,481.2L158.9,480.4L158.9,484L155.5,484.8Z" fill="#fbe383"/>
<path d="M147.7,461.4L145.5,460.2" stroke="#000" stroke-width="2.4" stroke-linecap="round" fill="none"/>
<path d="M158.9,465.9L162.2,465.1L162.2,468.7L158.9,469.5Z" fill="#f97f3e"/>
<path d="M145.5,438.5L143.2,437.3" stroke="#000" stroke-width="2.4" stroke-linecap="round" fill="none"/>
<path d="M155.5,477.6L158.9,476.8L158.9,480.4L155.5,481.2Z" fill="#fbde7a"/>
<path d="M162.2,461.5L165.6,460.7" stroke="#000" stroke-width="2.4" stroke-linecap="round" fill="none"/>
<path d="M158.9,462.3L162.2,461.5L160,460.2L156.6,461.1Z" fill="#fc7e3f"/>
<path d="M158.9,462.3L162.2,461.5L162.2,465.1L158.9,465.9Z" fill="#f97d3e"/>
<path d="M133.2,472.2L129.8,473M162.2,472.3L158.9,473.1" stroke="#000" stroke-width="2.4" stroke-linecap="round" fill="none"/>
<path d="M141,473.9L138.8,472.6L138.8,476.3L141,477.5Z" fill="#f4cb68"/>
<path d="M142.1,439.3L145.5,438.5L143.2,437.3L139.9,438.1Z" fill="#fed973"/>
<path d="M155.5,474L158.9,473.1L158.9,476.8L155.5,477.6Z" fill="#fbce67"/>
<path d="M146.6,478L144.4,476.7L144.4,480.3L146.6,481.6Z" fill="#f4d777"/>
<path d="M141,470.3L138.8,469L138.8,472.6L141,473.9Z" fill="#f4d473"/>
<path d="M155.5,470.4L158.9,469.5L158.9,473.1L155.5,474Z" fill="#fa8f43"/>
<path d="M136.5,438.9L139.9,438.1" stroke="#000" stroke-width="2.4" stroke-linecap="round" fill="none"/>
<path d="M152.2,482L155.5,481.2L155.5,484.8L152.2,485.6Z" fill="#fbe382"/>
<path d="M152.2,482L149.9,480.7L149.9,484.4L152.2,485.6Z" fill="#f4dc7e"/>
<path d="M129.8,473L129.8,469.4" stroke="#000" stroke-width="2.4" stroke-linecap="round" fill="none"/>
<path d="M141,466.7L138.8,465.4L138.8,469L141,470.3Z" fill="#f39c48"/>
<path d="M155.5,466.7L158.9,465.9L158.9,469.5L155.5,470.4Z" fill="#f98741"/>
<path d="M149.9,459.1L153.3,458.3L151.1,457L147.7,457.8Z" fill="#fee889"/>
<path d="M152.2,478.4L155.5,477.6L155.5,481.2L152.2,482Z" fill="#fbda76"/>
<path d="M158.9,462.3L162.2,461.5M129.8,469.4L129.8,465.8" stroke="#000" stroke-width="2.4" stroke-linecap="round" fill="none"/>
<path d="M141,463.1L138.8,461.8L138.8,465.4L141,466.7Z" fill="#f3a24b"/>
<path d="M155.5,463.1L158.9,462.3L156.6,461.1L153.3,461.9Z" fill="#fc8140"/>
<path d="M155.5,463.1L158.9,462.3L158.9,465.9L155.5,466.7Z" fill="#f9803f"/>
<path d="M158.9,473.1L155.5,474" stroke="#000" stroke-width="2.4" stroke-linecap="round" fill="none"/>
<path d="M138.8,440.2L142.1,439.3L139.9,438.1L136.5,438.9Z" fill="#fc8340"/>
<path d="M152.2,474.8L155.5,474L155.5,477.6L152.2,478.4Z" fill="#fbd36e"/>
<path d="M149.9,462.7L147.7,461.4" stroke="#000" stroke-width="2.4" stroke-linecap="round" fill="none"/>
<path d="M129.8,465.8L129.8,462.2" stroke="#000" stroke-width="2.4" stroke-linecap="round" fill="none"/>
<path d="M132.1,474.3L129.8,473" stroke="#000" stroke-width="2.4" stroke-linecap="round" fill="none"/>
<path d="M147.7,439.8L145.5,438.5" stroke="#000" stroke-width="2.4" stroke-linecap="round" fill="none"/>
<path d="M152.2,471.2L155.5,470.4L155.5,474L152.2,474.8Z" fill="#fa8d42"/>
<path d="M129.8,462.2L129.8,458.6" stroke="#000" stroke-width="2.4" stroke-linecap="round" fill="none"/>
<path d="M133.2,439.7L136.5,438.9" stroke="#000" stroke-width="2.4" stroke-linecap="round" fill="none"/>
<path d="M143.2,475.2L141,473.9L141,477.5L143.2,478.8Z" fill="#f4d372"/>
<path d="M144.4,440.6L147.7,439.8L145.5,438.5L142.1,439.3Z" fill="#fed56e"/>
<path d="M152.2,467.6L155.5,466.7L155.5,470.4L152.2,471.2Z" fill="#f9823f"/>
<path d="M129.8,458.6L129.8,455" stroke="#000" stroke-width="2.4" stroke-linecap="round" fill="none"/>
<path d="M148.8,479.2L152.2,478.4L152.2,482L148.8,482.8Z" fill="#fbd975"/>
<path d="M148.8,479.2L146.6,478L146.6,481.6L148.8,482.8Z" fill="#f4d271"/>
<path d="M143.2,471.6L141,470.3L141,473.9L143.2,475.2Z" fill="#f4cb68"/>
<path d="M155.5,463.1L158.9,462.3" stroke="#000" stroke-width="2.4" stroke-linecap="round" fill="none"/>
<path d="M152.2,464L155.5,463.1L155.5,466.7L152.2,467.6Z" fill="#f97b3e"/>
<path d="M155.5,474L152.2,474.8M129.8,455L129.8,451.4" stroke="#000" stroke-width="2.4" stroke-linecap="round" fill="none"/>
<path d="M135.4,441L138.8,440.2L136.5,438.9L133.2,439.7Z" fill="#fc8541"/>
<path d="M148.8,475.6L152.2,474.8L152.2,478.4L148.8,479.2Z" fill="#fbda76"/>
<path d="M143.2,467.9L141,466.7L141,470.3L143.2,471.6Z" fill="#f39c48"/>
<path d="M152.2,460.3L155.5,459.5L155.5,463.1L152.2,464Z" fill="#fbe688"/>
<path d="M148.8,472L152.2,471.2L152.2,474.8L148.8,475.6Z" fill="#faa84d"/>
<path d="M128.7,464.3L126.5,463L126.5,466.6L128.7,467.9Z" fill="#f4db7d"/>
<path d="M143.2,464.3L141,463.1L141,466.7L143.2,467.9Z" fill="#f3a44c"/>
<path d="M152.2,456.7L155.5,455.9L155.5,459.5L152.2,460.3Z" fill="#fbe688"/>
<path d="M129.8,440.5L133.2,439.7" stroke="#000" stroke-width="2.4" stroke-linecap="round" fill="none"/>
<path d="M141,441.4L144.4,440.6L142.1,439.3L138.8,440.2Z" fill="#fc7b3e"/>
<path d="M152.2,464L149.9,462.7" stroke="#000" stroke-width="2.4" stroke-linecap="round" fill="none"/>
<path d="M148.8,468.4L152.2,467.6L152.2,471.2L148.8,472Z" fill="#faae50"/>
<path d="M129.8,451.4L126.5,452.2" stroke="#000" stroke-width="2.4" stroke-linecap="round" fill="none"/>
<path d="M128.7,460.7L126.5,459.4L126.5,463L128.7,464.3Z" fill="#f4d877"/>
<path d="M134.3,475.5L132.1,474.3" stroke="#000" stroke-width="2.4" stroke-linecap="round" fill="none"/>
<path d="M152.2,453.1L155.5,452.3L153.3,451.1L149.9,451.9Z" fill="#fee889"/>
<path d="M152.2,453.1L155.5,452.3L155.5,455.9L152.2,456.7Z" fill="#fbe688"/>
<path d="M149.9,441L147.7,439.8" stroke="#000" stroke-width="2.4" stroke-linecap="round" fill="none"/>
<path d="M152.2,464L155.5,463.1M132.1,452.6L129.8,451.4" stroke="#000" stroke-width="2.4" stroke-linecap="round" fill="none"/>
<path d="M148.8,464.8L152.2,464L152.2,467.6L148.8,468.4Z" fill="#fa9d48"/>
<path d="M152.2,474.8L148.8,475.6" stroke="#000" stroke-width="2.4" stroke-linecap="round" fill="none"/>
<path d="M132.1,441.8L135.4,441L133.2,439.7L129.8,440.5Z" fill="#fc8240"/>
<path d="M145.5,476.4L148.8,475.6L148.8,479.2L145.5,480Z" fill="#fbdb77"/>
<path d="M145.5,476.4L143.2,475.2L143.2,478.8L145.5,480Z" fill="#f4d473"/>
<path d="M146.6,441.9L149.9,441L147.7,439.8L144.4,440.6Z" fill="#fed46d"/>
<path d="M148.8,461.2L152.2,460.3L152.2,464L148.8,464.8Z" fill="#faa04a"/>
<path d="M145.5,472.8L148.8,472L148.8,475.6L145.5,476.4Z" fill="#fbd975"/>
<path d="M148.8,457.6L152.2,456.7L152.2,460.3L148.8,461.2Z" fill="#fa9d48"/>
<path d="M152.2,460.3L152.2,464M126.5,441.4L129.8,440.5" stroke="#000" stroke-width="2.4" stroke-linecap="round" fill="none"/>
<path d="M137.6,442.2L141,441.4L138.8,440.2L135.4,441Z" fill="#fc7a3e"/>
<path d="M145.5,469.2L148.8,468.4L148.8,472L145.5,472.8Z" fill="#faa94e"/>
<path d="M126.5,452.2L123.1,453" stroke="#000" stroke-width="2.4" stroke-linecap="round" fill="none"/>
<path d="M148.8,454L152.2,453.1L152.2,456.7L148.8,457.6Z" fill="#fa8c42"/>
<path d="M152.2,456.7L152.2,460.3" stroke="#000" stroke-width="2.4" stroke-linecap="round" fill="none"/>
<path d="M130.9,465.5L128.7,464.3L128.7,467.9L130.9,469.1Z" fill="#f4d979"/>
<path d="M145.5,465.6L148.8,464.8L148.8,468.4L145.5,469.2Z" fill="#faa24b"/>
<path d="M148.8,475.6L145.5,476.4" stroke="#000" stroke-width="2.4" stroke-linecap="round" fill="none"/>
<path d="M148.8,450.3L152.2,449.5L152.2,453.1L148.8,454Z" fill="#f97e3e"/>
<path d="M152.2,453.1L152.2,456.7" stroke="#000" stroke-width="2.4" stroke-linecap="round" fill="none"/>
<path d="M128.7,442.6L132.1,441.8L129.8,440.5L126.5,441.4Z" fill="#fb743f"/>
<path d="M143.2,442.7L146.6,441.9L144.4,440.6L141,441.4Z" fill="#fc793e"/>
<path d="M130.9,461.9L128.7,460.7L128.7,464.3L130.9,465.5Z" fill="#f4d777"/>
<path d="M145.5,462L148.8,461.2L148.8,464.8L145.5,465.6Z" fill="#fa9f49"/>
<path d="M136.5,476.8L134.3,475.5" stroke="#000" stroke-width="2.4" stroke-linecap="round" fill="none"/>
<path d="M152.2,442.3L149.9,441" stroke="#000" stroke-width="2.4" stroke-linecap="round" fill="none"/>
<path d="M148.8,446.7L152.2,445.9L152.2,449.5L148.8,450.3Z" fill="#fbd974"/>
<path d="M152.2,449.5L152.2,453.1" stroke="#000" stroke-width="2.4" stroke-linecap="round" fill="none"/>
<path d="M142.1,473.6L145.5,472.8L145.5,476.4L142.1,477.2Z" fill="#fbd26c"/>
<path d="M142.1,473.6L139.9,472.4L139.9,476L142.1,477.2Z" fill="#f4cc69"/>
<path d="M134.3,453.9L132.1,452.6" stroke="#000" stroke-width="2.4" stroke-linecap="round" fill="none"/>
<path d="M145.5,458.4L148.8,457.6L148.8,461.2L145.5,462Z" fill="#faa04a"/>
<path d="M123.1,442.2L126.5,441.4" stroke="#000" stroke-width="2.4" stroke-linecap="round" fill="none"/>
<path d="M134.3,443.1L137.6,442.2L135.4,441L132.1,441.8Z" fill="#fc783e"/>
<path d="M148.8,443.1L152.2,442.3L149.9,441L146.6,441.9Z" fill="#fee07c"/>
<path d="M148.8,443.1L152.2,442.3L152.2,445.9L148.8,446.7Z" fill="#fbde7b"/>
<path d="M152.2,445.9L152.2,449.5" stroke="#000" stroke-width="2.4" stroke-linecap="round" fill="none"/>
<path d="M142.1,470L145.5,469.2L145.5,472.8L142.1,473.6Z" fill="#fbe07c"/>
<path d="M142.1,470L139.9,468.8L139.9,472.4L142.1,473.6Z" fill="#f4d978"/>
<path d="M123.1,453L119.8,453.8" stroke="#000" stroke-width="2.4" stroke-linecap="round" fill="none"/>
<path d="M145.5,454.8L148.8,454L148.8,457.6L145.5,458.4Z" fill="#f98640"/>
<path d="M152.2,442.3L152.2,445.9" stroke="#000" stroke-width="2.4" stroke-linecap="round" fill="none"/>
<path d="M142.1,466.4L145.5,465.6L145.5,469.2L142.1,470Z" fill="#fbda76"/>
<path d="M122,458.7L119.8,457.4L119.8,461L122,462.3Z" fill="#f4e38b"/>
<path d="M145.5,476.4L142.1,477.2" stroke="#000" stroke-width="2.4" stroke-linecap="round" fill="none"/>
<path d="M145.5,451.2L148.8,450.3L148.8,454L145.5,454.8Z" fill="#fa8f43"/>
<path d="M125.4,443.4L128.7,442.6L126.5,441.4L123.1,442.2Z" fill="#fc773e"/>
<path d="M139.9,443.5L143.2,442.7L141,441.4L137.6,442.2Z" fill="#fc8240"/>
<path d="M142.1,462.8L145.5,462L145.5,465.6L142.1,466.4Z" fill="#fa9e49"/>
<path d="M145.5,447.6L148.8,446.7L148.8,450.3L145.5,451.2Z" fill="#f9813f"/>
<path d="M133.2,466.8L130.9,465.5L130.9,469.1L133.2,470.4Z" fill="#f4dd80"/>
<path d="M142.1,459.2L145.5,458.4L145.5,462L142.1,462.8Z" fill="#fa9846"/>
<path d="M119.8,443L123.1,442.2" stroke="#000" stroke-width="2.4" stroke-linecap="round" fill="none"/>
<path d="M148.8,443.1L152.2,442.3" stroke="#000" stroke-width="2.4" stroke-linecap="round" fill="none"/>
<path d="M130.9,443.9L134.3,443.1L132.1,441.8L128.7,442.6Z" fill="#fc7a3e"/>
<path d="M145.5,443.9L148.8,443.1L146.6,441.9L143.2,442.7Z" fill="#fb733f"/>
<path d="M145.5,443.9L148.8,443.1L148.8,446.7L145.5,447.6Z" fill="#f8723e"/>
<path d="M119.8,453.8L116.4,454.6" stroke="#000" stroke-width="2.4" stroke-linecap="round" fill="none"/>
<path d="M133.2,463.2L130.9,461.9L130.9,465.5L133.2,466.8Z" fill="#f4dd81"/>
<path d="M138.8,478.1L136.5,476.8" stroke="#000" stroke-width="2.4" stroke-linecap="round" fill="none"/>
<path d="M142.1,455.6L145.5,454.8L145.5,458.4L142.1,459.2Z" fill="#f98641"/>
<path d="M138.8,467.2L142.1,466.4L142.1,470L138.8,470.8Z" fill="#fbd26c"/>
<path d="M136.5,455.1L134.3,453.9" stroke="#000" stroke-width="2.4" stroke-linecap="round" fill="none"/>
<path d="M142.1,477.2L138.8,478.1" stroke="#000" stroke-width="2.4" stroke-linecap="round" fill="none"/>
<path d="M142.1,452L145.5,451.2L145.5,454.8L142.1,455.6Z" fill="#fa8b42"/>
<path d="M122,444.3L125.4,443.4L123.1,442.2L119.8,443Z" fill="#fc8441"/>
<path d="M136.5,444.3L139.9,443.5L137.6,442.2L134.3,443.1Z" fill="#fb723f"/>
<path d="M138.8,463.6L142.1,462.8L142.1,466.4L138.8,467.2Z" fill="#fbdf7c"/>
<path d="M118.6,455.9L116.4,454.6L116.4,458.3L118.6,459.5Z" fill="#f4e289"/>
<path d="M142.1,448.4L145.5,447.6L145.5,451.2L142.1,452Z" fill="#f97e3e"/>
<path d="M124.2,460L122,458.7L122,462.3L124.2,463.6Z" fill="#f4dc7e"/>
<path d="M138.8,460L142.1,459.2L142.1,462.8L138.8,463.6Z" fill="#fbdb77"/>
<path d="M116.4,443.8L119.8,443" stroke="#000" stroke-width="2.4" stroke-linecap="round" fill="none"/>
<path d="M118.6,452.3L116.4,451L116.4,454.6L118.6,455.9Z" fill="#f4da7b"/>
<path d="M145.5,443.9L148.8,443.1" stroke="#000" stroke-width="2.4" stroke-linecap="round" fill="none"/>
<path d="M127.6,444.7L130.9,443.9L128.7,442.6L125.4,443.4Z" fill="#fc8742"/>
<path d="M142.1,444.8L145.5,443.9L143.2,442.7L139.9,443.5Z" fill="#fc7a3e"/>
<path d="M142.1,444.8L145.5,443.9L145.5,447.6L142.1,448.4Z" fill="#f9793d"/>
<path d="M138.8,478.1L138.8,474.5M116.4,454.6L113.1,455.5" stroke="#000" stroke-width="2.4" stroke-linecap="round" fill="none"/>
<path d="M138.8,456.4L142.1,455.6L142.1,459.2L138.8,460Z" fill="#fa8c42"/>
<path d="M135.4,468.1L138.8,467.2L138.8,470.8L135.4,471.7Z" fill="#fbde7a"/>
<path d="M135.4,468.1L133.2,466.8L133.2,470.4L135.4,471.7Z" fill="#f4d776"/>
<path d="M138.8,474.5L138.8,470.8" stroke="#000" stroke-width="2.4" stroke-linecap="round" fill="none"/>
<path d="M138.8,452.8L142.1,452L142.1,455.6L138.8,456.4Z" fill="#f9823f"/>
<path d="M118.6,445.1L122,444.3L119.8,443L116.4,443.8Z" fill="#fee88a"/>
<path d="M133.2,445.1L136.5,444.3L134.3,443.1L130.9,443.9Z" fill="#fc773e"/>
<path d="M135.4,464.4L138.8,463.6L138.8,467.2L135.4,468.1Z" fill="#fbe688"/>
<path d="M135.4,464.4L133.2,463.2L133.2,466.8L135.4,468.1Z" fill="#f4df84"/>
<path d="M138.8,470.8L138.8,467.2" stroke="#000" stroke-width="2.4" stroke-linecap="round" fill="none"/>
<path d="M113.1,455.5L113.1,451.9" stroke="#000" stroke-width="2.4" stroke-linecap="round" fill="none"/>
<path d="M138.8,449.2L142.1,448.4L142.1,452L138.8,452.8Z" fill="#f98641"/>
<path d="M138.8,456.4L136.5,455.1" stroke="#000" stroke-width="2.4" stroke-linecap="round" fill="none"/>
<path d="M135.4,460.8L138.8,460L138.8,463.6L135.4,464.4Z" fill="#fbec93"/>
<path d="M138.8,467.2L138.8,463.6M113.1,444.6L116.4,443.8" stroke="#000" stroke-width="2.4" stroke-linecap="round" fill="none"/>
<path d="M142.1,444.8L145.5,443.9M113.1,451.9L113.1,448.2" stroke="#000" stroke-width="2.4" stroke-linecap="round" fill="none"/>
<path d="M124.2,445.5L127.6,444.7L125.4,443.4L122,444.3Z" fill="#fc8942"/>
<path d="M138.8,445.6L142.1,444.8L139.9,443.5L136.5,444.3Z" fill="#fb6e40"/>
<path d="M138.8,445.6L142.1,444.8L142.1,448.4L138.8,449.2Z" fill="#f86d3f"/>
<path d="M120.9,457.2L118.6,455.9L118.6,459.5L120.9,460.8Z" fill="#f4db7c"/>
<path d="M135.4,457.2L138.8,456.4L138.8,460L135.4,460.8Z" fill="#fbe98d"/>
<path d="M138.8,463.6L138.8,460" stroke="#000" stroke-width="2.4" stroke-linecap="round" fill="none"/>
<path d="M115.3,449.5L113.1,448.2L113.1,451.9L115.3,453.1Z" fill="#f4dd80"/>
<path d="M113.1,448.2L113.1,444.6M115.3,456.7L113.1,455.5" stroke="#000" stroke-width="2.4" stroke-linecap="round" fill="none"/>
<path d="M126.5,461.2L124.2,460L124.2,463.6L126.5,464.8Z" fill="#f4e289"/>
<path d="M120.9,453.6L118.6,452.3L118.6,455.9L120.9,457.2Z" fill="#f4e187"/>
<path d="M135.4,453.6L138.8,452.8L138.8,456.4L135.4,457.2Z" fill="#f8703e"/>
<path d="M138.8,460L138.8,456.4" stroke="#000" stroke-width="2.4" stroke-linecap="round" fill="none"/>
<path d="M115.3,445.9L118.6,445.1L116.4,443.8L113.1,444.6Z" fill="#fee98b"/>
<path d="M115.3,445.9L113.1,444.6L113.1,448.2L115.3,449.5Z" fill="#f4e085"/>
<path d="M129.8,446L133.2,445.1L130.9,443.9L127.6,444.7Z" fill="#fc8541"/>
<path d="M135.4,450L138.8,449.2L138.8,452.8L135.4,453.6Z" fill="#f97a3d"/>
<path d="M132,461.7L135.4,460.8L135.4,464.4L132,465.3Z" fill="#fbe78b"/>
<path d="M138.8,445.6L142.1,444.8" stroke="#000" stroke-width="2.4" stroke-linecap="round" fill="none"/>
<path d="M120.9,446.3L124.2,445.5L122,444.3L118.6,445.1Z" fill="#fee98b"/>
<path d="M135.4,446.4L138.8,445.6L136.5,444.3L133.2,445.1Z" fill="#fb6d40"/>
<path d="M135.4,446.4L138.8,445.6L138.8,449.2L135.4,450Z" fill="#f86c3f"/>
<path d="M138.8,456.4L135.4,457.2M115.3,445.9L113.1,444.6" stroke="#000" stroke-width="2.4" stroke-linecap="round" fill="none"/>
<path d="M132,458L135.4,457.2L135.4,460.8L132,461.7Z" fill="#fbdc79"/>
<path d="M132,454.4L135.4,453.6L135.4,457.2L132,458Z" fill="#f9803f"/>
<path d="M126.5,446.8L129.8,446L127.6,444.7L124.2,445.5Z" fill="#fc8140"/>
<path d="M123.1,458.4L120.9,457.2L120.9,460.8L123.1,462Z" fill="#f4de82"/>
<path d="M117.5,450.8L115.3,449.5L115.3,453.1L117.5,454.4Z" fill="#f4d979"/>
<path d="M132,450.8L135.4,450L135.4,453.6L132,454.4Z" fill="#f97c3e"/>
<path d="M117.5,458L115.3,456.7" stroke="#000" stroke-width="2.4" stroke-linecap="round" fill="none"/>
<path d="M128.7,462.5L132,461.7L132,465.3L128.7,466.1Z" fill="#fbe280"/>
<path d="M128.7,462.5L126.5,461.2L126.5,464.8L128.7,466.1Z" fill="#f4db7c"/>
<path d="M123.1,454.8L120.9,453.6L120.9,457.2L123.1,458.4Z" fill="#f4dd80"/>
<path d="M135.4,446.4L138.8,445.6" stroke="#000" stroke-width="2.4" stroke-linecap="round" fill="none"/>
<path d="M117.5,447.2L120.9,446.3L118.6,445.1L115.3,445.9Z" fill="#feea8c"/>
<path d="M117.5,447.2L115.3,445.9L115.3,449.5L117.5,450.8Z" fill="#f4e186"/>
<path d="M132,447.2L135.4,446.4L133.2,445.1L129.8,446Z" fill="#fc783e"/>
<path d="M132,447.2L135.4,446.4L135.4,450L132,450.8Z" fill="#f9773d"/>
<path d="M135.4,457.2L132,458" stroke="#000" stroke-width="2.4" stroke-linecap="round" fill="none"/>
<path d="M128.7,458.9L132,458L132,461.7L128.7,462.5Z" fill="#fbeb91"/>
<path d="M128.7,455.3L132,454.4L132,458L128.7,458.9Z" fill="#f98540"/>
<path d="M117.5,447.2L115.3,445.9" stroke="#000" stroke-width="2.4" stroke-linecap="round" fill="none"/>
<path d="M128.7,451.6L132,450.8L132,454.4L128.7,455.3Z" fill="#fa9344"/>
<path d="M123.1,444L126.5,443.2L126.5,446.8L123.1,447.6Z" fill="#fbe98e"/>
<path d="M123.1,444L120.9,442.7L120.9,446.3L123.1,447.6Z" fill="#f4e289"/>
<path d="M132,447.2L135.4,446.4" stroke="#000" stroke-width="2.4" stroke-linecap="round" fill="none"/>
<path d="M128.7,448L132,447.2L129.8,446L126.5,446.8Z" fill="#fd9144"/>
<path d="M128.7,448L132,447.2L132,450.8L128.7,451.6Z" fill="#fa9043"/>
<path d="M123.1,440.4L126.5,439.6L124.2,438.3L120.9,439.1Z" fill="#feeb8f"/>
<path d="M123.1,440.4L126.5,439.6L126.5,443.2L123.1,444Z" fill="#fbe98e"/>
<path d="M123.1,440.4L120.9,439.1L120.9,442.7L123.1,444Z" fill="#f4e289"/>
<path d="M132,458L128.7,458.9" stroke="#000" stroke-width="2.4" stroke-linecap="round" fill="none"/>
<path d="M125.3,459.7L128.7,458.9L128.7,462.5L125.3,463.3Z" fill="#fbe17f"/>
<path d="M125.3,459.7L123.1,458.4L123.1,462L125.3,463.3Z" fill="#f4da7b"/>
<path d="M119.8,452L117.5,450.8L117.5,454.4L119.8,455.6Z" fill="#f4d777"/>
<path d="M119.8,459.2L117.5,458" stroke="#000" stroke-width="2.4" stroke-linecap="round" fill="none"/>
<path d="M125.3,456.1L128.7,455.3L128.7,458.9L125.3,459.7Z" fill="#fbe07d"/>
<path d="M125.3,456.1L123.1,454.8L123.1,458.4L125.3,459.7Z" fill="#f4d979"/>
<path d="M119.8,448.4L123.1,447.6L120.9,446.3L117.5,447.2Z" fill="#feeb8e"/>
<path d="M119.8,448.4L117.5,447.2L117.5,450.8L119.8,452Z" fill="#f4e288"/>
<path d="M125.3,452.5L128.7,451.6L128.7,455.3L125.3,456.1Z" fill="#fbe88b"/>
<path d="M128.7,448L132,447.2" stroke="#000" stroke-width="2.4" stroke-linecap="round" fill="none"/>
<path d="M125.3,448.9L128.7,448L126.5,446.8L123.1,447.6Z" fill="#fedf7a"/>
<path d="M125.3,448.9L128.7,448L128.7,451.6L125.3,452.5Z" fill="#fbdd79"/>
<path d="M128.7,458.9L125.3,459.7M119.8,448.4L117.5,447.2" stroke="#000" stroke-width="2.4" stroke-linecap="round" fill="none"/>
<path d="M122,453.3L125.3,452.5L125.3,456.1L122,456.9Z" fill="#fbdf7c"/>
<path d="M122,453.3L119.8,452L119.8,455.6L122,456.9Z" fill="#f4d878"/>
<path d="M122,460.5L119.8,459.2M125.3,448.9L128.7,448" stroke="#000" stroke-width="2.4" stroke-linecap="round" fill="none"/>
<path d="M122,449.7L125.3,448.9L123.1,447.6L119.8,448.4Z" fill="#fee98b"/>
<path d="M122,449.7L125.3,448.9L125.3,452.5L122,453.3Z" fill="#fbe78a"/>
<path d="M122,449.7L119.8,448.4L119.8,452L122,453.3Z" fill="#f4e085"/>
<path d="M125.3,459.7L122,460.5M122,449.7L119.8,448.4M122,460.5L122,456.9M122,449.7L125.3,448.9M122,456.9L122,453.3M122,453.3L122,449.7" stroke="#000" stroke-width="2.4" stroke-linecap="round" fill="none"/>
</g>
<text x="127.6" y="563.5" font-size="9.4" text-anchor="middle">0</text>
<text x="113" y="562.1" font-size="9.4" text-anchor="middle">0</text>
<text x="143.6" y="559.6" font-size="9.4" text-anchor="middle">5</text>
<text x="102.4" y="556.1" font-size="9.4" text-anchor="middle">5</text>
<text x="159.7" y="555.7" font-size="9.4" text-anchor="middle">10</text>
<text x="91.7" y="550.1" font-size="9.4" text-anchor="middle">10</text>
<text x="175.7" y="551.7" font-size="9.4" text-anchor="middle">15</text>
<text x="81.1" y="544.1" font-size="9.4" text-anchor="middle">15</text>
<text x="191.8" y="547.8" font-size="9.4" text-anchor="middle">20</text>
<text x="70.5" y="538.1" font-size="9.4" text-anchor="middle">20</text>
<text x="207.8" y="543.9" font-size="9.4" text-anchor="middle">25</text>
<text x="59.9" y="532.1" font-size="9.4" text-anchor="middle">25</text>
<text x="223.9" y="540" font-size="9.4" text-anchor="middle">30</text>
<text x="49.2" y="526.1" font-size="9.4" text-anchor="middle">30</text>
<text x="49.5" y="423.6" font-size="9.4" text-anchor="end">0</text>
<text x="49.5" y="452.5" font-size="9.4" text-anchor="end">5</text>
<text x="49.5" y="481.4" font-size="9.4" text-anchor="end">10</text>
<text x="49.5" y="510.2" font-size="9.4" text-anchor="end">15</text>
<text x="36.9" y="465.6" font-size="8.9" text-anchor="middle" transform="rotate(-90 36.9 465.6)">Depth/(km)</text>
<text x="67.7" y="564.6" font-size="9.2" text-anchor="middle">Y/(km)</text>
<text x="182.8" y="567.1" font-size="9.2" text-anchor="middle">X/(km)</text>
<rect x="236.8" y="397.5" width="9.2" height="154" fill="url(#cb)"/>
<text x="249.4" y="400.6" font-size="8.8" text-anchor="start">1</text>
<text x="249.4" y="431.4" font-size="8.8" text-anchor="start">0.8</text>
<text x="249.4" y="462.2" font-size="8.8" text-anchor="start">0.6</text>
<text x="249.4" y="493" font-size="8.8" text-anchor="start">0.4</text>
<text x="249.4" y="523.8" font-size="8.8" text-anchor="start">0.2</text>
<text x="249.4" y="554.6" font-size="8.8" text-anchor="start">0</text>
<path d="M246,397.5h-1.5M246,428.3h-1.5M246,459.1h-1.5M246,489.9h-1.5M246,520.7h-1.5M246,551.5h-1.5" stroke="#222" stroke-width=".5" fill="none"/>
<text x="240.8" y="393" font-size="8.9" text-anchor="middle">g/cm<tspan dy="-4.6" font-size="6.6">3</tspan></text>
<text x="12.3" y="395.5" font-size="17.8" text-anchor="start" style="font-weight:400">( e )</text>
<path d="M346.6,430.6L346.6,526M346.6,526L459.7,544.8M484.7,414.2L484.7,509.6M484.7,509.6L433.2,548M354.9,424.4L354.9,519.8M354.9,519.8L468,538.6M466.4,411.1L466.4,506.5M466.4,506.5L414.9,544.9M363.2,418.2L363.2,513.6M363.2,513.6L476.3,532.4M448.2,408.1L448.2,503.5M448.2,503.5L396.7,541.9M371.5,412L371.5,507.4M371.5,507.4L484.6,526.2M429.9,405.1L429.9,500.5M429.9,500.5L378.4,538.9M379.8,405.8L379.8,501.2M379.8,501.2L492.9,520M411.7,402L411.7,497.4M411.7,497.4L360.2,535.8M388.1,399.6L388.1,495M388.1,495L501.2,513.8M393.4,399L393.4,494.4M393.4,494.4L341.9,532.8M338.3,466.6L389.8,428.2M389.8,428.2L502.9,447M338.3,496.4L389.8,458M389.8,458L502.9,476.8M338.3,526.2L389.8,487.8M389.8,487.8L502.9,506.6" stroke="#e4e4e4" stroke-width=".55" fill="none"/>
<path d="M389.8,398.4L389.8,493.8M502.9,417.2L502.9,512.6" stroke="#8a8a8a" stroke-width=".65" fill="none"/>
<path d="M338.3,436.8L338.3,532.2M338.3,436.8L389.8,398.4M389.8,398.4L502.9,417.2M338.3,532.2L389.8,493.8M389.8,493.8L502.9,512.6M338.3,532.2L451.4,551M451.4,551L502.9,512.6M451.4,551l3.3,1.1M451.4,551l-1.5,1.7M459.7,544.8l3.3,1.1M433.2,548l-1.5,1.7M468,538.6l3.3,1.1M414.9,544.9l-1.5,1.7M476.3,532.4l3.3,1.1M396.7,541.9l-1.5,1.7M484.6,526.2l3.3,1.1M378.4,538.9l-1.5,1.7M492.9,520l3.3,1.1M360.2,535.8l-1.5,1.7M501.2,513.8l3.3,1.1M341.9,532.8l-1.5,1.7M338.3,436.8h-2.6M338.3,466.6h-2.6M338.3,496.4h-2.6M338.3,526.2h-2.6" stroke="#3a3a3a" stroke-width=".65" fill="none"/>
<g stroke="#2e2010" stroke-width=".37" stroke-linejoin="round">
<path d="M393.6,489.8L393.6,493.6M393.6,493.6L397.1,494.2M393.6,486.1L393.6,489.8M393.6,482.4L393.6,486.1M391.9,494.8L393.6,493.6M397.1,494.2L400.7,494.7M397.1,483L393.6,482.4M391.9,483.6L393.6,482.4M400.7,494.7L404.3,495.3M400.7,483.6L397.1,483M390.3,496L391.9,494.8M404.3,495.3L407.8,495.9M404.3,484.2L400.7,483.6M390.3,484.9L391.9,483.6M407.8,495.9L411.4,496.5M407.8,484.7L404.3,484.2M388.6,497.3L390.3,496M411.4,496.5L414.9,497.1M411.4,485.3L407.8,484.7M414.9,497.1L418.5,497.7M388.6,486.1L390.3,484.9M414.9,485.9L411.4,485.3M414.9,482.2L414.9,485.9M418.5,497.7L422,498.3M414.9,478.5L414.9,482.2M386.9,498.5L388.6,497.3M414.9,474.8L414.9,478.5" stroke="#000" stroke-width="2.4" stroke-linecap="round" fill="none"/>
<path d="M413.3,487.2L414.9,485.9M414.9,471L414.9,474.8" stroke="#000" stroke-width="2.4" stroke-linecap="round" fill="none"/>
<path d="M422,498.3L425.6,498.9M414.9,467.3L414.9,471" stroke="#000" stroke-width="2.4" stroke-linecap="round" fill="none"/>
<path d="M408,487.8L409.7,486.6L406.1,486L404.5,487.2Z" fill="#fed973"/>
<path d="M386.9,487.3L388.6,486.1" stroke="#000" stroke-width="2.4" stroke-linecap="round" fill="none"/>
<path d="M386.9,494.8L386.9,498.5M414.9,463.6L414.9,467.3" stroke="#000" stroke-width="2.4" stroke-linecap="round" fill="none"/>
<path d="M386.9,498.5L390.5,499.1M386.9,491.1L386.9,494.8M414.9,459.8L414.9,463.6" stroke="#000" stroke-width="2.4" stroke-linecap="round" fill="none"/>
<path d="M425.6,498.9L429.2,499.5" stroke="#000" stroke-width="2.4" stroke-linecap="round" fill="none"/>
<path d="M411.6,488.4L413.3,487.2L409.7,486.6L408,487.8Z" fill="#fed973"/>
<path d="M386.9,487.3L386.9,491.1M414.9,456.1L414.9,459.8" stroke="#000" stroke-width="2.4" stroke-linecap="round" fill="none"/>
<path d="M414.9,452.4L414.9,456.1" stroke="#000" stroke-width="2.4" stroke-linecap="round" fill="none"/>
<path d="M409.9,508.3L411.6,507L411.6,510.8L409.9,512Z" fill="#f4d776"/>
<path d="M429.2,499.5L429.2,495.8" stroke="#000" stroke-width="2.4" stroke-linecap="round" fill="none"/>
<path d="M390.5,499.1L394,499.7M390.5,487.9L386.9,487.3M411.6,488.4L413.3,487.2M414.9,448.7L414.9,452.4" stroke="#000" stroke-width="2.4" stroke-linecap="round" fill="none"/>
<path d="M409.9,504.6L411.6,503.3L411.6,507L409.9,508.3Z" fill="#f4e187"/>
<path d="M429.2,495.8L429.2,492" stroke="#000" stroke-width="2.4" stroke-linecap="round" fill="none"/>
<path d="M414.9,444.9L414.9,448.7" stroke="#000" stroke-width="2.4" stroke-linecap="round" fill="none"/>
<path d="M409.9,500.8L411.6,499.6L411.6,503.3L409.9,504.6Z" fill="#f4d878"/>
<path d="M406.4,489.1L408,487.8L404.5,487.2L402.8,488.5Z" fill="#fed16a"/>
<path d="M429.2,492L429.2,488.3" stroke="#000" stroke-width="2.4" stroke-linecap="round" fill="none"/>
<path d="M418.7,497L420.4,495.8L420.4,499.5L418.7,500.8Z" fill="#f4cd6b"/>
<path d="M414.9,441.2L414.9,444.9M427.5,500.7L429.2,499.5" stroke="#000" stroke-width="2.4" stroke-linecap="round" fill="none"/>
<path d="M429.2,488.3L429.2,484.6" stroke="#000" stroke-width="2.4" stroke-linecap="round" fill="none"/>
<path d="M404.7,508.9L401.2,508.3L401.2,512.1L404.7,512.7Z" fill="#fbe88c"/>
<path d="M418.7,493.3L420.4,492.1L420.4,495.8L418.7,497Z" fill="#f4c865"/>
<path d="M394,499.7L397.6,500.3" stroke="#000" stroke-width="2.4" stroke-linecap="round" fill="none"/>
<path d="M394,488.5L390.5,487.9M414.9,437.5L414.9,441.2" stroke="#000" stroke-width="2.4" stroke-linecap="round" fill="none"/>
<path d="M429.2,484.6L429.2,480.8" stroke="#000" stroke-width="2.4" stroke-linecap="round" fill="none"/>
<path d="M404.7,505.2L401.2,504.6L401.2,508.3L404.7,508.9Z" fill="#fbe382"/>
<path d="M418.7,489.6L420.4,488.4L420.4,492.1L418.7,493.3Z" fill="#f4d979"/>
<path d="M414.9,433.8L414.9,437.5" stroke="#000" stroke-width="2.4" stroke-linecap="round" fill="none"/>
<path d="M409.9,489.6L411.6,488.4L408,487.8L406.4,489.1Z" fill="#fed069"/>
<path d="M429.2,480.8L429.2,477.1" stroke="#000" stroke-width="2.4" stroke-linecap="round" fill="none"/>
<path d="M404.7,501.5L401.2,500.9L401.2,504.6L404.7,505.2Z" fill="#fbe88d"/>
<path d="M408.3,509.5L409.9,508.3L409.9,512L408.3,513.2Z" fill="#f4d676"/>
<path d="M408.3,509.5L404.7,508.9L404.7,512.7L408.3,513.2Z" fill="#fbdd7a"/>
<path d="M429.2,477.1L429.2,473.4M397.6,500.3L401.2,500.9" stroke="#000" stroke-width="2.4" stroke-linecap="round" fill="none"/>
<path d="M404.7,497.7L401.2,497.2L401.2,500.9L404.7,501.5Z" fill="#fbd16b"/>
<path d="M397.6,489.1L394,488.5" stroke="#000" stroke-width="2.4" stroke-linecap="round" fill="none"/>
<path d="M418.5,434.4L414.9,433.8" stroke="#000" stroke-width="2.4" stroke-linecap="round" fill="none"/>
<path d="M409.9,489.6L411.6,488.4" stroke="#000" stroke-width="2.4" stroke-linecap="round" fill="none"/>
<path d="M408.3,505.8L409.9,504.6L409.9,508.3L408.3,509.5Z" fill="#f4dd81"/>
<path d="M408.3,505.8L404.7,505.2L404.7,508.9L408.3,509.5Z" fill="#fbe485"/>
<path d="M429.2,473.4L429.2,469.7" stroke="#000" stroke-width="2.4" stroke-linecap="round" fill="none"/>
<path d="M404.7,494L401.2,493.4L401.2,497.2L404.7,497.7Z" fill="#fbcf68"/>
<path d="M408.3,502.1L409.9,500.8L409.9,504.6L408.3,505.8Z" fill="#f4e187"/>
<path d="M408.3,502.1L404.7,501.5L404.7,505.2L408.3,505.8Z" fill="#fbe88c"/>
<path d="M429.2,469.7L429.2,465.9" stroke="#000" stroke-width="2.4" stroke-linecap="round" fill="none"/>
<path d="M422.3,486.5L423.9,485.2L423.9,488.9L422.3,490.2Z" fill="#f4db7d"/>
<path d="M404.7,490.3L406.4,489.1L402.8,488.5L401.2,489.7Z" fill="#fedb76"/>
<path d="M404.7,490.3L401.2,489.7L401.2,493.4L404.7,494Z" fill="#fbd975"/>
<path d="M413.3,435L414.9,433.8" stroke="#000" stroke-width="2.4" stroke-linecap="round" fill="none"/>
<path d="M417.1,498.3L418.7,497L418.7,500.8L417.1,502Z" fill="#f4d473"/>
<path d="M401.2,500.9L404.7,501.5M425.8,502L427.5,500.7" stroke="#000" stroke-width="2.4" stroke-linecap="round" fill="none"/>
<path d="M416.8,435.6L418.5,434.4L414.9,433.8L413.3,435Z" fill="#fed069"/>
<path d="M408.3,498.3L404.7,497.7L404.7,501.5L408.3,502.1Z" fill="#fbd670"/>
<path d="M429.2,465.9L429.2,462.2" stroke="#000" stroke-width="2.4" stroke-linecap="round" fill="none"/>
<path d="M422.3,482.7L423.9,481.5L423.9,485.2L422.3,486.5Z" fill="#f4ce6c"/>
<path d="M401.2,489.7L397.6,489.1" stroke="#000" stroke-width="2.4" stroke-linecap="round" fill="none"/>
<path d="M422,434.9L418.5,434.4" stroke="#000" stroke-width="2.4" stroke-linecap="round" fill="none"/>
<path d="M417.1,494.6L418.7,493.3L418.7,497L417.1,498.3Z" fill="#f4d979"/>
<path d="M408.3,494.6L404.7,494L404.7,497.7L408.3,498.3Z" fill="#fbdb77"/>
<path d="M429.2,462.2L429.2,458.5" stroke="#000" stroke-width="2.4" stroke-linecap="round" fill="none"/>
<path d="M422.3,479L423.9,477.8L423.9,481.5L422.3,482.7Z" fill="#f4d371"/>
<path d="M417.1,490.8L418.7,489.6L418.7,493.3L417.1,494.6Z" fill="#f4d271"/>
<path d="M408.3,490.9L409.9,489.6L406.4,489.1L404.7,490.3Z" fill="#fee27e"/>
<path d="M408.3,490.9L404.7,490.3L404.7,494L408.3,494.6Z" fill="#fbe07d"/>
<path d="M429.2,458.5L429.2,454.8" stroke="#000" stroke-width="2.4" stroke-linecap="round" fill="none"/>
<path d="M422.3,475.3L423.9,474L423.9,477.8L422.3,479Z" fill="#f4ce6c"/>
<path d="M404.7,501.5L408.3,502.1" stroke="#000" stroke-width="2.4" stroke-linecap="round" fill="none"/>
<path d="M420.4,436.2L422,434.9L418.5,434.4L416.8,435.6Z" fill="#fedc77"/>
<path d="M411.8,498.9L408.3,498.3L408.3,502.1L411.8,502.7Z" fill="#fbd16b"/>
<path d="M404.7,490.3L401.2,489.7M429.2,454.8L429.2,451" stroke="#000" stroke-width="2.4" stroke-linecap="round" fill="none"/>
<path d="M422.3,471.6L423.9,470.3L423.9,474L422.3,475.3Z" fill="#f4d574"/>
<path d="M425.6,435.5L422,434.9" stroke="#000" stroke-width="2.4" stroke-linecap="round" fill="none"/>
<path d="M411.8,495.2L408.3,494.6L408.3,498.3L411.8,498.9Z" fill="#fbd874"/>
<path d="M429.2,451L429.2,447.3" stroke="#000" stroke-width="2.4" stroke-linecap="round" fill="none"/>
<path d="M422.3,467.8L423.9,466.6L423.9,470.3L422.3,471.6Z" fill="#f4d877"/>
<path d="M408.3,490.9L409.9,489.6" stroke="#000" stroke-width="2.4" stroke-linecap="round" fill="none"/>
<path d="M411.8,491.5L408.3,490.9L408.3,494.6L411.8,495.2Z" fill="#fbd873"/>
<path d="M420.6,487.7L422.3,486.5L422.3,490.2L420.6,491.4Z" fill="#f4db7c"/>
<path d="M411.6,436.2L413.3,435" stroke="#000" stroke-width="2.4" stroke-linecap="round" fill="none"/>
<path d="M408.3,502.1L411.8,502.7" stroke="#000" stroke-width="2.4" stroke-linecap="round" fill="none"/>
<path d="M423.9,436.8L425.6,435.5L422,434.9L420.4,436.2Z" fill="#fed169"/>
<path d="M415.4,499.5L417.1,498.3L417.1,502L415.4,503.2Z" fill="#f4c965"/>
<path d="M415.4,499.5L411.8,498.9L411.8,502.7L415.4,503.2Z" fill="#fbcf68"/>
<path d="M408.3,490.9L404.7,490.3" stroke="#000" stroke-width="2.4" stroke-linecap="round" fill="none"/>
<path d="M411.8,487.8L408.3,487.2L408.3,490.9L411.8,491.5Z" fill="#fbdd79"/>
<path d="M429.2,447.3L432.7,447.9" stroke="#000" stroke-width="2.4" stroke-linecap="round" fill="none"/>
<path d="M429.2,436.1L425.6,435.5" stroke="#000" stroke-width="2.4" stroke-linecap="round" fill="none"/>
<path d="M424.2,503.2L425.8,502" stroke="#000" stroke-width="2.4" stroke-linecap="round" fill="none"/>
<path d="M415.2,436.8L416.8,435.6L413.3,435L411.6,436.2Z" fill="#fed670"/>
<path d="M420.6,484L422.3,482.7L422.3,486.5L420.6,487.7Z" fill="#f4dd80"/>
<path d="M415.4,495.8L417.1,494.6L417.1,498.3L415.4,499.5Z" fill="#f4d16f"/>
<path d="M415.4,495.8L411.8,495.2L411.8,498.9L415.4,499.5Z" fill="#fbd873"/>
<path d="M420.6,480.2L422.3,479L422.3,482.7L420.6,484Z" fill="#f4d979"/>
<path d="M427.5,448.5L429.2,447.3M408.3,487.2L408.3,490.9" stroke="#000" stroke-width="2.4" stroke-linecap="round" fill="none"/>
<path d="M415.4,492.1L417.1,490.8L417.1,494.6L415.4,495.8Z" fill="#f4c865"/>
<path d="M415.4,492.1L411.8,491.5L411.8,495.2L415.4,495.8Z" fill="#fbce68"/>
<path d="M425.8,464.7L427.5,463.5L427.5,467.2L425.8,468.4Z" fill="#f4d271"/>
<path d="M420.6,476.5L422.3,475.3L422.3,479L420.6,480.2Z" fill="#f4d676"/>
<path d="M411.8,502.7L415.4,503.2" stroke="#000" stroke-width="2.4" stroke-linecap="round" fill="none"/>
<path d="M427.5,437.4L429.2,436.1L425.6,435.5L423.9,436.8Z" fill="#fda54c"/>
<path d="M408.3,483.4L408.3,487.2" stroke="#000" stroke-width="2.4" stroke-linecap="round" fill="none"/>
<path d="M415.4,488.3L411.8,487.8L411.8,491.5L415.4,492.1Z" fill="#fbde7b"/>
<path d="M432.7,447.9L436.3,448.5" stroke="#000" stroke-width="2.4" stroke-linecap="round" fill="none"/>
<path d="M425.8,461L427.5,459.7L427.5,463.5L425.8,464.7Z" fill="#f4cd6c"/>
<path d="M432.7,436.7L429.2,436.1" stroke="#000" stroke-width="2.4" stroke-linecap="round" fill="none"/>
<path d="M420.6,472.8L422.3,471.6L422.3,475.3L420.6,476.5Z" fill="#f4dd81"/>
<path d="M408.3,479.7L408.3,483.4" stroke="#000" stroke-width="2.4" stroke-linecap="round" fill="none"/>
<path d="M415.4,484.6L411.8,484L411.8,487.8L415.4,488.3Z" fill="#fbde7a"/>
<path d="M425.8,457.2L427.5,456L427.5,459.7L425.8,461Z" fill="#f4d574"/>
<path d="M420.6,469.1L422.3,467.8L422.3,471.6L420.6,472.8Z" fill="#f4cf6d"/>
<path d="M434.6,453.5L436.3,452.2L436.3,455.9L434.6,457.2Z" fill="#f4d575"/>
<path d="M408.3,476L408.3,479.7" stroke="#000" stroke-width="2.4" stroke-linecap="round" fill="none"/>
<path d="M415.4,480.9L411.8,480.3L411.8,484L415.4,484.6Z" fill="#fbd671"/>
<path d="M418.7,430L420.4,428.7L416.8,428.1L415.2,429.4Z" fill="#fee889"/>
<path d="M415.4,503.2L418.9,503.8" stroke="#000" stroke-width="2.4" stroke-linecap="round" fill="none"/>
<path d="M431,438L432.7,436.7L429.2,436.1L427.5,437.4Z" fill="#fa6641"/>
<path d="M418.9,488.9L420.6,487.7L420.6,491.4L418.9,492.7Z" fill="#f4dc7f"/>
<path d="M418.9,488.9L415.4,488.3L415.4,492.1L418.9,492.7Z" fill="#fbe383"/>
<path d="M436.3,448.5L439.8,449.1M408.3,472.3L408.3,476" stroke="#000" stroke-width="2.4" stroke-linecap="round" fill="none"/>
<path d="M415.4,477.2L411.8,476.6L411.8,480.3L415.4,480.9Z" fill="#fbe281"/>
<path d="M409.9,437.5L411.6,436.2M436.3,437.3L432.7,436.7" stroke="#000" stroke-width="2.4" stroke-linecap="round" fill="none"/>
<path d="M411.8,465.4L408.3,464.8L408.3,468.5L411.8,469.1Z" fill="#fbd671"/>
<path d="M422.5,504.4L424.2,503.2" stroke="#000" stroke-width="2.4" stroke-linecap="round" fill="none"/>
<path d="M413.5,438.1L415.2,436.8L411.6,436.2L409.9,437.5Z" fill="#fedd78"/>
<path d="M418.9,485.2L420.6,484L420.6,487.7L418.9,488.9Z" fill="#f4d06e"/>
<path d="M418.9,485.2L415.4,484.6L415.4,488.3L418.9,488.9Z" fill="#fbd772"/>
<path d="M408.3,468.5L408.3,472.3" stroke="#000" stroke-width="2.4" stroke-linecap="round" fill="none"/>
<path d="M415.4,473.4L411.8,472.8L411.8,476.6L415.4,477.2Z" fill="#fbdc78"/>
<path d="M411.8,461.7L408.3,461.1L408.3,464.8L411.8,465.4Z" fill="#fbda76"/>
<path d="M410.2,485.3L411.8,484L411.8,487.8L410.2,489Z" fill="#f4e289"/>
<path d="M410.2,485.3L406.6,484.7L406.6,488.4L410.2,489Z" fill="#fbe98e"/>
<path d="M418.9,481.5L420.6,480.2L420.6,484L418.9,485.2Z" fill="#f4dd81"/>
<path d="M418.9,481.5L415.4,480.9L415.4,484.6L418.9,485.2Z" fill="#fbe485"/>
<path d="M408.3,464.8L408.3,468.5" stroke="#000" stroke-width="2.4" stroke-linecap="round" fill="none"/>
<path d="M415.4,469.7L411.8,469.1L411.8,472.8L415.4,473.4Z" fill="#fbd772"/>
<path d="M411.8,457.9L408.3,457.3L408.3,461.1L411.8,461.7Z" fill="#fbd975"/>
<path d="M425.8,449.8L427.5,448.5" stroke="#000" stroke-width="2.4" stroke-linecap="round" fill="none"/>
<path d="M422.3,430.6L423.9,429.3L420.4,428.7L418.7,430Z" fill="#fee37f"/>
<path d="M410.2,481.5L411.8,480.3L411.8,484L410.2,485.3Z" fill="#f4e289"/>
<path d="M410.2,481.5L406.6,480.9L406.6,484.7L410.2,485.3Z" fill="#fbe98e"/>
<path d="M424.2,465.9L425.8,464.7L425.8,468.4L424.2,469.7Z" fill="#f4dd81"/>
<path d="M418.9,503.8L422.5,504.4" stroke="#000" stroke-width="2.4" stroke-linecap="round" fill="none"/>
<path d="M434.6,438.5L436.3,437.3L432.7,436.7L431,438Z" fill="#fb6e40"/>
<path d="M439.8,449.1L443.4,449.7" stroke="#000" stroke-width="2.4" stroke-linecap="round" fill="none"/>
<path d="M418.9,477.8L420.6,476.5L420.6,480.2L418.9,481.5Z" fill="#f4d271"/>
<path d="M418.9,477.8L415.4,477.2L415.4,480.9L418.9,481.5Z" fill="#fbd975"/>
<path d="M439.8,437.9L436.3,437.3M408.3,461.1L408.3,464.8" stroke="#000" stroke-width="2.4" stroke-linecap="round" fill="none"/>
<path d="M415.4,466L411.8,465.4L411.8,469.1L415.4,469.7Z" fill="#fbe484"/>
<path d="M411.8,454.2L408.3,453.6L408.3,457.3L411.8,457.9Z" fill="#fbdd7a"/>
<path d="M410.2,477.8L411.8,476.6L411.8,480.3L410.2,481.5Z" fill="#f4e289"/>
<path d="M410.2,477.8L406.6,477.2L406.6,480.9L410.2,481.5Z" fill="#fbe98e"/>
<path d="M424.2,462.2L425.8,461L425.8,464.7L424.2,465.9Z" fill="#f4da7a"/>
<path d="M418.9,474L420.6,472.8L420.6,476.5L418.9,477.8Z" fill="#f4de83"/>
<path d="M418.9,474L415.4,473.4L415.4,477.2L418.9,477.8Z" fill="#fbe587"/>
<path d="M408.3,457.3L408.3,461.1" stroke="#000" stroke-width="2.4" stroke-linecap="round" fill="none"/>
<path d="M415.4,462.3L411.8,461.7L411.8,465.4L415.4,466Z" fill="#fa9946"/>
<path d="M411.8,450.5L408.3,449.9L408.3,453.6L411.8,454.2Z" fill="#fbdd7a"/>
<path d="M410.2,474.1L411.8,472.8L411.8,476.6L410.2,477.8Z" fill="#f4e289"/>
<path d="M410.2,474.1L406.6,473.5L406.6,477.2L410.2,477.8Z" fill="#fbe98e"/>
<path d="M424.2,458.5L425.8,457.2L425.8,461L424.2,462.2Z" fill="#f4d473"/>
<path d="M422.5,504.4L422.5,500.7" stroke="#000" stroke-width="2.4" stroke-linecap="round" fill="none"/>
<path d="M418.9,470.3L420.6,469.1L420.6,472.8L418.9,474Z" fill="#f4d777"/>
<path d="M418.9,470.3L415.4,469.7L415.4,473.4L418.9,474Z" fill="#fbde7b"/>
<path d="M432.9,454.7L434.6,453.5L434.6,457.2L432.9,458.4Z" fill="#f4d878"/>
<path d="M408.3,453.6L408.3,457.3" stroke="#000" stroke-width="2.4" stroke-linecap="round" fill="none"/>
<path d="M415.4,458.5L411.8,457.9L411.8,461.7L415.4,462.3Z" fill="#fa9244"/>
<path d="M411.8,446.8L408.3,446.2L408.3,449.9L411.8,450.5Z" fill="#fbcd66"/>
<path d="M425.8,431.1L427.5,429.9L423.9,429.3L422.3,430.6Z" fill="#fee98c"/>
<path d="M441.7,450.9L443.4,449.7L443.4,453.4L441.7,454.6Z" fill="#f4de82"/>
<path d="M410.2,470.4L411.8,469.1L408.3,468.5L406.6,469.8Z" fill="#feeb8f"/>
<path d="M410.2,470.4L411.8,469.1L411.8,472.8L410.2,474.1Z" fill="#f4e289"/>
<path d="M410.2,470.4L406.6,469.8L406.6,473.5L410.2,474.1Z" fill="#fbe98e"/>
<path d="M438.2,439.1L439.8,437.9L436.3,437.3L434.6,438.5Z" fill="#f95d42"/>
<path d="M422.5,500.7L422.5,497" stroke="#000" stroke-width="2.4" stroke-linecap="round" fill="none"/>
<path d="M443.4,449.7L446.9,450.3" stroke="#000" stroke-width="2.4" stroke-linecap="round" fill="none"/>
<path d="M417.1,431.2L418.7,430L415.2,429.4L413.5,430.6Z" fill="#fee584"/>
<path d="M443.4,438.5L439.8,437.9" stroke="#000" stroke-width="2.4" stroke-linecap="round" fill="none"/>
<path d="M418.9,466.6L415.4,466L415.4,469.7L418.9,470.3Z" fill="#fbe17f"/>
<path d="M408.3,449.9L408.3,453.6" stroke="#000" stroke-width="2.4" stroke-linecap="round" fill="none"/>
<path d="M415.4,454.8L411.8,454.2L411.8,457.9L415.4,458.5Z" fill="#fa8941"/>
<path d="M411.8,443L408.3,442.4L408.3,446.2L411.8,446.8Z" fill="#fbde7b"/>
<path d="M408.3,438.7L409.9,437.5" stroke="#000" stroke-width="2.4" stroke-linecap="round" fill="none"/>
<path d="M422.5,497L422.5,493.3" stroke="#000" stroke-width="2.4" stroke-linecap="round" fill="none"/>
<path d="M418.9,462.8L415.4,462.3L415.4,466L418.9,466.6Z" fill="#fa9645"/>
<path d="M408.3,446.2L408.3,449.9" stroke="#000" stroke-width="2.4" stroke-linecap="round" fill="none"/>
<path d="M415.4,451.1L411.8,450.5L411.8,454.2L415.4,454.8Z" fill="#fbde7b"/>
<path d="M429.4,435.5L431,434.2L431,438L429.4,439.2Z" fill="#f4d270"/>
<path d="M411.8,439.3L413.5,438.1L409.9,437.5L408.3,438.7Z" fill="#fedb75"/>
<path d="M411.8,439.3L408.3,438.7L408.3,442.4L411.8,443Z" fill="#fbd974"/>
<path d="M422.5,493.3L422.5,489.5" stroke="#000" stroke-width="2.4" stroke-linecap="round" fill="none"/>
<path d="M418.9,459.1L415.4,458.5L415.4,462.3L418.9,462.8Z" fill="#fa9947"/>
<path d="M408.3,442.4L408.3,446.2" stroke="#000" stroke-width="2.4" stroke-linecap="round" fill="none"/>
<path d="M415.4,447.4L411.8,446.8L411.8,450.5L415.4,451.1Z" fill="#fbd46e"/>
<path d="M429.4,431.7L431,430.5L427.5,429.9L425.8,431.1Z" fill="#fedf7a"/>
<path d="M429.4,431.7L431,430.5L431,434.2L429.4,435.5Z" fill="#f4d675"/>
<path d="M441.7,439.7L443.4,438.5L439.8,437.9L438.2,439.1Z" fill="#fb6e40"/>
<path d="M422.5,489.5L422.5,485.8M424.2,451L425.8,449.8M446.9,450.3L450.5,450.9" stroke="#000" stroke-width="2.4" stroke-linecap="round" fill="none"/>
<path d="M420.6,431.8L422.3,430.6L418.7,430L417.1,431.2Z" fill="#fedb75"/>
<path d="M446.9,439.1L443.4,438.5" stroke="#000" stroke-width="2.4" stroke-linecap="round" fill="none"/>
<path d="M422.5,467.2L424.2,465.9L424.2,469.7L422.5,470.9Z" fill="#f4d877"/>
<path d="M422.5,467.2L418.9,466.6L418.9,470.3L422.5,470.9Z" fill="#fbdf7b"/>
<path d="M418.9,455.4L415.4,454.8L415.4,458.5L418.9,459.1Z" fill="#f9823f"/>
<path d="M432.9,439.8L434.6,438.5L431,438L429.4,439.2Z" fill="#fb6b40"/>
<path d="M408.3,438.7L408.3,442.4" stroke="#000" stroke-width="2.4" stroke-linecap="round" fill="none"/>
<path d="M415.4,443.6L411.8,443L411.8,446.8L415.4,447.4Z" fill="#fbd873"/>
<path d="M445.3,447.8L446.9,446.5L446.9,450.3L445.3,451.5Z" fill="#f4d270"/>
<path d="M422.5,485.8L422.5,482.1" stroke="#000" stroke-width="2.4" stroke-linecap="round" fill="none"/>
<path d="M422.5,463.4L424.2,462.2L424.2,465.9L422.5,467.2Z" fill="#f4da7c"/>
<path d="M422.5,463.4L418.9,462.8L418.9,466.6L422.5,467.2Z" fill="#fbe180"/>
<path d="M418.9,451.7L415.4,451.1L415.4,454.8L418.9,455.4Z" fill="#fbdf7c"/>
<path d="M415.4,439.9L411.8,439.3L411.8,443L415.4,443.6Z" fill="#fbcc65"/>
<path d="M445.3,444L446.9,442.8L446.9,446.5L445.3,447.8Z" fill="#f4d878"/>
<path d="M422.5,482.1L422.5,478.3M450.5,450.9L450.5,447.1" stroke="#000" stroke-width="2.4" stroke-linecap="round" fill="none"/>
<path d="M422.5,459.7L424.2,458.5L424.2,462.2L422.5,463.4Z" fill="#f4cf6d"/>
<path d="M422.5,459.7L418.9,459.1L418.9,462.8L422.5,463.4Z" fill="#fbd671"/>
<path d="M418.9,447.9L415.4,447.4L415.4,451.1L418.9,451.7Z" fill="#fbce67"/>
<path d="M411.8,439.3L408.3,438.7" stroke="#000" stroke-width="2.4" stroke-linecap="round" fill="none"/>
<path d="M415.4,436.2L411.8,435.6L411.8,439.3L415.4,439.9Z" fill="#fbe78b"/>
<path d="M431.3,455.9L432.9,454.7L432.9,458.4L431.3,459.7Z" fill="#f4d878"/>
<path d="M445.3,440.3L446.9,439.1L443.4,438.5L441.7,439.7Z" fill="#feda74"/>
<path d="M445.3,440.3L446.9,439.1L446.9,442.8L445.3,444Z" fill="#f4d16f"/>
<path d="M424.2,432.4L425.8,431.1L422.3,430.6L420.6,431.8Z" fill="#fee584"/>
<path d="M422.5,478.3L422.5,474.6M450.5,447.1L450.5,443.4M450.5,439.7L446.9,439.1" stroke="#000" stroke-width="2.4" stroke-linecap="round" fill="none"/>
<path d="M440.1,452.1L441.7,450.9L441.7,454.6L440.1,455.9Z" fill="#f4dd81"/>
<path d="M422.5,456L418.9,455.4L418.9,459.1L422.5,459.7Z" fill="#fbdc78"/>
<path d="M436.5,440.4L438.2,439.1L434.6,438.5L432.9,439.8Z" fill="#fb6d40"/>
<path d="M418.9,444.2L415.4,443.6L415.4,447.4L418.9,447.9Z" fill="#fbdf7c"/>
<path d="M415.4,432.4L417.1,431.2L413.5,430.6L411.8,431.9Z" fill="#fee481"/>
<path d="M415.4,432.4L411.8,431.9L411.8,435.6L415.4,436.2Z" fill="#fbe280"/>
<path d="M422.5,474.6L422.5,470.9M450.5,443.4L450.5,439.7" stroke="#000" stroke-width="2.4" stroke-linecap="round" fill="none"/>
<path d="M422.5,452.3L418.9,451.7L418.9,455.4L422.5,456Z" fill="#fbe687"/>
<path d="M418.9,440.5L415.4,439.9L415.4,443.6L418.9,444.2Z" fill="#fbd06a"/>
<path d="M448.8,452.1L450.5,450.9" stroke="#000" stroke-width="2.4" stroke-linecap="round" fill="none"/>
<path d="M427.7,436.7L429.4,435.5L429.4,439.2L427.7,440.4Z" fill="#f4db7d"/>
<path d="M422.5,470.9L422.5,467.2" stroke="#000" stroke-width="2.4" stroke-linecap="round" fill="none"/>
<path d="M422.5,448.5L418.9,447.9L418.9,451.7L422.5,452.3Z" fill="#faab4f"/>
<path d="M415.4,439.9L411.8,439.3" stroke="#000" stroke-width="2.4" stroke-linecap="round" fill="none"/>
<path d="M418.9,436.8L415.4,436.2L415.4,439.9L418.9,440.5Z" fill="#fbdd79"/>
<path d="M427.7,433L429.4,431.7L425.8,431.1L424.2,432.4Z" fill="#fede79"/>
<path d="M427.7,433L429.4,431.7L429.4,435.5L427.7,436.7Z" fill="#f4d574"/>
<path d="M422.5,467.2L422.5,463.4" stroke="#000" stroke-width="2.4" stroke-linecap="round" fill="none"/>
<path d="M426.1,456.6L422.5,456L422.5,459.7L426.1,460.3Z" fill="#fbe98d"/>
<path d="M440.1,441L441.7,439.7L438.2,439.1L436.5,440.4Z" fill="#fb6c40"/>
<path d="M422.5,444.8L418.9,444.2L418.9,447.9L422.5,448.5Z" fill="#fab856"/>
<path d="M422.5,452.3L424.2,451" stroke="#000" stroke-width="2.4" stroke-linecap="round" fill="none"/>
<path d="M418.9,433L420.6,431.8L417.1,431.2L415.4,432.4Z" fill="#fee482"/>
<path d="M418.9,433L415.4,432.4L415.4,436.2L418.9,436.8Z" fill="#fbe281"/>
<path d="M431.3,441L432.9,439.8L429.4,439.2L427.7,440.4Z" fill="#fb743f"/>
<path d="M422.5,463.4L422.5,459.7" stroke="#000" stroke-width="2.4" stroke-linecap="round" fill="none"/>
<path d="M443.6,449L445.3,447.8L445.3,451.5L443.6,452.7Z" fill="#f4ce6c"/>
<path d="M426.1,452.9L422.5,452.3L422.5,456L426.1,456.6Z" fill="#fbe17f"/>
<path d="M422.5,441.1L418.9,440.5L418.9,444.2L422.5,444.8Z" fill="#fab554"/>
<path d="M448.8,440.9L450.5,439.7M422.5,459.7L422.5,456" stroke="#000" stroke-width="2.4" stroke-linecap="round" fill="none"/>
<path d="M443.6,445.3L445.3,444L445.3,447.8L443.6,449Z" fill="#f4db7d"/>
<path d="M426.1,449.1L422.5,448.5L422.5,452.3L426.1,452.9Z" fill="#f8723e"/>
<path d="M418.9,440.5L415.4,439.9" stroke="#000" stroke-width="2.4" stroke-linecap="round" fill="none"/>
<path d="M422.5,437.4L418.9,436.8L418.9,440.5L422.5,441.1Z" fill="#fbe688"/>
<path d="M422.5,456L422.5,452.3" stroke="#000" stroke-width="2.4" stroke-linecap="round" fill="none"/>
<path d="M429.6,457.2L431.3,455.9L431.3,459.7L429.6,460.9Z" fill="#f4d979"/>
<path d="M429.6,457.2L426.1,456.6L426.1,460.3L429.6,460.9Z" fill="#fbe07d"/>
<path d="M443.6,441.6L445.3,440.3L441.7,439.7L440.1,441Z" fill="#fee788"/>
<path d="M443.6,441.6L445.3,440.3L445.3,444L443.6,445.3Z" fill="#f4de83"/>
<path d="M426.1,445.4L422.5,444.8L422.5,448.5L426.1,449.1Z" fill="#f9793d"/>
<path d="M422.5,433.6L424.2,432.4L420.6,431.8L418.9,433Z" fill="#fee482"/>
<path d="M422.5,433.6L418.9,433L418.9,436.8L422.5,437.4Z" fill="#fbe281"/>
<path d="M438.4,453.4L440.1,452.1L440.1,455.9L438.4,457.1Z" fill="#f4dc7e"/>
<path d="M434.8,441.6L436.5,440.4L432.9,439.8L431.3,441Z" fill="#fb723f"/>
<path d="M429.6,453.4L426.1,452.9L426.1,456.6L429.6,457.2Z" fill="#fbdf7c"/>
<path d="M426.1,441.7L422.5,441.1L422.5,444.8L426.1,445.4Z" fill="#f75c41"/>
<path d="M422.5,452.3L426.1,452.9M447.2,453.3L448.8,452.1" stroke="#000" stroke-width="2.4" stroke-linecap="round" fill="none"/>
<path d="M429.6,449.7L426.1,449.1L426.1,452.9L429.6,453.4Z" fill="#f8703e"/>
<path d="M422.5,441.1L418.9,440.5" stroke="#000" stroke-width="2.4" stroke-linecap="round" fill="none"/>
<path d="M426.1,437.9L427.7,436.7L427.7,440.4L426.1,441.7Z" fill="#f4de83"/>
<path d="M426.1,437.9L422.5,437.4L422.5,441.1L426.1,441.7Z" fill="#fbe587"/>
<path d="M429.6,446L426.1,445.4L426.1,449.1L429.6,449.7Z" fill="#f86040"/>
<path d="M426.1,434.2L427.7,433L424.2,432.4L422.5,433.6Z" fill="#feea8e"/>
<path d="M426.1,434.2L427.7,433L427.7,436.7L426.1,437.9Z" fill="#f4e188"/>
<path d="M426.1,434.2L422.5,433.6L422.5,437.4L426.1,437.9Z" fill="#fbe88d"/>
<path d="M438.4,442.2L440.1,441L436.5,440.4L434.8,441.6Z" fill="#f95f42"/>
<path d="M433.2,454L429.6,453.4L429.6,457.2L433.2,457.8Z" fill="#fbe281"/>
<path d="M429.6,442.3L431.3,441L427.7,440.4L426.1,441.7Z" fill="#fa6341"/>
<path d="M429.6,442.3L426.1,441.7L426.1,445.4L429.6,446Z" fill="#f86240"/>
<path d="M442,450.3L443.6,449L443.6,452.7L442,454Z" fill="#f4d776"/>
<path d="M426.1,452.9L429.6,453.4" stroke="#000" stroke-width="2.4" stroke-linecap="round" fill="none"/>
<path d="M433.2,450.3L429.6,449.7L429.6,453.4L433.2,454Z" fill="#f86040"/>
<path d="M426.1,441.7L422.5,441.1M447.2,442.2L448.8,440.9" stroke="#000" stroke-width="2.4" stroke-linecap="round" fill="none"/>
<path d="M442,446.5L443.6,445.3L443.6,449L442,450.3Z" fill="#f4d270"/>
<path d="M433.2,446.6L429.6,446L429.6,449.7L433.2,450.3Z" fill="#f86a3f"/>
<path d="M442,442.8L443.6,441.6L440.1,441L438.4,442.2Z" fill="#fee380"/>
<path d="M442,442.8L443.6,441.6L443.6,445.3L442,446.5Z" fill="#f4da7b"/>
<path d="M436.7,454.6L438.4,453.4L438.4,457.1L436.7,458.4Z" fill="#f4d777"/>
<path d="M436.7,454.6L433.2,454L433.2,457.8L436.7,458.4Z" fill="#fbde7b"/>
<path d="M433.2,442.9L434.8,441.6L431.3,441L429.6,442.3Z" fill="#fa6341"/>
<path d="M433.2,442.9L429.6,442.3L429.6,446L433.2,446.6Z" fill="#f86240"/>
<path d="M429.6,453.4L433.2,454" stroke="#000" stroke-width="2.4" stroke-linecap="round" fill="none"/>
<path d="M436.7,450.9L433.2,450.3L433.2,454L436.7,454.6Z" fill="#f86340"/>
<path d="M429.6,442.3L426.1,441.7M445.5,454.6L447.2,453.3" stroke="#000" stroke-width="2.4" stroke-linecap="round" fill="none"/>
<path d="M436.7,447.2L433.2,446.6L433.2,450.3L436.7,450.9Z" fill="#f8693f"/>
<path d="M436.7,443.4L438.4,442.2L434.8,441.6L433.2,442.9Z" fill="#fa6840"/>
<path d="M436.7,443.4L433.2,442.9L433.2,446.6L436.7,447.2Z" fill="#f8673f"/>
<path d="M433.2,454L436.7,454.6" stroke="#000" stroke-width="2.4" stroke-linecap="round" fill="none"/>
<path d="M440.3,451.5L442,450.3L442,454L440.3,455.2Z" fill="#f4db7d"/>
<path d="M440.3,451.5L436.7,450.9L436.7,454.6L440.3,455.2Z" fill="#fbe281"/>
<path d="M433.2,442.9L429.6,442.3M445.5,443.4L447.2,442.2" stroke="#000" stroke-width="2.4" stroke-linecap="round" fill="none"/>
<path d="M440.3,447.8L442,446.5L442,450.3L440.3,451.5Z" fill="#f4df84"/>
<path d="M440.3,447.8L436.7,447.2L436.7,450.9L440.3,451.5Z" fill="#fbe688"/>
<path d="M440.3,444L442,442.8L438.4,442.2L436.7,443.4Z" fill="#fee07b"/>
<path d="M440.3,444L442,442.8L442,446.5L440.3,447.8Z" fill="#f4d776"/>
<path d="M440.3,444L436.7,443.4L436.7,447.2L440.3,447.8Z" fill="#fbde7a"/>
<path d="M436.7,454.6L440.3,455.2M436.7,443.4L433.2,442.9M443.8,455.8L445.5,454.6M440.3,455.2L443.8,455.8M440.3,444L436.7,443.4M443.8,444.6L445.5,443.4M443.8,455.8L443.8,452.1M443.8,452.1L443.8,448.4M443.8,444.6L440.3,444M443.8,448.4L443.8,444.6" stroke="#000" stroke-width="2.4" stroke-linecap="round" fill="none"/>
</g>
<text x="456.4" y="561.5" font-size="9.4" text-anchor="start">0</text>
<text x="444.4" y="564.8" font-size="9.4" text-anchor="middle">0</text>
<text x="464.7" y="555.3" font-size="9.4" text-anchor="start">5</text>
<text x="426.2" y="561.8" font-size="9.4" text-anchor="middle">5</text>
<text x="473" y="549.1" font-size="9.4" text-anchor="start">10</text>
<text x="407.9" y="558.7" font-size="9.4" text-anchor="middle">10</text>
<text x="481.3" y="542.9" font-size="9.4" text-anchor="start">15</text>
<text x="389.7" y="555.7" font-size="9.4" text-anchor="middle">15</text>
<text x="489.6" y="536.7" font-size="9.4" text-anchor="start">20</text>
<text x="371.4" y="552.7" font-size="9.4" text-anchor="middle">20</text>
<text x="497.9" y="530.5" font-size="9.4" text-anchor="start">25</text>
<text x="353.2" y="549.6" font-size="9.4" text-anchor="middle">25</text>
<text x="506.2" y="524.3" font-size="9.4" text-anchor="start">30</text>
<text x="334.9" y="546.6" font-size="9.4" text-anchor="middle">30</text>
<text x="333.7" y="440.1" font-size="9.4" text-anchor="end">0</text>
<text x="333.7" y="469.9" font-size="9.4" text-anchor="end">5</text>
<text x="333.7" y="499.7" font-size="9.4" text-anchor="end">10</text>
<text x="333.7" y="529.5" font-size="9.4" text-anchor="end">15</text>
<text x="320.2" y="481.5" font-size="8.9" text-anchor="middle" transform="rotate(-90 320.2 481.5)">Depth/(km)</text>
<text x="386.6" y="569.7" font-size="9.2" text-anchor="middle">Y/(km)</text>
<text x="500.4" y="563.9" font-size="9.2" text-anchor="middle">X/(km)</text>
<rect x="520.4" y="397.5" width="9.3" height="154" fill="url(#cb)"/>
<text x="533.1" y="400.6" font-size="8.8" text-anchor="start">1</text>
<text x="533.1" y="431.4" font-size="8.8" text-anchor="start">0.8</text>
<text x="533.1" y="462.2" font-size="8.8" text-anchor="start">0.6</text>
<text x="533.1" y="493" font-size="8.8" text-anchor="start">0.4</text>
<text x="533.1" y="523.8" font-size="8.8" text-anchor="start">0.2</text>
<text x="533.1" y="554.6" font-size="8.8" text-anchor="start">0</text>
<path d="M529.7,397.5h-1.5M529.7,428.3h-1.5M529.7,459.1h-1.5M529.7,489.9h-1.5M529.7,520.7h-1.5M529.7,551.5h-1.5" stroke="#222" stroke-width=".5" fill="none"/>
<text x="524.4" y="393" font-size="8.9" text-anchor="middle">g/cm<tspan dy="-4.6" font-size="6.6">3</tspan></text>
<text x="295.7" y="396.6" font-size="17.8" text-anchor="start" style="font-weight:400">( f )</text>
<path d="M71.9,603.6L71.9,695.6M71.9,695.6L128.3,737.3M210.5,620.2L210.5,712.2M210.5,712.2L101.7,734.1M89.5,600L89.5,692M89.5,692L145.9,733.7M201.4,613.4L201.4,705.4M201.4,705.4L92.6,727.3M107,596.5L107,688.5M107,688.5L163.4,730.2M192.3,606.7L192.3,698.7M192.3,698.7L83.5,720.6M124.6,593L124.6,685M124.6,685L181,726.7M183.2,600L183.2,692M183.2,692L74.4,713.9M142.1,589.4L142.1,681.4M142.1,681.4L198.5,723.1M174.1,593.3L174.1,685.3M174.1,685.3L65.3,707.2M159.7,585.9L159.7,677.9M159.7,677.9L216.1,719.6M165,586.5L165,678.5M165,678.5L56.2,700.4M54.4,635.8L163.2,613.9M163.2,613.9L219.6,655.6M54.4,664.6L163.2,642.7M163.2,642.7L219.6,684.4M54.4,693.3L163.2,671.4M163.2,671.4L219.6,713.1" stroke="#e4e4e4" stroke-width=".55" fill="none"/>
<path d="M163.2,585.2L163.2,677.2M219.6,626.9L219.6,718.9" stroke="#8a8a8a" stroke-width=".65" fill="none"/>
<path d="M54.4,607.1L54.4,699.1M54.4,607.1L163.2,585.2M163.2,585.2L219.6,626.9M54.4,699.1L163.2,677.2M163.2,677.2L219.6,718.9M54.4,699.1L110.8,740.8M110.8,740.8L219.6,718.9M110.8,740.8l1.6,1.8M110.8,740.8l-3.2,1.2M128.3,737.3l1.6,1.8M101.7,734.1l-3.2,1.2M145.9,733.7l1.6,1.8M92.6,727.3l-3.2,1.2M163.4,730.2l1.6,1.8M83.5,720.6l-3.2,1.2M181,726.7l1.6,1.8M74.4,713.9l-3.2,1.2M198.5,723.1l1.6,1.8M65.3,707.2l-3.2,1.2M216.1,719.6l1.6,1.8M56.2,700.4l-3.2,1.2M54.4,607.1h-2.6M54.4,635.8h-2.6M54.4,664.6h-2.6M54.4,693.3h-2.6" stroke="#3a3a3a" stroke-width=".65" fill="none"/>
<g stroke="#2e2010" stroke-width=".37" stroke-linejoin="round">
<path d="M166.9,651.4L166.9,655M166.9,655L163.2,655.7M166.9,647.8L166.9,651.4M166.9,644.2L166.9,647.8M168.8,656.4L166.9,655M163.2,655.7L159.5,656.4M163.2,644.9L166.9,644.2" stroke="#000" stroke-width="2.4" stroke-linecap="round" fill="none"/>
<path d="M168.8,645.6L166.9,644.2" stroke="#000" stroke-width="2.4" stroke-linecap="round" fill="none"/>
<path d="M165.1,646.3L168.8,645.6L166.9,644.2L163.2,644.9Z" fill="#fd9044"/>
<path d="M159.5,656.4L155.9,657.2M159.5,645.7L163.2,644.9" stroke="#000" stroke-width="2.4" stroke-linecap="round" fill="none"/>
<path d="M170.7,657.8L168.8,656.4" stroke="#000" stroke-width="2.4" stroke-linecap="round" fill="none"/>
<path d="M161.4,647.1L165.1,646.3L163.2,644.9L159.5,645.7Z" fill="#fc8641"/>
<path d="M155.9,657.2L152.2,657.9" stroke="#000" stroke-width="2.4" stroke-linecap="round" fill="none"/>
<path d="M155.9,646.4L159.5,645.7" stroke="#000" stroke-width="2.4" stroke-linecap="round" fill="none"/>
<path d="M170.7,647L168.8,645.6" stroke="#000" stroke-width="2.4" stroke-linecap="round" fill="none"/>
<path d="M167,647.8L170.7,647L168.8,645.6L165.1,646.3Z" fill="#fd9d48"/>
<path d="M157.8,647.8L161.4,647.1L159.5,645.7L155.9,646.4Z" fill="#fc8541"/>
<path d="M152.2,657.9L148.5,658.7" stroke="#000" stroke-width="2.4" stroke-linecap="round" fill="none"/>
<path d="M152.2,647.1L155.9,646.4" stroke="#000" stroke-width="2.4" stroke-linecap="round" fill="none"/>
<path d="M172.6,659.2L170.7,657.8" stroke="#000" stroke-width="2.4" stroke-linecap="round" fill="none"/>
<path d="M163.3,648.5L167,647.8L165.1,646.3L161.4,647.1Z" fill="#fc8741"/>
<path d="M154.1,648.6L157.8,647.8L155.9,646.4L152.2,647.1Z" fill="#fc803f"/>
<path d="M148.5,658.7L144.9,659.4" stroke="#000" stroke-width="2.4" stroke-linecap="round" fill="none"/>
<path d="M148.5,647.9L152.2,647.1" stroke="#000" stroke-width="2.4" stroke-linecap="round" fill="none"/>
<path d="M172.6,648.4L170.7,647" stroke="#000" stroke-width="2.4" stroke-linecap="round" fill="none"/>
<path d="M168.9,649.2L172.6,648.4L170.7,647L167,647.8Z" fill="#fd9345"/>
<path d="M159.7,649.2L163.3,648.5L161.4,647.1L157.8,647.8Z" fill="#fc8641"/>
<path d="M150.4,649.3L154.1,648.6L152.2,647.1L148.5,647.9Z" fill="#fb6c40"/>
<path d="M144.9,659.4L141.2,660.1" stroke="#000" stroke-width="2.4" stroke-linecap="round" fill="none"/>
<path d="M144.9,648.6L148.5,647.9" stroke="#000" stroke-width="2.4" stroke-linecap="round" fill="none"/>
<path d="M170.8,665L174.5,664.2L174.5,667.8L170.8,668.5Z" fill="#f4f8a8"/>
<path d="M170.8,665L168.9,663.5L168.9,667.1L170.8,668.5Z" fill="#ecf0a3"/>
<path d="M174.5,660.6L172.6,659.2" stroke="#000" stroke-width="2.4" stroke-linecap="round" fill="none"/>
<path d="M170.8,661.4L174.5,660.6L174.5,664.2L170.8,665Z" fill="#fbed94"/>
<path d="M161.6,661.4L165.3,660.7L165.3,664.3L161.6,665Z" fill="#fbf19c"/>
<path d="M152.3,661.5L150.4,660.1L150.4,663.7L152.3,665.1Z" fill="#f3f1aa"/>
<path d="M165.3,649.9L168.9,649.2L167,647.8L163.3,648.5Z" fill="#fd8d43"/>
<path d="M156,650L159.7,649.2L157.8,647.8L154.1,648.6Z" fill="#fc7b3e"/>
<path d="M144.9,645L144.9,648.6" stroke="#000" stroke-width="2.4" stroke-linecap="round" fill="none"/>
<path d="M146.8,650L150.4,649.3L148.5,647.9L144.9,648.6Z" fill="#f96041"/>
<path d="M170.8,657.8L174.5,657L174.5,660.6L170.8,661.4Z" fill="#fbce67"/>
<path d="M141.2,660.1L137.5,660.9" stroke="#000" stroke-width="2.4" stroke-linecap="round" fill="none"/>
<path d="M144.9,641.4L144.9,645" stroke="#000" stroke-width="2.4" stroke-linecap="round" fill="none"/>
<path d="M170.8,654.2L174.5,653.4L174.5,657L170.8,657.8Z" fill="#fab352"/>
<path d="M174.5,649.8L172.6,648.4" stroke="#000" stroke-width="2.4" stroke-linecap="round" fill="none"/>
<path d="M174.5,657L174.5,660.6" stroke="#000" stroke-width="2.4" stroke-linecap="round" fill="none"/>
<path d="M144.9,637.8L144.9,641.4" stroke="#000" stroke-width="2.4" stroke-linecap="round" fill="none"/>
<path d="M167.2,662.1L170.8,661.4L170.8,665L167.2,665.7Z" fill="#fbf09a"/>
<path d="M167.2,662.1L165.3,660.7L165.3,664.3L167.2,665.7Z" fill="#f4e896"/>
<path d="M146.8,650L144.9,648.6" stroke="#000" stroke-width="2.4" stroke-linecap="round" fill="none"/>
<path d="M170.8,650.6L174.5,649.8L172.6,648.4L168.9,649.2Z" fill="#fd8f44"/>
<path d="M170.8,650.6L174.5,649.8L174.5,653.4L170.8,654.2Z" fill="#fa8e43"/>
<path d="M161.6,650.6L165.3,649.9L163.3,648.5L159.7,649.2Z" fill="#fc8140"/>
<path d="M174.5,660.6L170.8,661.4" stroke="#000" stroke-width="2.4" stroke-linecap="round" fill="none"/>
<path d="M152.3,650.7L156,650L154.1,648.6L150.4,649.3Z" fill="#fa6641"/>
<path d="M174.5,653.4L174.5,657" stroke="#000" stroke-width="2.4" stroke-linecap="round" fill="none"/>
<path d="M144.9,634.2L144.9,637.8" stroke="#000" stroke-width="2.4" stroke-linecap="round" fill="none"/>
<path d="M167.2,658.5L170.8,657.8L170.8,661.4L167.2,662.1Z" fill="#fbc963"/>
<path d="M137.5,660.9L133.9,661.6" stroke="#000" stroke-width="2.4" stroke-linecap="round" fill="none"/>
<path d="M139.4,658.7L137.5,657.3L137.5,660.9L139.4,662.3Z" fill="#f38640"/>
<path d="M174.5,649.8L174.5,653.4" stroke="#000" stroke-width="2.4" stroke-linecap="round" fill="none"/>
<path d="M144.9,630.6L144.9,634.2" stroke="#000" stroke-width="2.4" stroke-linecap="round" fill="none"/>
<path d="M167.2,654.9L170.8,654.2L170.8,657.8L167.2,658.5Z" fill="#fab252"/>
<path d="M139.4,655.1L137.5,653.7L137.5,657.3L139.4,658.7Z" fill="#f38640"/>
<path d="M144.9,627.1L144.9,630.6" stroke="#000" stroke-width="2.4" stroke-linecap="round" fill="none"/>
<path d="M154.3,662.9L152.3,661.5L152.3,665.1L154.3,666.5Z" fill="#f3f1aa"/>
<path d="M167.2,651.3L170.8,650.6L168.9,649.2L165.3,649.9Z" fill="#fc8140"/>
<path d="M167.2,651.3L170.8,650.6L170.8,654.2L167.2,654.9Z" fill="#f9803f"/>
<path d="M157.9,651.4L161.6,650.6L159.7,649.2L156,650Z" fill="#fc7e3f"/>
<path d="M170.8,661.4L167.2,662.1" stroke="#000" stroke-width="2.4" stroke-linecap="round" fill="none"/>
<path d="M148.7,651.4L152.3,650.7L150.4,649.3L146.8,650Z" fill="#fa6441"/>
<path d="M170.8,650.6L174.5,649.8" stroke="#000" stroke-width="2.4" stroke-linecap="round" fill="none"/>
<path d="M139.4,651.5L137.5,650.1L137.5,653.7L139.4,655.1Z" fill="#f27c3d"/>
<path d="M163.5,659.2L167.2,658.5L167.2,662.1L163.5,662.8Z" fill="#fbc963"/>
<path d="M133.9,661.6L130.2,662.4" stroke="#000" stroke-width="2.4" stroke-linecap="round" fill="none"/>
<path d="M139.4,647.9L137.5,646.5L137.5,650.1L139.4,651.5Z" fill="#e43a4d"/>
<path d="M141.2,627.8L144.9,627.1" stroke="#000" stroke-width="2.4" stroke-linecap="round" fill="none"/>
<path d="M163.5,655.6L167.2,654.9L167.2,658.5L163.5,659.2Z" fill="#faa74d"/>
<path d="M148.7,651.4L146.8,650" stroke="#000" stroke-width="2.4" stroke-linecap="round" fill="none"/>
<path d="M159.8,663.6L163.5,662.8L163.5,666.4L159.8,667.2Z" fill="#fbed94"/>
<path d="M139.4,644.3L137.5,642.9L137.5,646.5L139.4,647.9Z" fill="#de2f4f"/>
<path d="M163.5,652.1L167.2,651.3L165.3,649.9L161.6,650.6Z" fill="#fc8040"/>
<path d="M163.5,652.1L167.2,651.3L167.2,654.9L163.5,655.6Z" fill="#f97f3f"/>
<path d="M154.3,652.1L157.9,651.4L156,650L152.3,650.7Z" fill="#fa6741"/>
<path d="M130.2,662.4L130.2,658.8M146.8,628.5L144.9,627.1M167.2,662.1L163.5,662.8" stroke="#000" stroke-width="2.4" stroke-linecap="round" fill="none"/>
<path d="M167.2,651.3L170.8,650.6" stroke="#000" stroke-width="2.4" stroke-linecap="round" fill="none"/>
<path d="M159.8,660L163.5,659.2L163.5,662.8L159.8,663.6Z" fill="#fab655"/>
<path d="M139.4,640.7L137.5,639.3L137.5,642.9L139.4,644.3Z" fill="#e1344e"/>
<path d="M143.1,629.2L146.8,628.5L144.9,627.1L141.2,627.8Z" fill="#ea3651"/>
<path d="M141.3,660.1L139.4,658.7L139.4,662.3L141.3,663.7Z" fill="#f39343"/>
<path d="M130.2,658.8L130.2,655.2" stroke="#000" stroke-width="2.4" stroke-linecap="round" fill="none"/>
<path d="M137.5,628.5L141.2,627.8" stroke="#000" stroke-width="2.4" stroke-linecap="round" fill="none"/>
<path d="M159.8,656.4L163.5,655.6L163.5,659.2L159.8,660Z" fill="#fa9344"/>
<path d="M141.3,656.5L139.4,655.1L139.4,658.7L141.3,660.1Z" fill="#f2803e"/>
<path d="M130.2,655.2L130.2,651.6" stroke="#000" stroke-width="2.4" stroke-linecap="round" fill="none"/>
<path d="M132.1,663.8L130.2,662.4" stroke="#000" stroke-width="2.4" stroke-linecap="round" fill="none"/>
<path d="M156.2,664.3L159.8,663.6L159.8,667.2L156.2,667.9Z" fill="#faf8ae"/>
<path d="M156.2,664.3L154.3,662.9L154.3,666.5L156.2,667.9Z" fill="#f3f0a9"/>
<path d="M159.8,652.8L163.5,652.1L161.6,650.6L157.9,651.4Z" fill="#fb6e40"/>
<path d="M159.8,652.8L163.5,652.1L163.5,655.6L159.8,656.4Z" fill="#f86d3f"/>
<path d="M150.6,652.9L154.3,652.1L152.3,650.7L148.7,651.4Z" fill="#f95b42"/>
<path d="M163.5,662.8L159.8,663.6" stroke="#000" stroke-width="2.4" stroke-linecap="round" fill="none"/>
<path d="M141.3,652.9L139.4,651.5L139.4,655.1L141.3,656.5Z" fill="#f2813e"/>
<path d="M130.2,651.6L130.2,648M163.5,652.1L167.2,651.3" stroke="#000" stroke-width="2.4" stroke-linecap="round" fill="none"/>
<path d="M156.2,660.7L159.8,660L159.8,663.6L156.2,664.3Z" fill="#faba58"/>
<path d="M139.4,629.9L143.1,629.2L141.2,627.8L137.5,628.5Z" fill="#ef3c50"/>
<path d="M141.3,649.3L139.4,647.9L139.4,651.5L141.3,652.9Z" fill="#e4384e"/>
<path d="M130.2,648L130.2,644.4" stroke="#000" stroke-width="2.4" stroke-linecap="round" fill="none"/>
<path d="M133.9,629.3L137.5,628.5" stroke="#000" stroke-width="2.4" stroke-linecap="round" fill="none"/>
<path d="M156.2,657.1L159.8,656.4L159.8,660L156.2,660.7Z" fill="#fa9143"/>
<path d="M150.6,652.9L148.7,651.4" stroke="#000" stroke-width="2.4" stroke-linecap="round" fill="none"/>
<path d="M141.3,645.7L139.4,644.3L139.4,647.9L141.3,649.3Z" fill="#e3374e"/>
<path d="M130.2,644.4L130.2,640.8" stroke="#000" stroke-width="2.4" stroke-linecap="round" fill="none"/>
<path d="M132.1,645.8L130.2,644.4L130.2,648L132.1,649.4Z" fill="#f3eea3"/>
<path d="M156.2,653.5L159.8,652.8L157.9,651.4L154.3,652.1Z" fill="#fa6741"/>
<path d="M156.2,653.5L159.8,652.8L159.8,656.4L156.2,657.1Z" fill="#f86640"/>
<path d="M148.7,629.9L146.8,628.5" stroke="#000" stroke-width="2.4" stroke-linecap="round" fill="none"/>
<path d="M159.8,663.6L156.2,664.3M159.8,652.8L163.5,652.1" stroke="#000" stroke-width="2.4" stroke-linecap="round" fill="none"/>
<path d="M141.3,642.1L139.4,640.7L139.4,644.3L141.3,645.7Z" fill="#e43a4d"/>
<path d="M152.5,661.5L156.2,660.7L156.2,664.3L152.5,665Z" fill="#fab051"/>
<path d="M132.1,642.2L130.2,640.8L130.2,644.4L132.1,645.8Z" fill="#f3f2ad"/>
<path d="M145,630.6L148.7,629.9L146.8,628.5L143.1,629.2Z" fill="#e73252"/>
<path d="M143.3,661.5L141.3,660.1L141.3,663.7L143.3,665.1Z" fill="#f38740"/>
<path d="M135.8,630.7L139.4,629.9L137.5,628.5L133.9,629.3Z" fill="#f03e50"/>
<path d="M130.2,640.8L126.5,641.5" stroke="#000" stroke-width="2.4" stroke-linecap="round" fill="none"/>
<path d="M130.2,630L133.9,629.3" stroke="#000" stroke-width="2.4" stroke-linecap="round" fill="none"/>
<path d="M152.5,657.9L156.2,657.1L156.2,660.7L152.5,661.5Z" fill="#f9823f"/>
<path d="M143.3,657.9L141.3,656.5L141.3,660.1L143.3,661.5Z" fill="#f27f3e"/>
<path d="M134,665.2L132.1,663.8" stroke="#000" stroke-width="2.4" stroke-linecap="round" fill="none"/>
<path d="M152.5,654.3L156.2,653.5L154.3,652.1L150.6,652.9Z" fill="#f85844"/>
<path d="M152.5,654.3L156.2,653.5L156.2,657.1L152.5,657.9Z" fill="#f65743"/>
<path d="M132.1,642.2L130.2,640.8" stroke="#000" stroke-width="2.4" stroke-linecap="round" fill="none"/>
<path d="M143.3,654.3L141.3,652.9L141.3,656.5L143.3,657.9Z" fill="#f2823f"/>
<path d="M156.2,664.3L152.5,665" stroke="#000" stroke-width="2.4" stroke-linecap="round" fill="none"/>
<path d="M156.2,653.5L159.8,652.8" stroke="#000" stroke-width="2.4" stroke-linecap="round" fill="none"/>
<path d="M148.8,662.2L152.5,661.5L152.5,665L148.8,665.8Z" fill="#fa8d42"/>
<path d="M141.3,631.4L145,630.6L143.1,629.2L139.4,629.9Z" fill="#eb3751"/>
<path d="M132.1,631.4L135.8,630.7L133.9,629.3L130.2,630Z" fill="#ee3c50"/>
<path d="M143.3,650.7L141.3,649.3L141.3,652.9L143.3,654.3Z" fill="#e3374e"/>
<path d="M126.5,641.5L122.8,642.3" stroke="#000" stroke-width="2.4" stroke-linecap="round" fill="none"/>
<path d="M126.5,630.7L130.2,630" stroke="#000" stroke-width="2.4" stroke-linecap="round" fill="none"/>
<path d="M148.8,658.6L152.5,657.9L152.5,661.5L148.8,662.2Z" fill="#fa8e43"/>
<path d="M152.5,654.3L150.6,652.9" stroke="#000" stroke-width="2.4" stroke-linecap="round" fill="none"/>
<path d="M143.3,647.1L141.3,645.7L141.3,649.3L143.3,650.7Z" fill="#e4384e"/>
<path d="M134,647.2L132.1,645.8L132.1,649.4L134,650.8Z" fill="#f3eea3"/>
<path d="M150.6,631.3L148.7,629.9" stroke="#000" stroke-width="2.4" stroke-linecap="round" fill="none"/>
<path d="M148.8,655L152.5,654.3L152.5,657.9L148.8,658.6Z" fill="#f97d3e"/>
<path d="M152.5,665L148.8,665.8" stroke="#000" stroke-width="2.4" stroke-linecap="round" fill="none"/>
<path d="M143.3,643.6L141.3,642.1L141.3,645.7L143.3,647.1Z" fill="#e4384e"/>
<path d="M152.5,654.3L156.2,653.5" stroke="#000" stroke-width="2.4" stroke-linecap="round" fill="none"/>
<path d="M146.9,632L150.6,631.3L148.7,629.9L145,630.6Z" fill="#e73152"/>
<path d="M145.2,662.9L148.8,662.2L148.8,665.8L145.2,666.5Z" fill="#fa9445"/>
<path d="M137.7,632.1L141.3,631.4L139.4,629.9L135.8,630.7Z" fill="#eb3751"/>
<path d="M148.8,651.4L152.5,650.7L152.5,654.3L148.8,655Z" fill="#ef404e"/>
<path d="M128.4,632.2L132.1,631.4L130.2,630L126.5,630.7Z" fill="#f44a4b"/>
<path d="M122.8,642.3L119.2,643" stroke="#000" stroke-width="2.4" stroke-linecap="round" fill="none"/>
<path d="M122.8,631.5L126.5,630.7" stroke="#000" stroke-width="2.4" stroke-linecap="round" fill="none"/>
<path d="M145.2,659.3L148.8,658.6L148.8,662.2L145.2,662.9Z" fill="#fa8a42"/>
<path d="M148.8,647.8L152.5,647.1L152.5,650.7L148.8,651.4Z" fill="#ec3b4f"/>
<path d="M135.9,666.6L134,665.2" stroke="#000" stroke-width="2.4" stroke-linecap="round" fill="none"/>
<path d="M152.5,650.7L152.5,654.3" stroke="#000" stroke-width="2.4" stroke-linecap="round" fill="none"/>
<path d="M134,643.6L132.1,642.2" stroke="#000" stroke-width="2.4" stroke-linecap="round" fill="none"/>
<path d="M145.2,655.7L148.8,655L148.8,658.6L145.2,659.3Z" fill="#f9813f"/>
<path d="M148.8,644.2L152.5,643.5L152.5,647.1L148.8,647.8Z" fill="#e83450"/>
<path d="M148.8,665.8L145.2,666.5" stroke="#000" stroke-width="2.4" stroke-linecap="round" fill="none"/>
<path d="M143.3,632.8L146.9,632L145,630.6L141.3,631.4Z" fill="#ea3651"/>
<path d="M152.5,647.1L152.5,650.7" stroke="#000" stroke-width="2.4" stroke-linecap="round" fill="none"/>
<path d="M141.5,663.7L145.2,662.9L145.2,666.5L141.5,667.3Z" fill="#fa8d42"/>
<path d="M134,632.8L137.7,632.1L135.8,630.7L132.1,631.4Z" fill="#ea3651"/>
<path d="M145.2,652.2L148.8,651.4L148.8,655L145.2,655.7Z" fill="#ef3f4e"/>
<path d="M124.8,632.9L128.4,632.2L126.5,630.7L122.8,631.5Z" fill="#f2454d"/>
<path d="M148.8,640.6L152.5,639.9L152.5,643.5L148.8,644.2Z" fill="#e43151"/>
<path d="M119.2,643L115.5,643.7" stroke="#000" stroke-width="2.4" stroke-linecap="round" fill="none"/>
<path d="M152.5,643.5L152.5,647.1M119.2,632.2L122.8,631.5" stroke="#000" stroke-width="2.4" stroke-linecap="round" fill="none"/>
<path d="M141.5,660.1L145.2,659.3L145.2,662.9L141.5,663.7Z" fill="#fa9444"/>
<path d="M145.2,648.6L148.8,647.8L148.8,651.4L145.2,652.2Z" fill="#ee3c4f"/>
<path d="M148.8,637L152.5,636.3L152.5,639.9L148.8,640.6Z" fill="#e93650"/>
<path d="M152.5,632.7L150.6,631.3" stroke="#000" stroke-width="2.4" stroke-linecap="round" fill="none"/>
<path d="M152.5,639.9L152.5,643.5" stroke="#000" stroke-width="2.4" stroke-linecap="round" fill="none"/>
<path d="M141.5,656.5L145.2,655.7L145.2,659.3L141.5,660.1Z" fill="#f98540"/>
<path d="M145.2,645L148.8,644.2L148.8,647.8L145.2,648.6Z" fill="#e53151"/>
<path d="M145.2,666.5L141.5,667.3" stroke="#000" stroke-width="2.4" stroke-linecap="round" fill="none"/>
<path d="M148.8,633.4L152.5,632.7L150.6,631.3L146.9,632Z" fill="#ef3c50"/>
<path d="M148.8,633.4L152.5,632.7L152.5,636.3L148.8,637Z" fill="#ed3b4f"/>
<path d="M126.7,645.1L124.8,643.7L124.8,647.3L126.7,648.7Z" fill="#f3eea3"/>
<path d="M139.6,633.5L143.3,632.8L141.3,631.4L137.7,632.1Z" fill="#ee3c50"/>
<path d="M137.8,664.4L141.5,663.7L141.5,667.3L137.8,668Z" fill="#fa9946"/>
<path d="M137.8,664.4L135.9,663L135.9,666.6L137.8,668Z" fill="#f39544"/>
<path d="M130.3,633.6L134,632.8L132.1,631.4L128.4,632.2Z" fill="#f54f48"/>
<path d="M152.5,636.3L152.5,639.9" stroke="#000" stroke-width="2.4" stroke-linecap="round" fill="none"/>
<path d="M141.5,652.9L145.2,652.2L145.2,655.7L141.5,656.5Z" fill="#ee3f4e"/>
<path d="M121.1,633.6L124.8,632.9L122.8,631.5L119.2,632.2Z" fill="#f44b4a"/>
<path d="M145.2,641.4L148.8,640.6L148.8,644.2L145.2,645Z" fill="#ec3a4f"/>
<path d="M115.5,643.7L111.8,644.5" stroke="#000" stroke-width="2.4" stroke-linecap="round" fill="none"/>
<path d="M115.5,633L119.2,632.2" stroke="#000" stroke-width="2.4" stroke-linecap="round" fill="none"/>
<path d="M137.8,660.8L141.5,660.1L141.5,663.7L137.8,664.4Z" fill="#f98640"/>
<path d="M137.8,660.8L135.9,659.4L135.9,663L137.8,664.4Z" fill="#f2823e"/>
<path d="M137.8,668L135.9,666.6" stroke="#000" stroke-width="2.4" stroke-linecap="round" fill="none"/>
<path d="M152.5,632.7L152.5,636.3" stroke="#000" stroke-width="2.4" stroke-linecap="round" fill="none"/>
<path d="M141.5,649.3L145.2,648.6L145.2,652.2L141.5,652.9Z" fill="#ea3850"/>
<path d="M132.2,649.4L130.3,647.9L130.3,651.5L132.2,653Z" fill="#f3f2ad"/>
<path d="M145.2,637.8L148.8,637L148.8,640.6L145.2,641.4Z" fill="#e93650"/>
<path d="M135.9,645L134,643.6" stroke="#000" stroke-width="2.4" stroke-linecap="round" fill="none"/>
<path d="M137.8,657.2L141.5,656.5L141.5,660.1L137.8,660.8Z" fill="#f97b3e"/>
<path d="M137.8,657.2L135.9,655.8L135.9,659.4L137.8,660.8Z" fill="#f2773c"/>
<path d="M141.5,645.7L145.2,645L145.2,648.6L141.5,649.3Z" fill="#e53251"/>
<path d="M141.5,667.3L137.8,668" stroke="#000" stroke-width="2.4" stroke-linecap="round" fill="none"/>
<path d="M145.2,634.2L148.8,633.4L146.9,632L143.3,632.8Z" fill="#e73352"/>
<path d="M145.2,634.2L148.8,633.4L148.8,637L145.2,637.8Z" fill="#e53251"/>
<path d="M135.9,634.2L139.6,633.5L137.7,632.1L134,632.8Z" fill="#e73252"/>
<path d="M111.8,644.5L111.8,640.9" stroke="#000" stroke-width="2.4" stroke-linecap="round" fill="none"/>
<path d="M126.7,634.3L130.3,633.6L128.4,632.2L124.8,632.9Z" fill="#f75545"/>
<path d="M148.8,633.4L152.5,632.7" stroke="#000" stroke-width="2.4" stroke-linecap="round" fill="none"/>
<path d="M137.8,653.6L141.5,652.9L141.5,656.5L137.8,657.2Z" fill="#f0454b"/>
<path d="M137.8,653.6L135.9,652.2L135.9,655.8L137.8,657.2Z" fill="#e84349"/>
<path d="M117.4,634.4L121.1,633.6L119.2,632.2L115.5,633Z" fill="#f95e42"/>
<path d="M141.5,642.1L145.2,641.4L145.2,645L141.5,645.7Z" fill="#ea3850"/>
<path d="M111.8,640.9L111.8,637.3M111.8,633.7L115.5,633" stroke="#000" stroke-width="2.4" stroke-linecap="round" fill="none"/>
<path d="M113.8,642.3L111.8,640.9L111.8,644.5L113.8,645.9Z" fill="#f27c3d"/>
<path d="M137.8,650L141.5,649.3L141.5,652.9L137.8,653.6Z" fill="#eb3850"/>
<path d="M137.8,668L137.8,664.4" stroke="#000" stroke-width="2.4" stroke-linecap="round" fill="none"/>
<path d="M141.5,638.5L145.2,637.8L145.2,641.4L141.5,642.1Z" fill="#e83550"/>
<path d="M111.8,637.3L111.8,633.7" stroke="#000" stroke-width="2.4" stroke-linecap="round" fill="none"/>
<path d="M113.8,638.7L111.8,637.3L111.8,640.9L113.8,642.3Z" fill="#f16b3c"/>
<path d="M113.8,645.9L111.8,644.5" stroke="#000" stroke-width="2.4" stroke-linecap="round" fill="none"/>
<path d="M137.8,646.4L141.5,645.7L141.5,649.3L137.8,650Z" fill="#e73450"/>
<path d="M128.6,646.5L126.7,645.1L126.7,648.7L128.6,650.1Z" fill="#f4eb9d"/>
<path d="M137.8,664.4L137.8,660.8" stroke="#000" stroke-width="2.4" stroke-linecap="round" fill="none"/>
<path d="M141.5,634.9L145.2,634.2L143.3,632.8L139.6,633.5Z" fill="#ea3751"/>
<path d="M141.5,634.9L145.2,634.2L145.2,637.8L141.5,638.5Z" fill="#e83650"/>
<path d="M132.2,635L135.9,634.2L134,632.8L130.3,633.6Z" fill="#f44d49"/>
<path d="M123,635L126.7,634.3L124.8,632.9L121.1,633.6Z" fill="#f54f48"/>
<path d="M145.2,634.2L148.8,633.4" stroke="#000" stroke-width="2.4" stroke-linecap="round" fill="none"/>
<path d="M113.8,635.1L117.4,634.4L115.5,633L111.8,633.7Z" fill="#fa6441"/>
<path d="M113.8,635.1L111.8,633.7L111.8,637.3L113.8,638.7Z" fill="#f0603e"/>
<path d="M137.8,642.8L141.5,642.1L141.5,645.7L137.8,646.4Z" fill="#e63351"/>
<path d="M137.8,660.8L137.8,657.2" stroke="#000" stroke-width="2.4" stroke-linecap="round" fill="none"/>
<path d="M134.2,650.8L137.8,650L137.8,653.6L134.2,654.4Z" fill="#faf9b2"/>
<path d="M134.2,650.8L132.2,649.4L132.2,653L134.2,654.4Z" fill="#f3f2ad"/>
<path d="M137.8,639.3L141.5,638.5L141.5,642.1L137.8,642.8Z" fill="#eb3950"/>
<path d="M137.8,646.4L135.9,645" stroke="#000" stroke-width="2.4" stroke-linecap="round" fill="none"/>
<path d="M137.8,657.2L137.8,653.6" stroke="#000" stroke-width="2.4" stroke-linecap="round" fill="none"/>
<path d="M134.2,647.2L137.8,646.4L137.8,650L134.2,650.8Z" fill="#fbf3a0"/>
<path d="M113.8,635.1L111.8,633.7" stroke="#000" stroke-width="2.4" stroke-linecap="round" fill="none"/>
<path d="M137.8,635.7L141.5,634.9L139.6,633.5L135.9,634.2Z" fill="#e53052"/>
<path d="M137.8,635.7L141.5,634.9L141.5,638.5L137.8,639.3Z" fill="#e33051"/>
<path d="M128.6,635.7L132.2,635L130.3,633.6L126.7,634.3Z" fill="#f65346"/>
<path d="M137.8,653.6L137.8,650" stroke="#000" stroke-width="2.4" stroke-linecap="round" fill="none"/>
<path d="M119.3,635.8L123,635L121.1,633.6L117.4,634.4Z" fill="#f95f42"/>
<path d="M141.5,634.9L145.2,634.2" stroke="#000" stroke-width="2.4" stroke-linecap="round" fill="none"/>
<path d="M134.2,643.6L137.8,642.8L137.8,646.4L134.2,647.2Z" fill="#f86a3f"/>
<path d="M115.7,643.7L113.8,642.3L113.8,645.9L115.7,647.3Z" fill="#f2763c"/>
<path d="M137.8,650L137.8,646.4" stroke="#000" stroke-width="2.4" stroke-linecap="round" fill="none"/>
<path d="M134.2,640L137.8,639.3L137.8,642.8L134.2,643.6Z" fill="#f86240"/>
<path d="M115.7,640.1L113.8,638.7L113.8,642.3L115.7,643.7Z" fill="#f0643d"/>
<path d="M115.7,647.3L113.8,645.9" stroke="#000" stroke-width="2.4" stroke-linecap="round" fill="none"/>
<path d="M130.5,647.9L134.2,647.2L134.2,650.8L130.5,651.5Z" fill="#fbe689"/>
<path d="M130.5,647.9L128.6,646.5L128.6,650.1L130.5,651.5Z" fill="#f4df84"/>
<path d="M134.2,636.4L137.8,635.7L135.9,634.2L132.2,635Z" fill="#f1424e"/>
<path d="M134.2,636.4L137.8,635.7L137.8,639.3L134.2,640Z" fill="#ef414d"/>
<path d="M124.9,636.5L128.6,635.7L126.7,634.3L123,635Z" fill="#f3484c"/>
<path d="M137.8,646.4L134.2,647.2" stroke="#000" stroke-width="2.4" stroke-linecap="round" fill="none"/>
<path d="M115.7,636.5L119.3,635.8L117.4,634.4L113.8,635.1Z" fill="#fa6541"/>
<path d="M115.7,636.5L113.8,635.1L113.8,638.7L115.7,640.1Z" fill="#f0613e"/>
<path d="M137.8,635.7L141.5,634.9" stroke="#000" stroke-width="2.4" stroke-linecap="round" fill="none"/>
<path d="M130.5,644.3L134.2,643.6L134.2,647.2L130.5,647.9Z" fill="#f8723e"/>
<path d="M130.5,640.7L134.2,640L134.2,643.6L130.5,644.3Z" fill="#f75c41"/>
<path d="M115.7,636.5L113.8,635.1" stroke="#000" stroke-width="2.4" stroke-linecap="round" fill="none"/>
<path d="M130.5,637.1L134.2,636.4L132.2,635L128.6,635.7Z" fill="#f2464c"/>
<path d="M130.5,637.1L134.2,636.4L134.2,640L130.5,640.7Z" fill="#f0454b"/>
<path d="M121.2,637.2L124.9,636.5L123,635L119.3,635.8Z" fill="#f85744"/>
<path d="M134.2,647.2L130.5,647.9M134.2,636.4L137.8,635.7" stroke="#000" stroke-width="2.4" stroke-linecap="round" fill="none"/>
<path d="M126.8,645.1L130.5,644.3L130.5,647.9L126.8,648.7Z" fill="#f8703e"/>
<path d="M117.6,645.1L115.7,643.7L115.7,647.3L117.6,648.7Z" fill="#f3853f"/>
<path d="M126.8,641.5L130.5,640.7L130.5,644.3L126.8,645.1Z" fill="#f86c3f"/>
<path d="M117.6,641.5L115.7,640.1L115.7,643.7L117.6,645.1Z" fill="#f0613e"/>
<path d="M117.6,648.7L115.7,647.3" stroke="#000" stroke-width="2.4" stroke-linecap="round" fill="none"/>
<path d="M126.8,637.9L130.5,637.1L128.6,635.7L124.9,636.5Z" fill="#f85844"/>
<path d="M126.8,637.9L130.5,637.1L130.5,640.7L126.8,641.5Z" fill="#f65743"/>
<path d="M117.6,637.9L121.2,637.2L119.3,635.8L115.7,636.5Z" fill="#fa6740"/>
<path d="M117.6,637.9L115.7,636.5L115.7,640.1L117.6,641.5Z" fill="#f0633d"/>
<path d="M130.5,647.9L126.8,648.7M130.5,637.1L134.2,636.4" stroke="#000" stroke-width="2.4" stroke-linecap="round" fill="none"/>
<path d="M123.2,645.8L126.8,645.1L126.8,648.7L123.2,649.4Z" fill="#f9753e"/>
<path d="M123.2,642.2L126.8,641.5L126.8,645.1L123.2,645.8Z" fill="#f8723e"/>
<path d="M117.6,637.9L115.7,636.5" stroke="#000" stroke-width="2.4" stroke-linecap="round" fill="none"/>
<path d="M123.2,638.6L126.8,637.9L124.9,636.5L121.2,637.2Z" fill="#f44c49"/>
<path d="M123.2,638.6L126.8,637.9L126.8,641.5L123.2,642.2Z" fill="#f24b48"/>
<path d="M126.8,648.7L123.2,649.4M126.8,637.9L130.5,637.1" stroke="#000" stroke-width="2.4" stroke-linecap="round" fill="none"/>
<path d="M119.5,646.5L123.2,645.8L123.2,649.4L119.5,650.1Z" fill="#f98540"/>
<path d="M119.5,646.5L117.6,645.1L117.6,648.7L119.5,650.1Z" fill="#f2813e"/>
<path d="M119.5,642.9L123.2,642.2L123.2,645.8L119.5,646.5Z" fill="#f86640"/>
<path d="M119.5,642.9L117.6,641.5L117.6,645.1L119.5,646.5Z" fill="#f0633e"/>
<path d="M119.5,650.1L117.6,648.7" stroke="#000" stroke-width="2.4" stroke-linecap="round" fill="none"/>
<path d="M119.5,639.3L123.2,638.6L121.2,637.2L117.6,637.9Z" fill="#fa6441"/>
<path d="M119.5,639.3L123.2,638.6L123.2,642.2L119.5,642.9Z" fill="#f86340"/>
<path d="M119.5,639.3L117.6,637.9L117.6,641.5L119.5,642.9Z" fill="#f0603e"/>
<path d="M123.2,649.4L119.5,650.1M123.2,638.6L126.8,637.9M119.5,639.3L117.6,637.9M119.5,650.1L119.5,646.5M119.5,646.5L119.5,642.9M119.5,639.3L123.2,638.6M119.5,642.9L119.5,639.3" stroke="#000" stroke-width="2.4" stroke-linecap="round" fill="none"/>
</g>
<text x="118.8" y="753.7" font-size="9.4" text-anchor="middle">0</text>
<text x="103" y="751.9" font-size="9.4" text-anchor="middle">0</text>
<text x="136.3" y="750.2" font-size="9.4" text-anchor="middle">5</text>
<text x="93.9" y="745.2" font-size="9.4" text-anchor="middle">5</text>
<text x="153.9" y="746.6" font-size="9.4" text-anchor="middle">10</text>
<text x="84.8" y="738.4" font-size="9.4" text-anchor="middle">10</text>
<text x="171.4" y="743.1" font-size="9.4" text-anchor="middle">15</text>
<text x="75.7" y="731.7" font-size="9.4" text-anchor="middle">15</text>
<text x="189" y="739.6" font-size="9.4" text-anchor="middle">20</text>
<text x="66.6" y="725" font-size="9.4" text-anchor="middle">20</text>
<text x="206.5" y="736" font-size="9.4" text-anchor="middle">25</text>
<text x="57.5" y="718.3" font-size="9.4" text-anchor="middle">25</text>
<text x="224.1" y="732.5" font-size="9.4" text-anchor="middle">30</text>
<text x="48.4" y="711.5" font-size="9.4" text-anchor="middle">30</text>
<text x="49.8" y="608.8" font-size="9.4" text-anchor="end">0</text>
<text x="49.8" y="637.5" font-size="9.4" text-anchor="end">5</text>
<text x="49.8" y="666.3" font-size="9.4" text-anchor="end">10</text>
<text x="49.8" y="695" font-size="9.4" text-anchor="end">15</text>
<text x="36.9" y="654.6" font-size="8.9" text-anchor="middle" transform="rotate(-90 36.9 654.6)">Depth/(km)</text>
<text x="60.6" y="753.1" font-size="9.2" text-anchor="middle">Y/(km)</text>
<text x="175.7" y="758.4" font-size="9.2" text-anchor="middle">X/(km)</text>
<rect x="236.8" y="586.7" width="9.2" height="154" fill="url(#cb)"/>
<text x="249.4" y="589.8" font-size="8.8" text-anchor="start">1</text>
<text x="249.4" y="620.6" font-size="8.8" text-anchor="start">0.8</text>
<text x="249.4" y="651.4" font-size="8.8" text-anchor="start">0.6</text>
<text x="249.4" y="682.2" font-size="8.8" text-anchor="start">0.4</text>
<text x="249.4" y="713" font-size="8.8" text-anchor="start">0.2</text>
<text x="249.4" y="743.8" font-size="8.8" text-anchor="start">0</text>
<path d="M246,586.7h-1.5M246,617.5h-1.5M246,648.3h-1.5M246,679.1h-1.5M246,709.9h-1.5M246,740.7h-1.5" stroke="#222" stroke-width=".5" fill="none"/>
<text x="240.8" y="582.2" font-size="8.9" text-anchor="middle">g/cm<tspan dy="-4.6" font-size="6.6">3</tspan></text>
<text x="12.3" y="586.8" font-size="17.8" text-anchor="start" style="font-weight:400">( g )</text>
<path d="M346.6,619.2L346.6,715.2M346.6,715.2L459.7,734M484.7,602.8L484.7,698.8M484.7,698.8L433.2,737.2M354.9,613L354.9,709M354.9,709L468,727.8M466.4,599.7L466.4,695.7M466.4,695.7L414.9,734.1M363.2,606.8L363.2,702.8M363.2,702.8L476.3,721.6M448.2,596.7L448.2,692.7M448.2,692.7L396.7,731.1M371.5,600.6L371.5,696.6M371.5,696.6L484.6,715.4M429.9,593.7L429.9,689.7M429.9,689.7L378.4,728.1M379.8,594.4L379.8,690.4M379.8,690.4L492.9,709.2M411.7,590.6L411.7,686.6M411.7,686.6L360.2,725M388.1,588.2L388.1,684.2M388.1,684.2L501.2,703M393.4,587.6L393.4,683.6M393.4,683.6L341.9,722M338.3,655.4L389.8,617M389.8,617L502.9,635.8M338.3,685.4L389.8,647M389.8,647L502.9,665.8M338.3,715.4L389.8,677M389.8,677L502.9,695.8" stroke="#e4e4e4" stroke-width=".55" fill="none"/>
<path d="M389.8,587L389.8,683M502.9,605.8L502.9,701.8" stroke="#8a8a8a" stroke-width=".65" fill="none"/>
<path d="M338.3,625.4L338.3,721.4M338.3,625.4L389.8,587M389.8,587L502.9,605.8M338.3,721.4L389.8,683M389.8,683L502.9,701.8M338.3,721.4L451.4,740.2M451.4,740.2L502.9,701.8M451.4,740.2l3.3,1.1M451.4,740.2l-1.5,1.7M459.7,734l3.3,1.1M433.2,737.2l-1.5,1.7M468,727.8l3.3,1.1M414.9,734.1l-1.5,1.7M476.3,721.6l3.3,1.1M396.7,731.1l-1.5,1.7M484.6,715.4l3.3,1.1M378.4,728.1l-1.5,1.7M492.9,709.2l3.3,1.1M360.2,725l-1.5,1.7M501.2,703l3.3,1.1M341.9,722l-1.5,1.7M338.3,625.4h-2.6M338.3,655.4h-2.6M338.3,685.4h-2.6M338.3,715.4h-2.6" stroke="#3a3a3a" stroke-width=".65" fill="none"/>
<g stroke="#2e2010" stroke-width=".37" stroke-linejoin="round">
<path d="M393.6,679.6L393.6,683.5M393.6,683.5L397.1,684.1M393.6,675.7L393.6,679.6M393.6,671.9L393.6,675.7M391.9,684.7L393.6,683.5M397.1,684.1L400.7,684.7M397.1,672.5L393.6,671.9M391.9,673.1L393.6,671.9M400.7,684.7L404.3,685.2M400.7,673.1L397.1,672.5M390.3,685.9L391.9,684.7M404.3,685.2L407.8,685.8M404.3,673.7L400.7,673.1" stroke="#000" stroke-width="2.4" stroke-linecap="round" fill="none"/>
<path d="M397.4,694.9L399,693.6L399,697.5L397.4,698.7Z" fill="#f4eca0"/>
<path d="M397.4,694.9L393.8,694.3L393.8,698.1L397.4,698.7Z" fill="#fbf4a5"/>
<path d="M397.4,691L393.8,690.4L393.8,694.3L397.4,694.9Z" fill="#fbf09a"/>
<path d="M390.3,674.4L391.9,673.1" stroke="#000" stroke-width="2.4" stroke-linecap="round" fill="none"/>
<path d="M402.6,674.9L404.3,673.7L400.7,673.1L399,674.3Z" fill="#fd9645"/>
<path d="M407.8,685.8L411.4,686.4M407.8,674.2L404.3,673.7" stroke="#000" stroke-width="2.4" stroke-linecap="round" fill="none"/>
<path d="M397.4,687.1L399,685.9L395.5,685.3L393.8,686.5Z" fill="#fdfcb4"/>
<path d="M406.1,675.5L407.8,674.2L404.3,673.7L402.6,674.9Z" fill="#fda04a"/>
<path d="M388.6,687.2L390.3,685.9M411.4,686.4L414.9,687M411.4,674.8L407.8,674.2" stroke="#000" stroke-width="2.4" stroke-linecap="round" fill="none"/>
<path d="M404.5,692.2L406.1,690.9L406.1,694.8L404.5,696Z" fill="#f4e692"/>
<path d="M409.7,676.1L411.4,674.8L407.8,674.2L406.1,675.5Z" fill="#fd9b47"/>
<path d="M414.9,687L418.5,687.6M388.6,675.6L390.3,674.4M414.9,675.4L411.4,674.8" stroke="#000" stroke-width="2.4" stroke-linecap="round" fill="none"/>
<path d="M400.9,676.1L402.6,674.9L399,674.3L397.4,675.5Z" fill="#fda24a"/>
<path d="M395.7,688.4L397.4,687.1L393.8,686.5L392.2,687.8Z" fill="#fef098"/>
<path d="M408,696.6L409.7,695.4L406.1,694.8L404.5,696Z" fill="#fef6a7"/>
<path d="M408,696.6L409.7,695.4L409.7,699.3L408,700.5Z" fill="#f4eca0"/>
<path d="M399.3,696.7L400.9,695.4L400.9,699.3L399.3,700.5Z" fill="#f4e793"/>
<path d="M414.9,671.6L414.9,675.4" stroke="#000" stroke-width="2.4" stroke-linecap="round" fill="none"/>
<path d="M413.3,676.7L414.9,675.4L411.4,674.8L409.7,676.1Z" fill="#fd9144"/>
<path d="M418.5,687.6L422,688.2M414.9,667.7L414.9,671.6" stroke="#000" stroke-width="2.4" stroke-linecap="round" fill="none"/>
<path d="M386.9,688.4L388.6,687.2" stroke="#000" stroke-width="2.4" stroke-linecap="round" fill="none"/>
<path d="M414.9,663.8L414.9,667.7" stroke="#000" stroke-width="2.4" stroke-linecap="round" fill="none"/>
<path d="M413.3,676.7L414.9,675.4" stroke="#000" stroke-width="2.4" stroke-linecap="round" fill="none"/>
<path d="M411.6,693.4L413.3,692.1L413.3,696L411.6,697.2Z" fill="#f3f1ab"/>
<path d="M414.9,660L414.9,663.8" stroke="#000" stroke-width="2.4" stroke-linecap="round" fill="none"/>
<path d="M394,697.3L390.5,696.7L390.5,700.6L394,701.2Z" fill="#faf5a7"/>
<path d="M390.5,685.2L392.2,683.9L392.2,687.8L390.5,689Z" fill="#f4eb9c"/>
<path d="M390.5,685.2L386.9,684.6L386.9,688.4L390.5,689Z" fill="#fbf3a1"/>
<path d="M402.8,693.4L399.3,692.8L399.3,696.7L402.8,697.3Z" fill="#faf7ac"/>
<path d="M422,688.2L425.6,688.8" stroke="#000" stroke-width="2.4" stroke-linecap="round" fill="none"/>
<path d="M414.9,656.1L414.9,660" stroke="#000" stroke-width="2.4" stroke-linecap="round" fill="none"/>
<path d="M394,693.5L390.5,692.9L390.5,696.7L394,697.3Z" fill="#fbf09b"/>
<path d="M404.5,665.1L406.1,663.9L402.6,663.3L400.9,664.5Z" fill="#fedc77"/>
<path d="M404.5,665.1L406.1,663.9L406.1,667.8L404.5,669Z" fill="#f4d372"/>
<path d="M390.5,681.3L386.9,680.7L386.9,684.6L390.5,685.2Z" fill="#fbf19c"/>
<path d="M386.9,676.8L388.6,675.6" stroke="#000" stroke-width="2.4" stroke-linecap="round" fill="none"/>
<path d="M399.3,677.4L400.9,676.1L397.4,675.5L395.7,676.8Z" fill="#fd9a47"/>
<path d="M415.2,697.8L416.8,696.6L413.3,696L411.6,697.2Z" fill="#fef6a5"/>
<path d="M415.2,697.8L411.6,697.2L411.6,701.1L415.2,701.7Z" fill="#fbf4a3"/>
<path d="M414.9,652.3L414.9,656.1" stroke="#000" stroke-width="2.4" stroke-linecap="round" fill="none"/>
<path d="M386.9,684.6L386.9,688.4" stroke="#000" stroke-width="2.4" stroke-linecap="round" fill="none"/>
<path d="M394,689.6L395.7,688.4L392.2,687.8L390.5,689Z" fill="#fdf9ae"/>
<path d="M394,689.6L390.5,689L390.5,692.9L394,693.5Z" fill="#faf7ac"/>
<path d="M390.5,677.4L392.2,676.2L388.6,675.6L386.9,676.8Z" fill="#fef19b"/>
<path d="M390.5,677.4L386.9,676.8L386.9,680.7L390.5,681.3Z" fill="#fbef99"/>
<path d="M406.4,697.9L408,696.6L408,700.5L406.4,701.7Z" fill="#f4e895"/>
<path d="M397.6,697.9L394,697.3L394,701.2L397.6,701.8Z" fill="#fbf29f"/>
<path d="M386.9,688.4L390.5,689M414.9,648.4L414.9,652.3" stroke="#000" stroke-width="2.4" stroke-linecap="round" fill="none"/>
<path d="M408,669.6L409.7,668.4L406.1,667.8L404.5,669Z" fill="#fedf7a"/>
<path d="M386.9,680.7L386.9,684.6" stroke="#000" stroke-width="2.4" stroke-linecap="round" fill="none"/>
<path d="M425.6,688.8L429.2,689.4" stroke="#000" stroke-width="2.4" stroke-linecap="round" fill="none"/>
<path d="M397.6,694.1L399.3,692.8L399.3,696.7L397.6,697.9Z" fill="#f4e895"/>
<path d="M397.6,694.1L394,693.5L394,697.3L397.6,697.9Z" fill="#fbf099"/>
<path d="M414.9,644.5L414.9,648.4M386.9,676.8L386.9,680.7" stroke="#000" stroke-width="2.4" stroke-linecap="round" fill="none"/>
<path d="M394,681.9L390.5,681.3L390.5,685.2L394,685.7Z" fill="#faf5a5"/>
<path d="M423.9,686.2L425.6,684.9L425.6,688.8L423.9,690Z" fill="#f4d473"/>
<path d="M418.7,698.4L420.4,697.2L416.8,696.6L415.2,697.8Z" fill="#fef39f"/>
<path d="M418.7,698.4L420.4,697.2L420.4,701L418.7,702.3Z" fill="#f4e999"/>
<path d="M418.7,698.4L415.2,697.8L415.2,701.7L418.7,702.3Z" fill="#fbf19d"/>
<path d="M397.6,690.2L394,689.6L394,693.5L397.6,694.1Z" fill="#fbf4a3"/>
<path d="M414.9,640.7L414.9,644.5" stroke="#000" stroke-width="2.4" stroke-linecap="round" fill="none"/>
<path d="M394,678L395.7,676.8L392.2,676.2L390.5,677.4Z" fill="#fef29c"/>
<path d="M394,678L390.5,677.4L390.5,681.3L394,681.9Z" fill="#fbf09a"/>
<path d="M423.9,682.3L425.6,681.1L425.6,684.9L423.9,686.2Z" fill="#f4d270"/>
<path d="M429.2,689.4L429.2,685.5" stroke="#000" stroke-width="2.4" stroke-linecap="round" fill="none"/>
<path d="M401.2,698.5L402.8,697.3L399.3,696.7L397.6,697.9Z" fill="#fef199"/>
<path d="M401.2,698.5L397.6,697.9L397.6,701.8L401.2,702.4Z" fill="#fbef97"/>
<path d="M390.5,689L394,689.6" stroke="#000" stroke-width="2.4" stroke-linecap="round" fill="none"/>
<path d="M411.6,670.2L413.3,668.9L409.7,668.4L408,669.6Z" fill="#fee584"/>
<path d="M397.6,686.3L394,685.7L394,689.6L397.6,690.2Z" fill="#fac05c"/>
<path d="M390.5,677.4L386.9,676.8M414.9,636.8L414.9,640.7M411.6,677.9L413.3,676.7" stroke="#000" stroke-width="2.4" stroke-linecap="round" fill="none"/>
<path d="M423.9,678.4L425.6,677.2L425.6,681.1L423.9,682.3Z" fill="#f4cf6d"/>
<path d="M429.2,685.5L429.2,681.7" stroke="#000" stroke-width="2.4" stroke-linecap="round" fill="none"/>
<path d="M418.7,690.7L420.4,689.4L420.4,693.3L418.7,694.5Z" fill="#f4ea9a"/>
<path d="M397.6,682.5L394,681.9L394,685.7L397.6,686.3Z" fill="#fab353"/>
<path d="M414.9,632.9L414.9,636.8" stroke="#000" stroke-width="2.4" stroke-linecap="round" fill="none"/>
<path d="M423.9,674.6L425.6,673.3L425.6,677.2L423.9,678.4Z" fill="#f4c15f"/>
<path d="M402.8,666.4L404.5,665.1L400.9,664.5L399.3,665.8Z" fill="#fee584"/>
<path d="M402.8,666.4L399.3,665.8L399.3,669.6L402.8,670.2Z" fill="#fbe383"/>
<path d="M429.2,681.7L429.2,677.8" stroke="#000" stroke-width="2.4" stroke-linecap="round" fill="none"/>
<path d="M401.2,690.8L397.6,690.2L397.6,694.1L401.2,694.7Z" fill="#fbf19d"/>
<path d="M397.6,678.6L399.3,677.4L395.7,676.8L394,678Z" fill="#fda94e"/>
<path d="M397.6,678.6L394,678L394,681.9L397.6,682.5Z" fill="#faa74d"/>
<path d="M414.9,629.1L414.9,632.9M427.5,690.6L429.2,689.4" stroke="#000" stroke-width="2.4" stroke-linecap="round" fill="none"/>
<path d="M429.2,677.8L429.2,673.9" stroke="#000" stroke-width="2.4" stroke-linecap="round" fill="none"/>
<path d="M404.7,699.1L406.4,697.9L406.4,701.7L404.7,703Z" fill="#f3eea4"/>
<path d="M404.7,699.1L401.2,698.5L401.2,702.4L404.7,703Z" fill="#faf6a9"/>
<path d="M394,689.6L397.6,690.2" stroke="#000" stroke-width="2.4" stroke-linecap="round" fill="none"/>
<path d="M401.2,686.9L397.6,686.3L397.6,690.2L401.2,690.8Z" fill="#fabe5a"/>
<path d="M394,678L390.5,677.4M414.9,625.2L414.9,629.1" stroke="#000" stroke-width="2.4" stroke-linecap="round" fill="none"/>
<path d="M413.5,695.2L409.9,694.6L409.9,698.5L413.5,699Z" fill="#fbf29e"/>
<path d="M429.2,673.9L429.2,670.1" stroke="#000" stroke-width="2.4" stroke-linecap="round" fill="none"/>
<path d="M404.7,695.2L401.2,694.7L401.2,698.5L404.7,699.1Z" fill="#fbec94"/>
<path d="M401.2,683.1L397.6,682.5L397.6,686.3L401.2,686.9Z" fill="#fab554"/>
<path d="M414.9,621.4L414.9,625.2" stroke="#000" stroke-width="2.4" stroke-linecap="round" fill="none"/>
<path d="M406.4,667L408,665.7L404.5,665.1L402.8,666.4Z" fill="#fee583"/>
<path d="M429.2,670.1L429.2,666.2" stroke="#000" stroke-width="2.4" stroke-linecap="round" fill="none"/>
<path d="M422.3,687.4L423.9,686.2L423.9,690L422.3,691.3Z" fill="#f4dd80"/>
<path d="M404.7,691.4L401.2,690.8L401.2,694.7L404.7,695.2Z" fill="#fbf29e"/>
<path d="M401.2,679.2L397.6,678.6L397.6,682.5L401.2,683.1Z" fill="#fa9645"/>
<path d="M427.5,671.3L429.2,670.1L429.2,673.9L427.5,675.2Z" fill="#f4db7c"/>
<path d="M429.2,666.2L429.2,662.3" stroke="#000" stroke-width="2.4" stroke-linecap="round" fill="none"/>
<path d="M422.3,683.5L423.9,682.3L423.9,686.2L422.3,687.4Z" fill="#f4d170"/>
<path d="M397.6,690.2L401.2,690.8" stroke="#000" stroke-width="2.4" stroke-linecap="round" fill="none"/>
<path d="M404.7,687.5L401.2,686.9L401.2,690.8L404.7,691.4Z" fill="#fabf5b"/>
<path d="M397.6,678.6L394,678" stroke="#000" stroke-width="2.4" stroke-linecap="round" fill="none"/>
<path d="M401.2,675.3L397.6,674.7L397.6,678.6L401.2,679.2Z" fill="#fbd36d"/>
<path d="M418.5,621.9L414.9,621.4" stroke="#000" stroke-width="2.4" stroke-linecap="round" fill="none"/>
<path d="M417.1,695.8L418.7,694.5L418.7,698.4L417.1,699.6Z" fill="#f3eea3"/>
<path d="M427.5,667.4L429.2,666.2L429.2,670.1L427.5,671.3Z" fill="#f4cc69"/>
<path d="M409.9,679.1L411.6,677.9" stroke="#000" stroke-width="2.4" stroke-linecap="round" fill="none"/>
<path d="M429.2,662.3L429.2,658.5" stroke="#000" stroke-width="2.4" stroke-linecap="round" fill="none"/>
<path d="M422.3,679.7L423.9,678.4L423.9,682.3L422.3,683.5Z" fill="#f4cc69"/>
<path d="M408.3,695.8L409.9,694.6L409.9,698.5L408.3,699.7Z" fill="#f4e99a"/>
<path d="M408.3,695.8L404.7,695.2L404.7,699.1L408.3,699.7Z" fill="#fbf19e"/>
<path d="M404.7,683.7L401.2,683.1L401.2,686.9L404.7,687.5Z" fill="#faa64d"/>
<path d="M401.2,671.5L402.8,670.2L399.3,669.6L397.6,670.9Z" fill="#fee889"/>
<path d="M401.2,671.5L397.6,670.9L397.6,674.7L401.2,675.3Z" fill="#fbe688"/>
<path d="M417.1,691.9L418.7,690.7L418.7,694.5L417.1,695.8Z" fill="#f3f2ac"/>
<path d="M427.5,663.6L429.2,662.3L429.2,666.2L427.5,667.4Z" fill="#f4ba59"/>
<path d="M409.9,667.6L411.6,666.3L408,665.7L406.4,667Z" fill="#fed36c"/>
<path d="M409.9,667.6L406.4,667L406.4,670.8L409.9,671.4Z" fill="#fbd16b"/>
<path d="M429.2,658.5L429.2,654.6" stroke="#000" stroke-width="2.4" stroke-linecap="round" fill="none"/>
<path d="M422.3,675.8L423.9,674.6L423.9,678.4L422.3,679.7Z" fill="#f4c05e"/>
<path d="M408.3,692L404.7,691.4L404.7,695.2L408.3,695.8Z" fill="#faf6a8"/>
<path d="M413.3,622.6L414.9,621.4" stroke="#000" stroke-width="2.4" stroke-linecap="round" fill="none"/>
<path d="M404.7,679.8L401.2,679.2L401.2,683.1L404.7,683.7Z" fill="#fa9e49"/>
<path d="M427.5,659.7L429.2,658.5L429.2,662.3L427.5,663.6Z" fill="#f4c25f"/>
<path d="M416.8,623.2L418.5,621.9L414.9,621.4L413.3,622.6Z" fill="#e02954"/>
<path d="M411.8,700.3L413.5,699L409.9,698.5L408.3,699.7Z" fill="#fef4a0"/>
<path d="M411.8,700.3L413.5,699L413.5,702.9L411.8,704.2Z" fill="#f4ea9a"/>
<path d="M411.8,700.3L408.3,699.7L408.3,703.6L411.8,704.2Z" fill="#fbf29e"/>
<path d="M401.2,690.8L404.7,691.4M429.2,654.6L429.2,650.8M425.8,691.9L427.5,690.6" stroke="#000" stroke-width="2.4" stroke-linecap="round" fill="none"/>
<path d="M408.3,688.1L404.7,687.5L404.7,691.4L408.3,692Z" fill="#fbc45f"/>
<path d="M401.2,679.2L397.6,678.6" stroke="#000" stroke-width="2.4" stroke-linecap="round" fill="none"/>
<path d="M404.7,675.9L401.2,675.3L401.2,679.2L404.7,679.8Z" fill="#fbde7a"/>
<path d="M422,622.5L418.5,621.9" stroke="#000" stroke-width="2.4" stroke-linecap="round" fill="none"/>
<path d="M427.5,655.9L429.2,654.6L429.2,658.5L427.5,659.7Z" fill="#f3ad50"/>
<path d="M429.2,650.8L429.2,646.9" stroke="#000" stroke-width="2.4" stroke-linecap="round" fill="none"/>
<path d="M408.3,684.2L404.7,683.7L404.7,687.5L408.3,688.1Z" fill="#fab856"/>
<path d="M404.7,672.1L401.2,671.5L401.2,675.3L404.7,675.9Z" fill="#fbe281"/>
<path d="M427.5,652L429.2,650.8L429.2,654.6L427.5,655.9Z" fill="#f3a04a"/>
<path d="M411.8,692.6L408.3,692L408.3,695.8L411.8,696.4Z" fill="#faf5a5"/>
<path d="M429.2,646.9L429.2,643" stroke="#000" stroke-width="2.4" stroke-linecap="round" fill="none"/>
<path d="M408.3,680.4L404.7,679.8L404.7,683.7L408.3,684.2Z" fill="#faa84d"/>
<path d="M404.7,668.2L406.4,667L402.8,666.4L401.2,667.6Z" fill="#fee481"/>
<path d="M404.7,668.2L406.4,667L406.4,670.8L404.7,672.1Z" fill="#f4db7c"/>
<path d="M404.7,668.2L401.2,667.6L401.2,671.5L404.7,672.1Z" fill="#fbe280"/>
<path d="M420.6,688.6L422.3,687.4L422.3,691.3L420.6,692.5Z" fill="#f4dc7f"/>
<path d="M427.5,648.1L429.2,646.9L429.2,650.8L427.5,652Z" fill="#f39343"/>
<path d="M420.4,623.8L422,622.5L418.5,621.9L416.8,623.2Z" fill="#ea3751"/>
<path d="M404.7,691.4L408.3,692" stroke="#000" stroke-width="2.4" stroke-linecap="round" fill="none"/>
<path d="M425.8,672.5L427.5,671.3L427.5,675.2L425.8,676.4Z" fill="#f4de82"/>
<path d="M411.8,688.7L408.3,688.1L408.3,692L411.8,692.6Z" fill="#fbdc79"/>
<path d="M404.7,679.8L401.2,679.2M429.2,643L429.2,639.2" stroke="#000" stroke-width="2.4" stroke-linecap="round" fill="none"/>
<path d="M408.3,676.5L404.7,675.9L404.7,679.8L408.3,680.4Z" fill="#fbe07d"/>
<path d="M425.6,623.1L422,622.5" stroke="#000" stroke-width="2.4" stroke-linecap="round" fill="none"/>
<path d="M420.6,684.8L422.3,683.5L422.3,687.4L420.6,688.6Z" fill="#f4d270"/>
<path d="M427.5,644.3L429.2,643L429.2,646.9L427.5,648.1Z" fill="#f27a3c"/>
<path d="M415.4,697L417.1,695.8L417.1,699.6L415.4,700.9Z" fill="#f3eda2"/>
<path d="M415.4,697L411.8,696.4L411.8,700.3L415.4,700.9Z" fill="#faf5a7"/>
<path d="M425.8,668.7L427.5,667.4L427.5,671.3L425.8,672.5Z" fill="#f4cd6c"/>
<path d="M411.8,684.8L408.3,684.2L408.3,688.1L411.8,688.7Z" fill="#fbd975"/>
<path d="M429.2,639.2L429.2,635.3" stroke="#000" stroke-width="2.4" stroke-linecap="round" fill="none"/>
<path d="M408.3,672.7L409.9,671.4L406.4,670.8L404.7,672.1Z" fill="#fee685"/>
<path d="M408.3,672.7L404.7,672.1L404.7,675.9L408.3,676.5Z" fill="#fbe484"/>
<path d="M408.3,680.4L409.9,679.1" stroke="#000" stroke-width="2.4" stroke-linecap="round" fill="none"/>
<path d="M420.6,680.9L422.3,679.7L422.3,683.5L420.6,684.8Z" fill="#f4c561"/>
<path d="M427.5,640.4L429.2,639.2L429.2,643L427.5,644.3Z" fill="#e63c4d"/>
<path d="M415.4,693.2L417.1,691.9L417.1,695.8L415.4,697Z" fill="#f4ea9c"/>
<path d="M415.4,693.2L411.8,692.6L411.8,696.4L415.4,697Z" fill="#fbf2a0"/>
<path d="M425.8,664.8L427.5,663.6L427.5,667.4L425.8,668.7Z" fill="#f4cc6a"/>
<path d="M411.8,681L408.3,680.4L408.3,684.2L411.8,684.8Z" fill="#fbce67"/>
<path d="M420.6,677.1L422.3,675.8L422.3,679.7L420.6,680.9Z" fill="#f4bf5d"/>
<path d="M411.6,623.8L413.3,622.6" stroke="#000" stroke-width="2.4" stroke-linecap="round" fill="none"/>
<path d="M427.5,636.5L429.2,635.3L429.2,639.2L427.5,640.4Z" fill="#e3364e"/>
<path d="M423.9,624.4L425.6,623.1L422,622.5L420.4,623.8Z" fill="#e02953"/>
<path d="M408.3,692L411.8,692.6" stroke="#000" stroke-width="2.4" stroke-linecap="round" fill="none"/>
<path d="M415.4,689.3L411.8,688.7L411.8,692.6L415.4,693.2Z" fill="#fbda76"/>
<path d="M408.3,680.4L404.7,679.8" stroke="#000" stroke-width="2.4" stroke-linecap="round" fill="none"/>
<path d="M425.8,661L427.5,659.7L427.5,663.6L425.8,664.8Z" fill="#f3b052"/>
<path d="M411.8,677.1L408.3,676.5L408.3,680.4L411.8,681Z" fill="#fabe5b"/>
<path d="M429.2,635.3L432.7,635.9" stroke="#000" stroke-width="2.4" stroke-linecap="round" fill="none"/>
<path d="M429.2,623.7L425.6,623.1" stroke="#000" stroke-width="2.4" stroke-linecap="round" fill="none"/>
<path d="M415.2,624.4L416.8,623.2L413.3,622.6L411.6,623.8Z" fill="#e53052"/>
<path d="M424.2,693.1L425.8,691.9" stroke="#000" stroke-width="2.4" stroke-linecap="round" fill="none"/>
<path d="M415.4,685.4L411.8,684.8L411.8,688.7L415.4,689.3Z" fill="#fbd974"/>
<path d="M425.8,657.1L427.5,655.9L427.5,659.7L425.8,661Z" fill="#f3aa4f"/>
<path d="M411.8,673.3L408.3,672.7L408.3,676.5L411.8,677.1Z" fill="#fab856"/>
<path d="M427.5,636.5L429.2,635.3M408.3,676.5L408.3,680.4" stroke="#000" stroke-width="2.4" stroke-linecap="round" fill="none"/>
<path d="M415.4,681.6L411.8,681L411.8,684.8L415.4,685.4Z" fill="#fbc35f"/>
<path d="M425.8,653.2L427.5,652L427.5,655.9L425.8,657.1Z" fill="#f39544"/>
<path d="M411.8,669.4L408.3,668.8L408.3,672.7L411.8,673.3Z" fill="#faad50"/>
<path d="M427.5,625L429.2,623.7L425.6,623.1L423.9,624.4Z" fill="#df2754"/>
<path d="M411.8,692.6L415.4,693.2" stroke="#000" stroke-width="2.4" stroke-linecap="round" fill="none"/>
<path d="M418.9,689.9L420.6,688.6L420.6,692.5L418.9,693.7Z" fill="#f4d16f"/>
<path d="M418.9,689.9L415.4,689.3L415.4,693.2L418.9,693.7Z" fill="#fbd873"/>
<path d="M408.3,672.7L408.3,676.5" stroke="#000" stroke-width="2.4" stroke-linecap="round" fill="none"/>
<path d="M415.4,677.7L411.8,677.1L411.8,681L415.4,681.6Z" fill="#fbc05c"/>
<path d="M432.7,635.9L436.3,636.5" stroke="#000" stroke-width="2.4" stroke-linecap="round" fill="none"/>
<path d="M425.8,649.4L427.5,648.1L427.5,652L425.8,653.2Z" fill="#f27e3d"/>
<path d="M411.8,665.5L408.3,664.9L408.3,668.8L411.8,669.4Z" fill="#fa9645"/>
<path d="M432.7,624.3L429.2,623.7" stroke="#000" stroke-width="2.4" stroke-linecap="round" fill="none"/>
<path d="M418.7,625L420.4,623.8L416.8,623.2L415.2,624.4Z" fill="#e02854"/>
<path d="M424.2,673.8L425.8,672.5L425.8,676.4L424.2,677.6Z" fill="#f4d06f"/>
<path d="M418.9,686L420.6,684.8L420.6,688.6L418.9,689.9Z" fill="#f4ce6c"/>
<path d="M418.9,686L415.4,685.4L415.4,689.3L418.9,689.9Z" fill="#fbd56f"/>
<path d="M408.3,668.8L408.3,672.7" stroke="#000" stroke-width="2.4" stroke-linecap="round" fill="none"/>
<path d="M415.4,673.8L411.8,673.3L411.8,677.1L415.4,677.7Z" fill="#fab252"/>
<path d="M425.8,645.5L427.5,644.3L427.5,648.1L425.8,649.4Z" fill="#f2823e"/>
<path d="M411.8,661.7L408.3,661.1L408.3,664.9L411.8,665.5Z" fill="#f98340"/>
<path d="M424.2,669.9L425.8,668.7L425.8,672.5L424.2,673.8Z" fill="#f4d371"/>
<path d="M418.9,682.2L420.6,680.9L420.6,684.8L418.9,686Z" fill="#f4be5c"/>
<path d="M418.9,682.2L415.4,681.6L415.4,685.4L418.9,686Z" fill="#fbc45f"/>
<path d="M408.3,664.9L408.3,668.8" stroke="#000" stroke-width="2.4" stroke-linecap="round" fill="none"/>
<path d="M415.4,670L411.8,669.4L411.8,673.3L415.4,673.8Z" fill="#fa9746"/>
<path d="M425.8,641.6L427.5,640.4L427.5,644.3L425.8,645.5Z" fill="#eb4a46"/>
<path d="M411.8,657.8L408.3,657.2L408.3,661.1L411.8,661.7Z" fill="#f9803f"/>
<path d="M424.2,666.1L425.8,664.8L425.8,668.7L424.2,669.9Z" fill="#f4c15e"/>
<path d="M431,625.5L432.7,624.3L429.2,623.7L427.5,625Z" fill="#f3484b"/>
<path d="M415.4,693.2L418.9,693.7" stroke="#000" stroke-width="2.4" stroke-linecap="round" fill="none"/>
<path d="M418.9,678.3L420.6,677.1L420.6,680.9L418.9,682.2Z" fill="#f4c15e"/>
<path d="M418.9,678.3L415.4,677.7L415.4,681.6L418.9,682.2Z" fill="#fbc761"/>
<path d="M436.3,636.5L439.8,637.1M409.9,625.1L411.6,623.8M408.3,661.1L408.3,664.9" stroke="#000" stroke-width="2.4" stroke-linecap="round" fill="none"/>
<path d="M415.4,666.1L411.8,665.5L411.8,669.4L415.4,670Z" fill="#fa9a47"/>
<path d="M436.3,624.9L432.7,624.3" stroke="#000" stroke-width="2.4" stroke-linecap="round" fill="none"/>
<path d="M425.8,637.8L427.5,636.5L427.5,640.4L425.8,641.6Z" fill="#e94449"/>
<path d="M411.8,653.9L408.3,653.3L408.3,657.2L411.8,657.8Z" fill="#f65942"/>
<path d="M422.3,625.6L423.9,624.4L420.4,623.8L418.7,625Z" fill="#e42e53"/>
<path d="M424.2,662.2L425.8,661L425.8,664.8L424.2,666.1Z" fill="#f3af51"/>
<path d="M413.5,625.7L415.2,624.4L411.6,623.8L409.9,625.1Z" fill="#eb3851"/>
<path d="M422.5,694.3L424.2,693.1" stroke="#000" stroke-width="2.4" stroke-linecap="round" fill="none"/>
<path d="M418.9,674.4L415.4,673.8L415.4,677.7L418.9,678.3Z" fill="#faa94e"/>
<path d="M408.3,657.2L408.3,661.1" stroke="#000" stroke-width="2.4" stroke-linecap="round" fill="none"/>
<path d="M415.4,662.3L411.8,661.7L411.8,665.5L415.4,666.1Z" fill="#f9813f"/>
<path d="M411.8,650.1L408.3,649.5L408.3,653.3L411.8,653.9Z" fill="#f34f47"/>
<path d="M424.2,658.3L425.8,657.1L425.8,661L424.2,662.2Z" fill="#f3b354"/>
<path d="M418.9,670.6L415.4,670L415.4,673.8L418.9,674.4Z" fill="#faaf50"/>
<path d="M408.3,653.3L408.3,657.2" stroke="#000" stroke-width="2.4" stroke-linecap="round" fill="none"/>
<path d="M415.4,658.4L411.8,657.8L411.8,661.7L415.4,662.3Z" fill="#f8693f"/>
<path d="M411.8,646.2L408.3,645.6L408.3,649.5L411.8,650.1Z" fill="#f1464b"/>
<path d="M425.8,637.8L427.5,636.5" stroke="#000" stroke-width="2.4" stroke-linecap="round" fill="none"/>
<path d="M424.2,654.5L425.8,653.2L425.8,657.1L424.2,658.3Z" fill="#f3a64d"/>
<path d="M434.6,626.1L436.3,624.9L432.7,624.3L431,625.5Z" fill="#f55048"/>
<path d="M418.9,693.7L422.5,694.3" stroke="#000" stroke-width="2.4" stroke-linecap="round" fill="none"/>
<path d="M439.8,637.1L443.4,637.7" stroke="#000" stroke-width="2.4" stroke-linecap="round" fill="none"/>
<path d="M418.9,666.7L415.4,666.1L415.4,670L418.9,670.6Z" fill="#fa8d42"/>
<path d="M439.8,625.5L436.3,624.9M408.3,649.5L408.3,653.3" stroke="#000" stroke-width="2.4" stroke-linecap="round" fill="none"/>
<path d="M415.4,654.5L411.8,653.9L411.8,657.8L415.4,658.4Z" fill="#f86f3e"/>
<path d="M425.8,626.2L427.5,625L423.9,624.4L422.3,625.6Z" fill="#e12a53"/>
<path d="M411.8,642.4L408.3,641.8L408.3,645.6L411.8,646.2Z" fill="#f1464b"/>
<path d="M424.2,650.6L425.8,649.4L425.8,653.2L424.2,654.5Z" fill="#f39042"/>
<path d="M417.1,626.3L418.7,625L415.2,624.4L413.5,625.7Z" fill="#e42f53"/>
<path d="M422.5,675L424.2,673.8L424.2,677.6L422.5,678.9Z" fill="#f4d97a"/>
<path d="M422.5,675L418.9,674.4L418.9,678.3L422.5,678.9Z" fill="#fbe07e"/>
<path d="M418.9,662.8L415.4,662.3L415.4,666.1L418.9,666.7Z" fill="#fa9244"/>
<path d="M408.3,645.6L408.3,649.5" stroke="#000" stroke-width="2.4" stroke-linecap="round" fill="none"/>
<path d="M415.4,650.7L411.8,650.1L411.8,653.9L415.4,654.5Z" fill="#f86040"/>
<path d="M411.8,638.5L408.3,637.9L408.3,641.8L411.8,642.4Z" fill="#ef404e"/>
<path d="M424.2,646.7L425.8,645.5L425.8,649.4L424.2,650.6Z" fill="#f2813e"/>
<path d="M422.5,694.3L422.5,690.5" stroke="#000" stroke-width="2.4" stroke-linecap="round" fill="none"/>
<path d="M422.5,671.2L424.2,669.9L424.2,673.8L422.5,675Z" fill="#f4d776"/>
<path d="M422.5,671.2L418.9,670.6L418.9,674.4L422.5,675Z" fill="#fbde7a"/>
<path d="M418.9,659L415.4,658.4L415.4,662.3L418.9,662.8Z" fill="#f9753e"/>
<path d="M408.3,641.8L408.3,645.6" stroke="#000" stroke-width="2.4" stroke-linecap="round" fill="none"/>
<path d="M415.4,646.8L411.8,646.2L411.8,650.1L415.4,650.7Z" fill="#f45245"/>
<path d="M411.8,634.6L408.3,634L408.3,637.9L411.8,638.5Z" fill="#e43151"/>
<path d="M438.2,626.7L439.8,625.5L436.3,624.9L434.6,626.1Z" fill="#f03f50"/>
<path d="M424.2,642.9L425.8,641.6L425.8,645.5L424.2,646.7Z" fill="#e94648"/>
<path d="M422.5,690.5L422.5,686.6" stroke="#000" stroke-width="2.4" stroke-linecap="round" fill="none"/>
<path d="M443.4,637.7L446.9,638.3" stroke="#000" stroke-width="2.4" stroke-linecap="round" fill="none"/>
<path d="M422.5,667.3L424.2,666.1L424.2,669.9L422.5,671.2Z" fill="#f4c865"/>
<path d="M422.5,667.3L418.9,666.7L418.9,670.6L422.5,671.2Z" fill="#fbce68"/>
<path d="M443.4,626.1L439.8,625.5" stroke="#000" stroke-width="2.4" stroke-linecap="round" fill="none"/>
<path d="M418.9,655.1L415.4,654.5L415.4,658.4L418.9,659Z" fill="#f86a3f"/>
<path d="M429.4,626.8L431,625.5L427.5,625L425.8,626.2Z" fill="#f44d49"/>
<path d="M408.3,637.9L408.3,641.8" stroke="#000" stroke-width="2.4" stroke-linecap="round" fill="none"/>
<path d="M415.4,642.9L411.8,642.4L411.8,646.2L415.4,646.8Z" fill="#f0434c"/>
<path d="M411.8,630.8L408.3,630.2L408.3,634L411.8,634.6Z" fill="#ef414d"/>
<path d="M408.3,626.3L409.9,625.1" stroke="#000" stroke-width="2.4" stroke-linecap="round" fill="none"/>
<path d="M424.2,639L425.8,637.8L425.8,641.6L424.2,642.9Z" fill="#e63c4d"/>
<path d="M422.5,686.6L422.5,682.7" stroke="#000" stroke-width="2.4" stroke-linecap="round" fill="none"/>
<path d="M420.6,626.8L422.3,625.6L418.7,625L417.1,626.3Z" fill="#e42e53"/>
<path d="M422.5,663.4L424.2,662.2L424.2,666.1L422.5,667.3Z" fill="#f3b555"/>
<path d="M422.5,663.4L418.9,662.8L418.9,666.7L422.5,667.3Z" fill="#fabb58"/>
<path d="M418.9,651.3L415.4,650.7L415.4,654.5L418.9,655.1Z" fill="#f75e41"/>
<path d="M408.3,634L408.3,637.9" stroke="#000" stroke-width="2.4" stroke-linecap="round" fill="none"/>
<path d="M415.4,639.1L411.8,638.5L411.8,642.4L415.4,642.9Z" fill="#ef414d"/>
<path d="M411.8,626.9L413.5,625.7L409.9,625.1L408.3,626.3Z" fill="#e93551"/>
<path d="M411.8,626.9L408.3,626.3L408.3,630.2L411.8,630.8Z" fill="#e73450"/>
<path d="M422.5,682.7L422.5,678.9" stroke="#000" stroke-width="2.4" stroke-linecap="round" fill="none"/>
<path d="M422.5,659.6L424.2,658.3L424.2,662.2L422.5,663.4Z" fill="#f39c48"/>
<path d="M422.5,659.6L418.9,659L418.9,662.8L422.5,663.4Z" fill="#faa14a"/>
<path d="M418.9,647.4L415.4,646.8L415.4,650.7L418.9,651.3Z" fill="#f75a41"/>
<path d="M408.3,630.2L408.3,634" stroke="#000" stroke-width="2.4" stroke-linecap="round" fill="none"/>
<path d="M415.4,635.2L411.8,634.6L411.8,638.5L415.4,639.1Z" fill="#ea3850"/>
<path d="M441.7,627.3L443.4,626.1L439.8,625.5L438.2,626.7Z" fill="#f55048"/>
<path d="M424.2,639L425.8,637.8M422.5,678.9L422.5,675M446.9,638.3L450.5,638.9M446.9,626.7L443.4,626.1" stroke="#000" stroke-width="2.4" stroke-linecap="round" fill="none"/>
<path d="M422.5,655.7L424.2,654.5L424.2,658.3L422.5,659.6Z" fill="#f39c48"/>
<path d="M422.5,655.7L418.9,655.1L418.9,659L422.5,659.6Z" fill="#faa14a"/>
<path d="M432.9,627.4L434.6,626.1L431,625.5L429.4,626.8Z" fill="#f54d49"/>
<path d="M418.9,643.5L415.4,642.9L415.4,646.8L418.9,647.4Z" fill="#ed3b4f"/>
<path d="M408.3,626.3L408.3,630.2" stroke="#000" stroke-width="2.4" stroke-linecap="round" fill="none"/>
<path d="M415.4,631.4L411.8,630.8L411.8,634.6L415.4,635.2Z" fill="#eb3950"/>
<path d="M424.2,627.4L425.8,626.2L422.3,625.6L420.6,626.8Z" fill="#ee3b50"/>
<path d="M422.5,675L422.5,671.2" stroke="#000" stroke-width="2.4" stroke-linecap="round" fill="none"/>
<path d="M422.5,651.8L424.2,650.6L424.2,654.5L422.5,655.7Z" fill="#f39143"/>
<path d="M422.5,651.8L418.9,651.3L418.9,655.1L422.5,655.7Z" fill="#fa9545"/>
<path d="M418.9,639.7L415.4,639.1L415.4,642.9L418.9,643.5Z" fill="#f0434c"/>
<path d="M415.4,627.5L417.1,626.3L413.5,625.7L411.8,626.9Z" fill="#de2654"/>
<path d="M415.4,627.5L411.8,626.9L411.8,630.8L415.4,631.4Z" fill="#dc2653"/>
<path d="M450.5,638.9L450.5,635M422.5,671.2L422.5,667.3" stroke="#000" stroke-width="2.4" stroke-linecap="round" fill="none"/>
<path d="M422.5,648L424.2,646.7L424.2,650.6L422.5,651.8Z" fill="#f27a3c"/>
<path d="M422.5,648L418.9,647.4L418.9,651.3L422.5,651.8Z" fill="#f97e3e"/>
<path d="M418.9,635.8L415.4,635.2L415.4,639.1L418.9,639.7Z" fill="#e53251"/>
<path d="M411.8,626.9L408.3,626.3" stroke="#000" stroke-width="2.4" stroke-linecap="round" fill="none"/>
<path d="M445.3,627.9L446.9,626.7L443.4,626.1L441.7,627.3Z" fill="#f2434d"/>
<path d="M450.5,635L450.5,631.1M422.5,667.3L422.5,663.4M450.5,627.3L446.9,626.7" stroke="#000" stroke-width="2.4" stroke-linecap="round" fill="none"/>
<path d="M436.5,628L438.2,626.7L434.6,626.1L432.9,627.4Z" fill="#f54f48"/>
<path d="M422.5,644.1L424.2,642.9L424.2,646.7L422.5,648Z" fill="#e8424a"/>
<path d="M422.5,644.1L418.9,643.5L418.9,647.4L422.5,648Z" fill="#f0444c"/>
<path d="M418.9,631.9L415.4,631.4L415.4,635.2L418.9,635.8Z" fill="#f0434c"/>
<path d="M448.8,636.2L450.5,635L450.5,638.9L448.8,640.1Z" fill="#ed5342"/>
<path d="M427.7,628L429.4,626.8L425.8,626.2L424.2,627.4Z" fill="#f2454d"/>
<path d="M450.5,631.1L450.5,627.3M422.5,663.4L422.5,659.6" stroke="#000" stroke-width="2.4" stroke-linecap="round" fill="none"/>
<path d="M422.5,640.3L424.2,639L424.2,642.9L422.5,644.1Z" fill="#eb4d45"/>
<path d="M422.5,640.3L418.9,639.7L418.9,643.5L422.5,644.1Z" fill="#f34f47"/>
<path d="M418.9,628.1L420.6,626.8L417.1,626.3L415.4,627.5Z" fill="#e22b53"/>
<path d="M418.9,628.1L415.4,627.5L415.4,631.4L418.9,631.9Z" fill="#e02b52"/>
<path d="M448.8,632.4L450.5,631.1L450.5,635L448.8,636.2Z" fill="#eb4b45"/>
<path d="M448.8,640.1L450.5,638.9" stroke="#000" stroke-width="2.4" stroke-linecap="round" fill="none"/>
<path d="M422.5,659.6L422.5,655.7" stroke="#000" stroke-width="2.4" stroke-linecap="round" fill="none"/>
<path d="M422.5,636.4L418.9,635.8L418.9,639.7L422.5,640.3Z" fill="#e93650"/>
<path d="M415.4,627.5L411.8,626.9" stroke="#000" stroke-width="2.4" stroke-linecap="round" fill="none"/>
<path d="M448.8,628.5L450.5,627.3L446.9,626.7L445.3,627.9Z" fill="#f2444d"/>
<path d="M448.8,628.5L450.5,627.3L450.5,631.1L448.8,632.4Z" fill="#e8414a"/>
<path d="M422.5,655.7L422.5,651.8" stroke="#000" stroke-width="2.4" stroke-linecap="round" fill="none"/>
<path d="M440.1,628.6L441.7,627.3L438.2,626.7L436.5,628Z" fill="#f54e48"/>
<path d="M422.5,632.5L418.9,631.9L418.9,635.8L422.5,636.4Z" fill="#ee3d4f"/>
<path d="M422.5,640.3L424.2,639" stroke="#000" stroke-width="2.4" stroke-linecap="round" fill="none"/>
<path d="M431.3,628.6L432.9,627.4L429.4,626.8L427.7,628Z" fill="#f75645"/>
<path d="M422.5,651.8L422.5,648" stroke="#000" stroke-width="2.4" stroke-linecap="round" fill="none"/>
<path d="M422.5,628.7L424.2,627.4L420.6,626.8L418.9,628.1Z" fill="#ea3651"/>
<path d="M422.5,628.7L418.9,628.1L418.9,631.9L422.5,632.5Z" fill="#e83550"/>
<path d="M448.8,628.5L450.5,627.3" stroke="#000" stroke-width="2.4" stroke-linecap="round" fill="none"/>
<path d="M422.5,648L422.5,644.1" stroke="#000" stroke-width="2.4" stroke-linecap="round" fill="none"/>
<path d="M426.1,637L422.5,636.4L422.5,640.3L426.1,640.9Z" fill="#f55444"/>
<path d="M418.9,628.1L415.4,627.5" stroke="#000" stroke-width="2.4" stroke-linecap="round" fill="none"/>
<path d="M443.6,629.2L445.3,627.9L441.7,627.3L440.1,628.6Z" fill="#f95b43"/>
<path d="M422.5,644.1L422.5,640.3" stroke="#000" stroke-width="2.4" stroke-linecap="round" fill="none"/>
<path d="M426.1,633.1L422.5,632.5L422.5,636.4L426.1,637Z" fill="#f75b41"/>
<path d="M434.8,629.2L436.5,628L432.9,627.4L431.3,628.6Z" fill="#f75446"/>
<path d="M447.2,637.5L448.8,636.2L448.8,640.1L447.2,641.3Z" fill="#e8424a"/>
<path d="M426.1,629.3L427.7,628L424.2,627.4L422.5,628.7Z" fill="#f03f50"/>
<path d="M426.1,629.3L422.5,628.7L422.5,632.5L426.1,633.1Z" fill="#ee3e4f"/>
<path d="M447.2,633.6L448.8,632.4L448.8,636.2L447.2,637.5Z" fill="#e73e4b"/>
<path d="M422.5,640.3L426.1,640.9M447.2,641.3L448.8,640.1" stroke="#000" stroke-width="2.4" stroke-linecap="round" fill="none"/>
<path d="M429.6,637.6L426.1,637L426.1,640.9L429.6,641.4Z" fill="#f45245"/>
<path d="M422.5,628.7L418.9,628.1" stroke="#000" stroke-width="2.4" stroke-linecap="round" fill="none"/>
<path d="M447.2,629.7L448.8,628.5L445.3,627.9L443.6,629.2Z" fill="#f2454d"/>
<path d="M447.2,629.7L448.8,628.5L448.8,632.4L447.2,633.6Z" fill="#e8424a"/>
<path d="M429.6,633.7L426.1,633.1L426.1,637L429.6,637.6Z" fill="#f0424c"/>
<path d="M438.4,629.8L440.1,628.6L436.5,628L434.8,629.2Z" fill="#f1414e"/>
<path d="M429.6,629.9L431.3,628.6L427.7,628L426.1,629.3Z" fill="#f2454d"/>
<path d="M429.6,629.9L426.1,629.3L426.1,633.1L429.6,633.7Z" fill="#f0444c"/>
<path d="M426.1,640.9L429.6,641.4" stroke="#000" stroke-width="2.4" stroke-linecap="round" fill="none"/>
<path d="M433.2,638.2L429.6,637.6L429.6,641.4L433.2,642Z" fill="#f0424d"/>
<path d="M426.1,629.3L422.5,628.7M447.2,629.7L448.8,628.5" stroke="#000" stroke-width="2.4" stroke-linecap="round" fill="none"/>
<path d="M433.2,634.3L429.6,633.7L429.6,637.6L433.2,638.2Z" fill="#f24c48"/>
<path d="M442,630.4L443.6,629.2L440.1,628.6L438.4,629.8Z" fill="#f65346"/>
<path d="M433.2,630.4L434.8,629.2L431.3,628.6L429.6,629.9Z" fill="#f2454d"/>
<path d="M433.2,630.4L429.6,629.9L429.6,633.7L433.2,634.3Z" fill="#f0444c"/>
<path d="M445.5,638.7L447.2,637.5L447.2,641.3L445.5,642.6Z" fill="#ea4946"/>
<path d="M429.6,641.4L433.2,642" stroke="#000" stroke-width="2.4" stroke-linecap="round" fill="none"/>
<path d="M436.7,638.8L433.2,638.2L433.2,642L436.7,642.6Z" fill="#f0454b"/>
<path d="M429.6,629.9L426.1,629.3" stroke="#000" stroke-width="2.4" stroke-linecap="round" fill="none"/>
<path d="M445.5,634.8L447.2,633.6L447.2,637.5L445.5,638.7Z" fill="#ea4747"/>
<path d="M445.5,642.6L447.2,641.3" stroke="#000" stroke-width="2.4" stroke-linecap="round" fill="none"/>
<path d="M436.7,634.9L433.2,634.3L433.2,638.2L436.7,638.8Z" fill="#f24b48"/>
<path d="M445.5,631L447.2,629.7L443.6,629.2L442,630.4Z" fill="#f44a4a"/>
<path d="M445.5,631L447.2,629.7L447.2,633.6L445.5,634.8Z" fill="#ea4747"/>
<path d="M436.7,631L438.4,629.8L434.8,629.2L433.2,630.4Z" fill="#f44a4a"/>
<path d="M436.7,631L433.2,630.4L433.2,634.3L436.7,634.9Z" fill="#f24949"/>
<path d="M433.2,642L436.7,642.6" stroke="#000" stroke-width="2.4" stroke-linecap="round" fill="none"/>
<path d="M440.3,639.4L436.7,638.8L436.7,642.6L440.3,643.2Z" fill="#f55444"/>
<path d="M433.2,630.4L429.6,629.9M445.5,631L447.2,629.7" stroke="#000" stroke-width="2.4" stroke-linecap="round" fill="none"/>
<path d="M440.3,635.5L436.7,634.9L436.7,638.8L440.3,639.4Z" fill="#f75b41"/>
<path d="M440.3,631.6L442,630.4L438.4,629.8L436.7,631Z" fill="#f44d49"/>
<path d="M440.3,631.6L436.7,631L436.7,634.9L440.3,635.5Z" fill="#f24c48"/>
<path d="M436.7,642.6L440.3,643.2" stroke="#000" stroke-width="2.4" stroke-linecap="round" fill="none"/>
<path d="M443.8,639.9L445.5,638.7L445.5,642.6L443.8,643.8Z" fill="#ee5441"/>
<path d="M443.8,639.9L440.3,639.4L440.3,643.2L443.8,643.8Z" fill="#f65643"/>
<path d="M436.7,631L433.2,630.4" stroke="#000" stroke-width="2.4" stroke-linecap="round" fill="none"/>
<path d="M443.8,636.1L445.5,634.8L445.5,638.7L443.8,639.9Z" fill="#ea4a46"/>
<path d="M443.8,636.1L440.3,635.5L440.3,639.4L443.8,639.9Z" fill="#f24c48"/>
<path d="M443.8,643.8L445.5,642.6" stroke="#000" stroke-width="2.4" stroke-linecap="round" fill="none"/>
<path d="M443.8,632.2L445.5,631L442,630.4L440.3,631.6Z" fill="#f2454d"/>
<path d="M443.8,632.2L445.5,631L445.5,634.8L443.8,636.1Z" fill="#e8424a"/>
<path d="M443.8,632.2L440.3,631.6L440.3,635.5L443.8,636.1Z" fill="#f0444c"/>
<path d="M440.3,643.2L443.8,643.8M440.3,631.6L436.7,631M443.8,632.2L445.5,631M443.8,643.8L443.8,639.9M443.8,639.9L443.8,636.1M443.8,632.2L440.3,631.6M443.8,636.1L443.8,632.2" stroke="#000" stroke-width="2.4" stroke-linecap="round" fill="none"/>
</g>
<text x="456.4" y="750.7" font-size="9.4" text-anchor="start">0</text>
<text x="444.4" y="754" font-size="9.4" text-anchor="middle">0</text>
<text x="464.7" y="744.5" font-size="9.4" text-anchor="start">5</text>
<text x="426.2" y="751" font-size="9.4" text-anchor="middle">5</text>
<text x="473" y="738.3" font-size="9.4" text-anchor="start">10</text>
<text x="407.9" y="747.9" font-size="9.4" text-anchor="middle">10</text>
<text x="481.3" y="732.1" font-size="9.4" text-anchor="start">15</text>
<text x="389.7" y="744.9" font-size="9.4" text-anchor="middle">15</text>
<text x="489.6" y="725.9" font-size="9.4" text-anchor="start">20</text>
<text x="371.4" y="741.9" font-size="9.4" text-anchor="middle">20</text>
<text x="497.9" y="719.7" font-size="9.4" text-anchor="start">25</text>
<text x="353.2" y="738.8" font-size="9.4" text-anchor="middle">25</text>
<text x="506.2" y="713.5" font-size="9.4" text-anchor="start">30</text>
<text x="334.9" y="735.8" font-size="9.4" text-anchor="middle">30</text>
<text x="333.7" y="628.7" font-size="9.4" text-anchor="end">0</text>
<text x="333.7" y="658.7" font-size="9.4" text-anchor="end">5</text>
<text x="333.7" y="688.7" font-size="9.4" text-anchor="end">10</text>
<text x="333.7" y="718.7" font-size="9.4" text-anchor="end">15</text>
<text x="320.2" y="670.5" font-size="8.9" text-anchor="middle" transform="rotate(-90 320.2 670.5)">Depth/(km)</text>
<text x="386.6" y="758.7" font-size="9.2" text-anchor="middle">Y/(km)</text>
<text x="500.4" y="752.9" font-size="9.2" text-anchor="middle">X/(km)</text>
<rect x="520.4" y="586.7" width="9.3" height="154" fill="url(#cb)"/>
<text x="533.1" y="589.8" font-size="8.8" text-anchor="start">1</text>
<text x="533.1" y="620.6" font-size="8.8" text-anchor="start">0.8</text>
<text x="533.1" y="651.4" font-size="8.8" text-anchor="start">0.6</text>
<text x="533.1" y="682.2" font-size="8.8" text-anchor="start">0.4</text>
<text x="533.1" y="713" font-size="8.8" text-anchor="start">0.2</text>
<text x="533.1" y="743.8" font-size="8.8" text-anchor="start">0</text>
<path d="M529.7,586.7h-1.5M529.7,617.5h-1.5M529.7,648.3h-1.5M529.7,679.1h-1.5M529.7,709.9h-1.5M529.7,740.7h-1.5" stroke="#222" stroke-width=".5" fill="none"/>
<text x="524.4" y="582.2" font-size="8.9" text-anchor="middle">g/cm<tspan dy="-4.6" font-size="6.6">3</tspan></text>
<text x="295.7" y="587.6" font-size="17.8" text-anchor="start" style="font-weight:400">( h )</text>
</svg></body></html>
